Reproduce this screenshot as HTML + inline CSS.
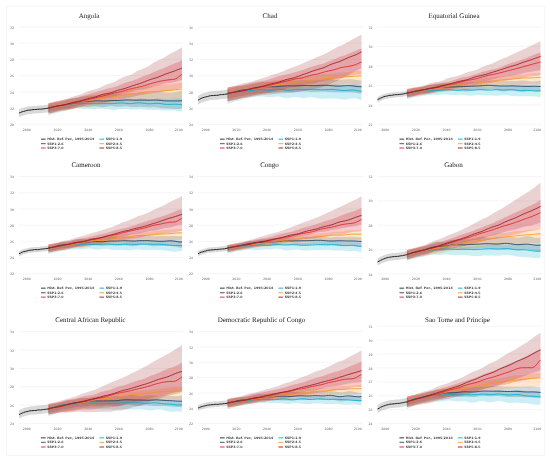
<!DOCTYPE html>
<html><head><meta charset="utf-8"><title>Central Africa temperature projections</title>
<style>
html,body{margin:0;padding:0;background:#fff;}
body{width:550px;height:460px;overflow:hidden;}
svg{display:block;text-rendering:geometricPrecision;filter:blur(0.35px);}
.t{font-family:"Liberation Serif",serif;font-size:7px;fill:#1a1a1a;text-anchor:middle;}
.yl{font-family:"DejaVu Sans","Liberation Sans",sans-serif;font-size:3.2px;fill:#6a6a6a;text-anchor:end;}
.xl{font-family:"DejaVu Sans","Liberation Sans",sans-serif;font-size:3.2px;fill:#6a6a6a;text-anchor:middle;}
.lg{font-family:"DejaVu Sans","Liberation Sans",sans-serif;font-weight:bold;font-size:3.2px;fill:#444;}
.g{stroke:#ececec;stroke-width:0.5;}
</style></head><body>
<svg width="550" height="460" viewBox="0 0 550 460">
<rect x="0" y="0" width="550" height="460" fill="#ffffff"/>
<rect x="6.4" y="6.1" width="538.2" height="449.3" fill="none" stroke="#f1f1f1" stroke-width="0.6"/>

<g>
<text class="t" x="89.0" y="17.9">Angola</text>
<line class="g" x1="18.7" y1="26.90" x2="183.5" y2="26.90"/>
<text class="yl" x="14.0" y="28.50">32</text>
<line class="g" x1="18.7" y1="43.15" x2="183.5" y2="43.15"/>
<text class="yl" x="14.0" y="44.75">30</text>
<line class="g" x1="18.7" y1="59.40" x2="183.5" y2="59.40"/>
<text class="yl" x="14.0" y="61.00">28</text>
<line class="g" x1="18.7" y1="75.65" x2="183.5" y2="75.65"/>
<text class="yl" x="14.0" y="77.25">26</text>
<line class="g" x1="18.7" y1="91.90" x2="183.5" y2="91.90"/>
<text class="yl" x="14.0" y="93.50">24</text>
<line class="g" x1="18.7" y1="108.15" x2="183.5" y2="108.15"/>
<text class="yl" x="14.0" y="109.75">22</text>
<line class="g" x1="18.7" y1="124.40" x2="183.5" y2="124.40"/>
<text class="yl" x="14.0" y="126.00">20</text>
<text class="xl" x="26.8" y="130.60">2000</text>
<text class="xl" x="57.5" y="130.60">2020</text>
<text class="xl" x="88.2" y="130.60">2040</text>
<text class="xl" x="118.8" y="130.60">2060</text>
<text class="xl" x="149.6" y="130.60">2080</text>
<text class="xl" x="178.8" y="130.60">2100</text>
<polygon points="19.0,109.5 20.6,108.8 22.1,108.2 23.7,107.8 25.2,107.4 26.8,106.9 28.3,106.6 29.9,106.5 31.4,106.3 33.0,106.0 34.5,105.9 36.1,105.9 37.6,105.7 39.2,105.6 40.7,105.6 42.3,105.4 43.8,105.2 45.4,105.0 46.9,104.8 48.5,104.5 50.0,104.4 50.0,112.0 48.5,112.1 46.9,112.4 45.4,112.6 43.8,112.8 42.3,113.0 40.7,113.2 39.2,113.2 37.6,113.3 36.1,113.5 34.5,113.5 33.0,113.6 31.4,113.9 29.9,114.1 28.3,114.2 26.8,114.5 25.2,115.0 23.7,115.4 22.1,115.8 20.6,116.4 19.0,117.1" fill="rgb(30,30,30)" fill-opacity="0.17"/>
<polygon points="48.4,108.2 50.0,107.8 51.6,107.3 53.2,106.9 54.7,106.4 56.3,106.0 57.9,105.8 59.4,105.6 61.0,105.5 62.6,105.4 64.2,105.1 65.7,104.6 67.3,104.0 68.9,103.3 70.4,102.6 72.0,102.0 73.6,101.7 75.2,101.5 76.7,101.5 78.3,101.6 79.9,101.8 81.4,101.9 83.0,101.9 84.6,101.9 86.2,101.8 87.7,101.8 89.3,101.7 90.9,101.8 92.4,101.8 94.0,101.9 95.6,102.0 97.2,102.0 98.7,101.9 100.3,101.7 101.9,101.5 103.4,101.2 105.0,100.9 106.6,100.7 108.2,100.5 109.7,100.4 111.3,100.4 112.9,100.3 114.4,100.2 116.0,100.1 117.6,99.9 119.2,99.7 120.7,99.5 122.3,99.5 123.9,99.5 125.4,99.6 127.0,99.7 128.6,99.9 130.2,99.9 131.7,99.9 133.3,99.6 134.9,99.3 136.4,99.0 138.0,98.7 139.6,98.4 141.1,98.4 142.7,98.5 144.3,98.7 145.9,99.0 147.4,99.2 149.0,99.4 150.6,99.4 152.1,99.3 153.7,99.0 155.3,98.8 156.9,98.5 158.4,98.4 160.0,98.4 161.6,98.6 163.1,98.7 164.7,98.9 166.3,99.1 167.9,99.1 169.4,99.0 171.0,98.7 172.6,98.5 174.1,98.3 175.7,98.2 177.3,98.2 178.9,98.3 180.4,98.5 182.0,98.8 182.0,111.8 180.4,111.6 178.9,111.2 177.3,110.9 175.7,110.7 174.1,110.5 172.6,110.4 171.0,110.4 169.4,110.5 167.9,110.6 166.3,110.6 164.7,110.6 163.1,110.5 161.6,110.4 160.0,110.2 158.4,110.1 156.9,110.0 155.3,109.9 153.7,109.9 152.1,110.0 150.6,110.0 149.0,109.9 147.4,109.9 145.9,109.7 144.3,109.6 142.7,109.4 141.1,109.3 139.6,109.3 138.0,109.3 136.4,109.4 134.9,109.5 133.3,109.6 131.7,109.5 130.2,109.5 128.6,109.3 127.0,109.1 125.4,108.9 123.9,108.9 122.3,108.9 120.7,109.0 119.2,109.2 117.6,109.5 116.0,109.8 114.4,109.9 112.9,110.0 111.3,109.8 109.7,109.6 108.2,109.3 106.6,109.0 105.0,108.8 103.4,108.6 101.9,108.5 100.3,108.5 98.7,108.6 97.2,108.8 95.6,108.9 94.0,108.9 92.4,109.0 90.9,109.0 89.3,108.9 87.7,108.8 86.2,108.8 84.6,108.7 83.0,108.6 81.4,108.5 79.9,108.4 78.3,108.3 76.7,108.3 75.2,108.3 73.6,108.4 72.0,108.6 70.4,109.0 68.9,109.5 67.3,110.0 65.7,110.6 64.2,111.1 62.6,111.5 61.0,111.9 59.4,112.3 57.9,112.6 56.3,113.1 54.7,113.6 53.2,114.1 51.6,114.6 50.0,115.1 48.4,115.6" fill="rgb(0,173,207)" fill-opacity="0.20"/>
<polygon points="48.4,104.6 50.0,104.1 51.6,103.6 53.2,103.1 54.7,102.7 56.3,102.5 57.9,102.3 59.4,102.0 61.0,101.7 62.6,101.4 64.2,100.9 65.7,100.3 67.3,99.8 68.9,99.4 70.4,99.0 72.0,98.8 73.6,98.6 75.2,98.4 76.7,98.1 78.3,97.8 79.9,97.4 81.4,97.0 83.0,96.6 84.6,96.3 86.2,96.0 87.7,95.8 89.3,95.6 90.9,95.5 92.4,95.5 94.0,95.5 95.6,95.5 97.2,95.5 98.7,95.6 100.3,95.6 101.9,95.6 103.4,95.4 105.0,95.2 106.6,94.9 108.2,94.6 109.7,94.3 111.3,94.1 112.9,94.0 114.4,93.9 116.0,93.8 117.6,93.8 119.2,93.8 120.7,93.7 122.3,93.6 123.9,93.4 125.4,93.3 127.0,93.3 128.6,93.2 130.2,93.2 131.7,93.2 133.3,93.2 134.9,93.1 136.4,92.9 138.0,92.7 139.6,92.5 141.1,92.4 142.7,92.3 144.3,92.3 145.9,92.4 147.4,92.5 149.0,92.5 150.6,92.6 152.1,92.5 153.7,92.3 155.3,92.2 156.9,92.1 158.4,92.0 160.0,92.0 161.6,92.1 163.1,92.3 164.7,92.5 166.3,92.6 167.9,92.8 169.4,92.8 171.0,92.8 172.6,92.6 174.1,92.4 175.7,92.1 177.3,91.8 178.9,91.5 180.4,91.2 182.0,91.0 182.0,108.4 180.4,108.6 178.9,108.9 177.3,109.0 175.7,109.1 174.1,109.0 172.6,108.8 171.0,108.7 169.4,108.5 167.9,108.4 166.3,108.4 164.7,108.3 163.1,108.3 161.6,108.1 160.0,107.9 158.4,107.6 156.9,107.4 155.3,107.2 153.7,107.1 152.1,107.2 150.6,107.2 149.0,107.3 147.4,107.3 145.9,107.2 144.3,107.0 142.7,106.9 141.1,106.8 139.6,106.8 138.0,106.9 136.4,107.0 134.9,107.0 133.3,107.0 131.7,106.9 130.2,106.7 128.6,106.5 127.0,106.3 125.4,106.2 123.9,106.3 122.3,106.5 120.7,106.7 119.2,106.8 117.6,106.8 116.0,106.7 114.4,106.5 112.9,106.2 111.3,106.1 109.7,106.2 108.2,106.4 106.6,106.7 105.0,107.0 103.4,107.2 101.9,107.2 100.3,107.0 98.7,106.8 97.2,106.5 95.6,106.4 94.0,106.4 92.4,106.5 90.9,106.6 89.3,106.8 87.7,106.9 86.2,106.8 84.6,106.6 83.0,106.4 81.4,106.4 79.9,106.5 78.3,106.8 76.7,107.2 75.2,107.8 73.6,108.3 72.0,108.8 70.4,109.0 68.9,109.2 67.3,109.2 65.7,109.3 64.2,109.4 62.6,109.6 61.0,109.8 59.4,110.1 57.9,110.3 56.3,110.4 54.7,110.6 53.2,110.9 51.6,111.2 50.0,111.6 48.4,111.9" fill="rgb(23,60,102)" fill-opacity="0.20"/>
<polygon points="48.4,103.2 50.0,102.9 51.6,102.6 53.2,102.3 54.7,102.0 56.3,101.6 57.9,101.3 59.4,100.9 61.0,100.6 62.6,100.2 64.2,99.9 65.7,99.6 67.3,99.3 68.9,99.1 70.4,98.8 72.0,98.6 73.6,98.4 75.2,98.2 76.7,97.9 78.3,97.7 79.9,97.4 81.4,97.2 83.0,96.9 84.6,96.7 86.2,96.4 87.7,96.1 89.3,95.8 90.9,95.5 92.4,95.2 94.0,94.8 95.6,94.5 97.2,94.1 98.7,93.7 100.3,93.4 101.9,93.2 103.4,92.9 105.0,92.7 106.6,92.4 108.2,92.2 109.7,91.9 111.3,91.6 112.9,91.3 114.4,91.1 116.0,90.9 117.6,90.8 119.2,90.7 120.7,90.6 122.3,90.4 123.9,90.2 125.4,89.9 127.0,89.6 128.6,89.3 130.2,89.0 131.7,88.8 133.3,88.6 134.9,88.4 136.4,88.2 138.0,87.9 139.6,87.6 141.1,87.3 142.7,86.9 144.3,86.6 145.9,86.3 147.4,86.1 149.0,85.9 150.6,85.8 152.1,85.8 153.7,85.7 155.3,85.5 156.9,85.3 158.4,85.1 160.0,84.8 161.6,84.7 163.1,84.6 164.7,84.5 166.3,84.5 167.9,84.5 169.4,84.4 171.0,84.2 172.6,84.0 174.1,83.7 175.7,83.4 177.3,83.2 178.9,83.0 180.4,83.0 182.0,83.0 182.0,99.1 180.4,99.0 178.9,99.0 177.3,99.0 175.7,99.0 174.1,98.9 172.6,98.9 171.0,98.9 169.4,99.0 167.9,99.1 166.3,99.3 164.7,99.6 163.1,99.8 161.6,100.0 160.0,100.0 158.4,99.9 156.9,99.8 155.3,99.6 153.7,99.5 152.1,99.5 150.6,99.6 149.0,99.9 147.4,100.2 145.9,100.5 144.3,100.8 142.7,101.0 141.1,101.1 139.6,101.1 138.0,101.1 136.4,101.1 134.9,101.2 133.3,101.3 131.7,101.4 130.2,101.5 128.6,101.6 127.0,101.8 125.4,101.9 123.9,102.1 122.3,102.3 120.7,102.6 119.2,102.9 117.6,103.2 116.0,103.5 114.4,103.6 112.9,103.7 111.3,103.7 109.7,103.7 108.2,103.7 106.6,103.8 105.0,104.0 103.4,104.3 101.9,104.7 100.3,105.1 98.7,105.4 97.2,105.7 95.6,105.9 94.0,106.1 92.4,106.2 90.9,106.4 89.3,106.6 87.7,106.8 86.2,107.0 84.6,107.3 83.0,107.4 81.4,107.6 79.9,107.8 78.3,108.0 76.7,108.2 75.2,108.6 73.6,109.0 72.0,109.5 70.4,109.9 68.9,110.3 67.3,110.6 65.7,110.7 64.2,110.8 62.6,110.8 61.0,111.0 59.4,111.2 57.9,111.5 56.3,111.9 54.7,112.3 53.2,112.7 51.6,113.0 50.0,113.3 48.4,113.6" fill="rgb(247,148,32)" fill-opacity="0.22"/>
<polygon points="48.4,103.2 50.0,102.9 51.6,102.7 53.2,102.4 54.7,102.1 56.3,101.8 57.9,101.4 59.4,101.0 61.0,100.7 62.6,100.4 64.2,100.1 65.7,99.8 67.3,99.5 68.9,99.2 70.4,98.8 72.0,98.4 73.6,98.0 75.2,97.6 76.7,97.2 78.3,96.9 79.9,96.5 81.4,96.1 83.0,95.7 84.6,95.3 86.2,94.8 87.7,94.4 89.3,93.9 90.9,93.5 92.4,93.0 94.0,92.6 95.6,92.2 97.2,91.8 98.7,91.3 100.3,90.8 101.9,90.3 103.4,89.8 105.0,89.3 106.6,88.8 108.2,88.4 109.7,88.1 111.3,87.7 112.9,87.4 114.4,87.0 116.0,86.5 117.6,85.9 119.2,85.3 120.7,84.6 122.3,83.9 123.9,83.3 125.4,82.7 127.0,82.2 128.6,81.8 130.2,81.3 131.7,80.9 133.3,80.4 134.9,79.8 136.4,79.2 138.0,78.6 139.6,77.9 141.1,77.2 142.7,76.6 144.3,76.0 145.9,75.4 147.4,74.8 149.0,74.2 150.6,73.5 152.1,72.8 153.7,72.2 155.3,71.5 156.9,70.8 158.4,70.2 160.0,69.6 161.6,69.0 163.1,68.4 164.7,67.7 166.3,67.0 167.9,66.3 169.4,65.6 171.0,64.9 172.6,64.3 174.1,63.6 175.7,63.0 177.3,62.4 178.9,61.7 180.4,61.0 182.0,60.2 182.0,87.9 180.4,88.2 178.9,88.6 177.3,88.9 175.7,89.2 174.1,89.6 172.6,89.9 171.0,90.1 169.4,90.4 167.9,90.7 166.3,90.9 164.7,91.2 163.1,91.4 161.6,91.7 160.0,92.0 158.4,92.2 156.9,92.5 155.3,92.8 153.7,93.0 152.1,93.3 150.6,93.5 149.0,93.7 147.4,94.0 145.9,94.2 144.3,94.4 142.7,94.7 141.1,95.0 139.6,95.3 138.0,95.6 136.4,96.0 134.9,96.3 133.3,96.7 131.7,97.1 130.2,97.4 128.6,97.8 127.0,98.1 125.4,98.4 123.9,98.7 122.3,99.0 120.7,99.3 119.2,99.5 117.6,99.8 116.0,100.1 114.4,100.4 112.9,100.7 111.3,101.0 109.7,101.3 108.2,101.6 106.6,102.0 105.0,102.3 103.4,102.6 101.9,102.9 100.3,103.1 98.7,103.4 97.2,103.6 95.6,103.8 94.0,104.0 92.4,104.3 90.9,104.5 89.3,104.8 87.7,105.1 86.2,105.5 84.6,105.9 83.0,106.3 81.4,106.7 79.9,107.2 78.3,107.6 76.7,108.0 75.2,108.3 73.6,108.7 72.0,109.0 70.4,109.3 68.9,109.6 67.3,109.9 65.7,110.2 64.2,110.4 62.6,110.7 61.0,111.0 59.4,111.3 57.9,111.6 56.3,112.0 54.7,112.3 53.2,112.6 51.6,112.9 50.0,113.3 48.4,113.6" fill="rgb(231,29,37)" fill-opacity="0.24"/>
<polygon points="48.4,103.2 50.0,102.8 51.6,102.4 53.2,102.0 54.7,101.6 56.3,101.3 57.9,100.9 59.4,100.6 61.0,100.2 62.6,99.8 64.2,99.3 65.7,98.9 67.3,98.4 68.9,97.9 70.4,97.4 72.0,96.9 73.6,96.4 75.2,95.9 76.7,95.4 78.3,94.9 79.9,94.4 81.4,93.9 83.0,93.4 84.6,92.8 86.2,92.1 87.7,91.5 89.3,90.9 90.9,90.4 92.4,90.0 94.0,89.6 95.6,89.2 97.2,88.8 98.7,88.2 100.3,87.6 101.9,86.8 103.4,86.0 105.0,85.3 106.6,84.6 108.2,84.1 109.7,83.6 111.3,83.1 112.9,82.6 114.4,82.0 116.0,81.2 117.6,80.3 119.2,79.3 120.7,78.4 122.3,77.6 123.9,77.0 125.4,76.5 127.0,76.1 128.6,75.6 130.2,75.1 131.7,74.4 133.3,73.5 134.9,72.5 136.4,71.6 138.0,70.7 139.6,70.0 141.1,69.4 142.7,68.8 144.3,68.3 145.9,67.6 147.4,66.8 149.0,65.8 150.6,64.7 152.1,63.7 153.7,62.6 155.3,61.7 156.9,60.9 158.4,60.2 160.0,59.6 161.6,58.9 163.1,58.1 164.7,57.2 166.3,56.2 167.9,55.2 169.4,54.2 171.0,53.3 172.6,52.5 174.1,51.7 175.7,50.9 177.3,50.1 178.9,49.2 180.4,48.3 182.0,47.3 182.0,79.9 180.4,80.2 178.9,80.7 177.3,81.2 175.7,81.7 174.1,82.1 172.6,82.4 171.0,82.7 169.4,82.9 167.9,83.1 166.3,83.3 164.7,83.6 163.1,84.0 161.6,84.5 160.0,84.9 158.4,85.3 156.9,85.7 155.3,86.1 153.7,86.6 152.1,87.0 150.6,87.5 149.0,88.0 147.4,88.4 145.9,88.8 144.3,89.1 142.7,89.4 141.1,89.6 139.6,89.8 138.0,90.1 136.4,90.4 134.9,90.9 133.3,91.4 131.7,91.9 130.2,92.4 128.6,92.7 127.0,93.0 125.4,93.2 123.9,93.5 122.3,93.8 120.7,94.2 119.2,94.7 117.6,95.4 116.0,96.0 114.4,96.6 112.9,97.1 111.3,97.5 109.7,97.8 108.2,98.0 106.6,98.1 105.0,98.4 103.4,98.7 101.9,99.1 100.3,99.6 98.7,100.0 97.2,100.5 95.6,100.9 94.0,101.3 92.4,101.6 90.9,102.0 89.3,102.4 87.7,102.9 86.2,103.4 84.6,103.9 83.0,104.4 81.4,104.8 79.9,105.3 78.3,105.7 76.7,106.1 75.2,106.5 73.6,107.0 72.0,107.5 70.4,107.9 68.9,108.3 67.3,108.6 65.7,108.8 64.2,109.0 62.6,109.3 61.0,109.7 59.4,110.2 57.9,110.8 56.3,111.3 54.7,111.9 53.2,112.4 51.6,112.8 50.0,113.2 48.4,113.6" fill="rgb(149,27,30)" fill-opacity="0.20"/>
<polyline points="19.0,113.1 20.6,112.4 22.1,111.8 23.7,111.4 25.2,111.0 26.8,110.5 28.3,110.2 29.9,110.1 31.4,109.9 33.0,109.6 34.5,109.5 36.1,109.5 37.6,109.3 39.2,109.2 40.7,109.2 42.3,109.0 43.8,108.8 45.4,108.6 46.9,108.4 48.5,108.1 50.0,108.0" fill="none" stroke="rgb(35,35,35)" stroke-width="1.00" stroke-linejoin="round"/>
<polyline points="48.4,108.0 50.0,107.7 51.6,107.3 53.2,106.8 54.7,106.4 56.3,106.1 57.9,105.9 59.4,105.7 61.0,105.6 62.6,105.5 64.2,105.3 65.7,105.0 67.3,104.6 68.9,104.3 70.4,103.9 72.0,103.7 73.6,103.5 75.2,103.5 76.7,103.5 78.3,103.6 79.9,103.6 81.4,103.7 83.0,103.7 84.6,103.6 86.2,103.6 87.7,103.6 89.3,103.6 90.9,103.6 92.4,103.6 94.0,103.7 95.6,103.7 97.2,103.7 98.7,103.7 100.3,103.6 101.9,103.6 103.4,103.6 105.0,103.6 106.6,103.6 108.2,103.6 109.7,103.7 111.3,103.6 112.9,103.6 114.4,103.4 116.0,103.3 117.6,103.1 119.2,103.0 120.7,102.9 122.3,103.0 123.9,103.1 125.4,103.3 127.0,103.4 128.6,103.6 130.2,103.6 131.7,103.5 133.3,103.4 134.9,103.1 136.4,102.9 138.0,102.8 139.6,102.8 141.1,102.9 142.7,103.1 144.3,103.3 145.9,103.6 147.4,103.7 149.0,103.8 150.6,103.8 152.1,103.7 153.7,103.5 155.3,103.4 156.9,103.3 158.4,103.4 160.0,103.5 161.6,103.7 163.1,104.0 164.7,104.2 166.3,104.4 167.9,104.4 169.4,104.4 171.0,104.4 172.6,104.3 174.1,104.2 175.7,104.3 177.3,104.3 178.9,104.5 180.4,104.7 182.0,104.8" fill="none" stroke="rgb(0,173,207)" stroke-width="0.85" stroke-linejoin="round"/>
<polyline points="48.4,108.0 50.0,107.6 51.6,107.2 53.2,106.8 54.7,106.5 56.3,106.2 57.9,105.9 59.4,105.6 61.0,105.4 62.6,105.1 64.2,104.9 65.7,104.6 67.3,104.3 68.9,104.0 70.4,103.8 72.0,103.6 73.6,103.3 75.2,103.0 76.7,102.7 78.3,102.3 79.9,102.0 81.4,101.8 83.0,101.6 84.6,101.5 86.2,101.4 87.7,101.4 89.3,101.3 90.9,101.2 92.4,101.1 94.0,101.0 95.6,100.9 97.2,100.9 98.7,100.9 100.3,100.9 101.9,101.0 103.4,101.0 105.0,101.0 106.6,101.0 108.2,100.9 109.7,100.7 111.3,100.6 112.9,100.6 114.4,100.5 116.0,100.5 117.6,100.5 119.2,100.4 120.7,100.3 122.3,100.2 123.9,100.1 125.4,99.9 127.0,99.9 128.6,99.9 130.2,99.9 131.7,100.0 133.3,100.1 134.9,100.2 136.4,100.2 138.0,100.2 139.6,100.1 141.1,100.1 142.7,100.1 144.3,100.1 145.9,100.1 147.4,100.2 149.0,100.2 150.6,100.2 152.1,100.1 153.7,100.1 155.3,100.1 156.9,100.1 158.4,100.2 160.0,100.3 161.6,100.5 163.1,100.7 164.7,100.8 166.3,100.9 167.9,100.9 169.4,100.9 171.0,100.9 172.6,100.9 174.1,100.9 175.7,100.9 177.3,100.9 178.9,100.9 180.4,100.8 182.0,100.7" fill="none" stroke="rgb(23,60,102)" stroke-width="0.85" stroke-linejoin="round"/>
<polyline points="48.4,108.0 50.0,107.7 51.6,107.4 53.2,107.2 54.7,106.9 56.3,106.7 57.9,106.4 59.4,106.0 61.0,105.6 62.6,105.2 64.2,104.8 65.7,104.4 67.3,104.1 68.9,103.9 70.4,103.6 72.0,103.4 73.6,103.1 75.2,102.8 76.7,102.5 78.3,102.2 79.9,101.9 81.4,101.7 83.0,101.4 84.6,101.3 86.2,101.1 87.7,100.9 89.3,100.6 90.9,100.3 92.4,99.9 94.0,99.6 95.6,99.2 97.2,99.0 98.7,98.7 100.3,98.5 101.9,98.4 103.4,98.3 105.0,98.1 106.6,97.9 108.2,97.6 109.7,97.3 111.3,97.0 112.9,96.7 114.4,96.4 116.0,96.2 117.6,96.0 119.2,95.8 120.7,95.6 122.3,95.4 123.9,95.2 125.4,94.9 127.0,94.6 128.6,94.3 130.2,94.0 131.7,93.8 133.3,93.7 134.9,93.6 136.4,93.5 138.0,93.3 139.6,93.1 141.1,92.9 142.7,92.6 144.3,92.4 145.9,92.1 147.4,92.0 149.0,91.8 150.6,91.8 152.1,91.7 153.7,91.7 155.3,91.6 156.9,91.5 158.4,91.3 160.0,91.2 161.6,91.0 163.1,90.8 164.7,90.7 166.3,90.6 167.9,90.5 169.4,90.4 171.0,90.3 172.6,90.1 174.1,89.9 175.7,89.6 177.3,89.4 178.9,89.3 180.4,89.2 182.0,89.2" fill="none" stroke="rgb(247,148,32)" stroke-width="0.85" stroke-linejoin="round"/>
<polyline points="48.4,108.0 50.0,107.7 51.6,107.3 53.2,107.0 54.7,106.7 56.3,106.4 57.9,106.1 59.4,105.8 61.0,105.5 62.6,105.2 64.2,104.8 65.7,104.4 67.3,104.1 68.9,103.7 70.4,103.4 72.0,103.1 73.6,102.7 75.2,102.4 76.7,102.1 78.3,101.8 79.9,101.5 81.4,101.1 83.0,100.7 84.6,100.4 86.2,100.0 87.7,99.6 89.3,99.2 90.9,98.9 92.4,98.5 94.0,98.1 95.6,97.8 97.2,97.4 98.7,97.0 100.3,96.6 101.9,96.2 103.4,95.8 105.0,95.4 106.6,95.0 108.2,94.6 109.7,94.2 111.3,93.8 112.9,93.5 114.4,93.1 116.0,92.8 117.6,92.4 119.2,92.1 120.7,91.6 122.3,91.2 123.9,90.8 125.4,90.3 127.0,89.9 128.6,89.4 130.2,89.0 131.7,88.6 133.3,88.2 134.9,87.9 136.4,87.6 138.0,87.2 139.6,86.9 141.1,86.5 142.7,86.1 144.3,85.6 145.9,85.2 147.4,84.7 149.0,84.2 150.6,83.7 152.1,83.2 153.7,82.8 155.3,82.4 156.9,82.0 158.4,81.6 160.0,81.3 161.6,81.0 163.1,80.7 164.7,80.4 166.3,80.2 167.9,79.9 169.4,79.7 171.0,79.6 172.6,79.5 174.1,79.3 175.7,78.7 177.3,77.9 178.9,76.7 180.4,75.5 182.0,74.3" fill="none" stroke="rgb(231,29,37)" stroke-width="0.85" stroke-linejoin="round"/>
<polyline points="48.4,108.0 50.0,107.7 51.6,107.3 53.2,107.0 54.7,106.7 56.3,106.3 57.9,106.0 59.4,105.7 61.0,105.5 62.6,105.2 64.2,104.9 65.7,104.5 67.3,104.1 68.9,103.6 70.4,103.2 72.0,102.8 73.6,102.4 75.2,102.1 76.7,101.7 78.3,101.4 79.9,101.0 81.4,100.5 83.0,100.1 84.6,99.6 86.2,99.2 87.7,98.8 89.3,98.4 90.9,98.1 92.4,97.7 94.0,97.3 95.6,96.8 97.2,96.3 98.7,95.7 100.3,95.2 101.9,94.7 103.4,94.3 105.0,94.0 106.6,93.7 108.2,93.4 109.7,93.0 111.3,92.6 112.9,92.1 114.4,91.5 116.0,90.9 117.6,90.4 119.2,89.9 120.7,89.5 122.3,89.1 123.9,88.7 125.4,88.3 127.0,87.8 128.6,87.2 130.2,86.7 131.7,86.1 133.3,85.6 134.9,85.1 136.4,84.6 138.0,84.1 139.6,83.7 141.1,83.1 142.7,82.5 144.3,81.9 145.9,81.2 147.4,80.6 149.0,80.0 150.6,79.5 152.1,79.0 153.7,78.5 155.3,78.1 156.9,77.5 158.4,77.0 160.0,76.4 161.6,75.7 163.1,75.1 164.7,74.4 166.3,73.8 167.9,73.3 169.4,72.7 171.0,72.2 172.6,71.7 174.1,71.1 175.7,70.5 177.3,69.9 178.9,69.3 180.4,68.7 182.0,68.1" fill="none" stroke="rgb(149,27,30)" stroke-width="0.85" stroke-linejoin="round"/>
<rect x="41.0" y="138.45" width="4.6" height="1.5" fill="rgb(35,35,35)" fill-opacity="0.3"/>
<line x1="41.0" y1="139.20" x2="45.6" y2="139.20" stroke="rgb(35,35,35)" stroke-width="0.6"/>
<text class="lg" x="47.2" y="140.25" textLength="47.0" lengthAdjust="spacingAndGlyphs">Hist. Ref. Per., 1995-2014</text>
<rect x="41.0" y="142.85" width="4.6" height="1.5" fill="rgb(23,60,102)" fill-opacity="0.3"/>
<line x1="41.0" y1="143.60" x2="45.6" y2="143.60" stroke="rgb(23,60,102)" stroke-width="0.6"/>
<text class="lg" x="47.2" y="144.65" textLength="16.4" lengthAdjust="spacingAndGlyphs">SSP1-2.6</text>
<rect x="41.0" y="147.25" width="4.6" height="1.5" fill="rgb(231,29,37)" fill-opacity="0.3"/>
<line x1="41.0" y1="148.00" x2="45.6" y2="148.00" stroke="rgb(231,29,37)" stroke-width="0.6"/>
<text class="lg" x="47.2" y="149.05" textLength="16.4" lengthAdjust="spacingAndGlyphs">SSP3-7.0</text>
<rect x="99.5" y="138.45" width="4.6" height="1.5" fill="rgb(0,173,207)" fill-opacity="0.3"/>
<line x1="99.5" y1="139.20" x2="104.1" y2="139.20" stroke="rgb(0,173,207)" stroke-width="0.6"/>
<text class="lg" x="105.7" y="140.25" textLength="16.4" lengthAdjust="spacingAndGlyphs">SSP1-1.9</text>
<rect x="99.5" y="142.85" width="4.6" height="1.5" fill="rgb(247,148,32)" fill-opacity="0.3"/>
<line x1="99.5" y1="143.60" x2="104.1" y2="143.60" stroke="rgb(247,148,32)" stroke-width="0.6"/>
<text class="lg" x="105.7" y="144.65" textLength="16.4" lengthAdjust="spacingAndGlyphs">SSP2-4.5</text>
<rect x="99.5" y="147.25" width="4.6" height="1.5" fill="rgb(149,27,30)" fill-opacity="0.3"/>
<line x1="99.5" y1="148.00" x2="104.1" y2="148.00" stroke="rgb(149,27,30)" stroke-width="0.6"/>
<text class="lg" x="105.7" y="149.05" textLength="16.4" lengthAdjust="spacingAndGlyphs">SSP5-8.5</text>
</g>
<g>
<text class="t" x="270.0" y="17.9">Chad</text>
<line class="g" x1="197.7" y1="26.90" x2="363.0" y2="26.90"/>
<text class="yl" x="193.0" y="28.50">36</text>
<line class="g" x1="197.7" y1="43.17" x2="363.0" y2="43.17"/>
<text class="yl" x="193.0" y="44.77">34</text>
<line class="g" x1="197.7" y1="59.43" x2="363.0" y2="59.43"/>
<text class="yl" x="193.0" y="61.03">32</text>
<line class="g" x1="197.7" y1="75.70" x2="363.0" y2="75.70"/>
<text class="yl" x="193.0" y="77.30">30</text>
<line class="g" x1="197.7" y1="91.97" x2="363.0" y2="91.97"/>
<text class="yl" x="193.0" y="93.57">28</text>
<line class="g" x1="197.7" y1="108.23" x2="363.0" y2="108.23"/>
<text class="yl" x="193.0" y="109.83">26</text>
<line class="g" x1="197.7" y1="124.50" x2="363.0" y2="124.50"/>
<text class="yl" x="193.0" y="126.10">24</text>
<text class="xl" x="205.8" y="130.60">2000</text>
<text class="xl" x="236.4" y="130.60">2020</text>
<text class="xl" x="267.1" y="130.60">2040</text>
<text class="xl" x="297.9" y="130.60">2060</text>
<text class="xl" x="328.6" y="130.60">2080</text>
<text class="xl" x="357.8" y="130.60">2100</text>
<polygon points="198.0,95.8 199.6,94.9 201.1,94.0 202.7,93.4 204.2,92.9 205.8,92.5 207.3,92.2 208.9,91.7 210.5,91.3 212.0,91.2 213.6,91.1 215.1,91.0 216.7,91.0 218.2,90.8 219.8,90.4 221.4,90.2 222.9,90.2 224.5,90.0 226.0,89.7 227.6,89.4 229.1,88.9 229.1,97.7 227.6,98.2 226.0,98.5 224.5,98.8 222.9,99.0 221.4,99.0 219.8,99.2 218.2,99.6 216.7,99.8 215.1,99.8 213.6,99.9 212.0,100.0 210.5,100.1 208.9,100.5 207.3,101.0 205.8,101.3 204.2,101.7 202.7,102.2 201.1,102.8 199.6,103.7 198.0,104.6" fill="rgb(30,30,30)" fill-opacity="0.17"/>
<polygon points="227.5,93.8 229.1,93.4 230.7,93.0 232.3,92.6 233.8,92.3 235.4,92.0 237.0,91.6 238.6,91.1 240.2,90.6 241.7,90.2 243.3,89.8 244.9,89.6 246.5,89.6 248.0,89.6 249.6,89.7 251.2,89.6 252.8,89.4 254.3,89.1 255.9,88.7 257.5,88.3 259.1,88.0 260.6,87.8 262.2,87.9 263.8,88.1 265.4,88.4 266.9,88.6 268.5,88.8 270.1,88.8 271.7,88.5 273.2,88.1 274.8,87.6 276.4,87.1 278.0,86.7 279.5,86.6 281.1,86.6 282.7,86.8 284.3,87.1 285.9,87.4 287.4,87.5 289.0,87.5 290.6,87.3 292.2,86.9 293.7,86.6 295.3,86.2 296.9,86.0 298.5,85.9 300.0,85.9 301.6,86.0 303.2,86.1 304.8,86.2 306.3,86.3 307.9,86.2 309.5,86.0 311.1,85.8 312.6,85.6 314.2,85.4 315.8,85.3 317.4,85.3 318.9,85.3 320.5,85.4 322.1,85.4 323.7,85.5 325.3,85.4 326.8,85.3 328.4,85.1 330.0,84.9 331.6,84.6 333.1,84.5 334.7,84.4 336.3,84.5 337.9,84.6 339.4,84.9 341.0,85.1 342.6,85.3 344.2,85.4 345.7,85.4 347.3,85.3 348.9,85.0 350.5,84.7 352.0,84.4 353.6,84.3 355.2,84.3 356.8,84.5 358.3,84.8 359.9,85.1 361.5,85.4 361.5,100.2 359.9,99.7 358.3,99.2 356.8,98.7 355.2,98.3 353.6,98.2 352.0,98.4 350.5,98.7 348.9,99.1 347.3,99.4 345.7,99.6 344.2,99.6 342.6,99.5 341.0,99.2 339.4,99.0 337.9,98.8 336.3,98.6 334.7,98.5 333.1,98.5 331.6,98.5 330.0,98.5 328.4,98.6 326.8,98.6 325.3,98.7 323.7,98.8 322.1,98.8 320.5,98.7 318.9,98.5 317.4,98.2 315.8,97.9 314.2,97.5 312.6,97.3 311.1,97.2 309.5,97.2 307.9,97.4 306.3,97.7 304.8,97.9 303.2,98.0 301.6,97.9 300.0,97.6 298.5,97.4 296.9,97.1 295.3,97.0 293.7,97.1 292.2,97.4 290.6,97.8 289.0,98.1 287.4,98.3 285.9,98.2 284.3,98.0 282.7,97.6 281.1,97.1 279.5,96.7 278.0,96.5 276.4,96.5 274.8,96.7 273.2,96.9 271.7,97.1 270.1,97.2 268.5,97.1 266.9,97.0 265.4,96.7 263.8,96.5 262.2,96.4 260.6,96.4 259.1,96.4 257.5,96.6 255.9,96.8 254.3,96.9 252.8,97.0 251.2,97.2 249.6,97.4 248.0,97.7 246.5,98.2 244.9,98.7 243.3,99.3 241.7,99.8 240.2,100.3 238.6,100.6 237.0,100.9 235.4,101.3 233.8,101.7 232.3,102.2 230.7,102.7 229.1,103.3 227.5,103.9" fill="rgb(0,173,207)" fill-opacity="0.20"/>
<polygon points="227.5,89.3 229.1,88.9 230.7,88.5 232.3,88.1 233.8,87.7 235.4,87.3 237.0,86.9 238.6,86.5 240.2,86.2 241.7,85.9 243.3,85.7 244.9,85.5 246.5,85.3 248.0,85.1 249.6,84.8 251.2,84.5 252.8,84.1 254.3,83.8 255.9,83.4 257.5,83.1 259.1,82.8 260.6,82.5 262.2,82.3 263.8,82.2 265.4,82.1 266.9,82.0 268.5,81.9 270.1,81.9 271.7,81.7 273.2,81.6 274.8,81.4 276.4,81.2 278.0,80.9 279.5,80.8 281.1,80.6 282.7,80.5 284.3,80.5 285.9,80.5 287.4,80.5 289.0,80.6 290.6,80.6 292.2,80.7 293.7,80.6 295.3,80.6 296.9,80.5 298.5,80.3 300.0,80.2 301.6,80.1 303.2,80.0 304.8,80.0 306.3,80.0 307.9,80.1 309.5,80.2 311.1,80.3 312.6,80.3 314.2,80.3 315.8,80.3 317.4,80.2 318.9,80.0 320.5,79.9 322.1,79.7 323.7,79.5 325.3,79.4 326.8,79.3 328.4,79.3 330.0,79.4 331.6,79.5 333.1,79.6 334.7,79.8 336.3,79.9 337.9,79.9 339.4,79.9 341.0,79.8 342.6,79.6 344.2,79.5 345.7,79.3 347.3,79.2 348.9,79.1 350.5,79.2 352.0,79.3 353.6,79.5 355.2,79.7 356.8,80.0 358.3,80.2 359.9,80.4 361.5,80.5 361.5,93.5 359.9,93.4 358.3,93.2 356.8,92.9 355.2,92.7 353.6,92.5 352.0,92.4 350.5,92.3 348.9,92.3 347.3,92.2 345.7,92.2 344.2,92.2 342.6,92.2 341.0,92.2 339.4,92.3 337.9,92.3 336.3,92.3 334.7,92.3 333.1,92.2 331.6,92.1 330.0,92.0 328.4,91.9 326.8,91.7 325.3,91.6 323.7,91.5 322.1,91.5 320.5,91.6 318.9,91.7 317.4,91.8 315.8,91.9 314.2,92.0 312.6,92.0 311.1,91.9 309.5,91.8 307.9,91.6 306.3,91.4 304.8,91.3 303.2,91.3 301.6,91.3 300.0,91.5 298.5,91.7 296.9,92.0 295.3,92.2 293.7,92.3 292.2,92.4 290.6,92.3 289.0,92.2 287.4,92.0 285.9,91.9 284.3,91.8 282.7,91.8 281.1,91.8 279.5,92.0 278.0,92.2 276.4,92.3 274.8,92.5 273.2,92.6 271.7,92.7 270.1,92.7 268.5,92.7 266.9,92.7 265.4,92.8 263.8,92.9 262.2,93.1 260.6,93.2 259.1,93.4 257.5,93.6 255.9,93.8 254.3,94.0 252.8,94.2 251.2,94.3 249.6,94.6 248.0,94.8 246.5,95.0 244.9,95.3 243.3,95.6 241.7,95.9 240.2,96.1 238.6,96.4 237.0,96.7 235.4,97.1 233.8,97.5 232.3,97.8 230.7,98.2 229.1,98.6 227.5,98.9" fill="rgb(23,60,102)" fill-opacity="0.20"/>
<polygon points="227.5,87.5 229.1,87.2 230.7,87.0 232.3,86.7 233.8,86.5 235.4,86.3 237.0,86.1 238.6,85.9 240.2,85.7 241.7,85.4 243.3,85.1 244.9,84.7 246.5,84.4 248.0,84.2 249.6,84.0 251.2,83.7 252.8,83.5 254.3,83.3 255.9,83.0 257.5,82.8 259.1,82.5 260.6,82.3 262.2,82.1 263.8,82.0 265.4,81.8 266.9,81.6 268.5,81.4 270.1,81.2 271.7,80.9 273.2,80.6 274.8,80.3 276.4,80.1 278.0,79.9 279.5,79.7 281.1,79.6 282.7,79.4 284.3,79.2 285.9,79.0 287.4,78.7 289.0,78.4 290.6,78.0 292.2,77.8 293.7,77.6 295.3,77.4 296.9,77.3 298.5,77.2 300.0,77.0 301.6,76.9 303.2,76.7 304.8,76.5 306.3,76.3 307.9,76.1 309.5,75.9 311.1,75.8 312.6,75.6 314.2,75.4 315.8,75.2 317.4,74.9 318.9,74.6 320.5,74.4 322.1,74.1 323.7,74.0 325.3,73.9 326.8,73.8 328.4,73.7 330.0,73.6 331.6,73.5 333.1,73.3 334.7,73.1 336.3,72.9 337.9,72.6 339.4,72.5 341.0,72.4 342.6,72.3 344.2,72.2 345.7,72.2 347.3,72.1 348.9,71.9 350.5,71.7 352.0,71.6 353.6,71.4 355.2,71.2 356.8,71.1 358.3,71.1 359.9,71.0 361.5,70.9 361.5,83.9 359.9,84.1 358.3,84.3 356.8,84.4 355.2,84.5 353.6,84.4 352.0,84.2 350.5,84.1 348.9,83.9 347.3,83.8 345.7,83.9 344.2,84.0 342.6,84.2 341.0,84.5 339.4,84.7 337.9,84.9 336.3,85.0 334.7,85.1 333.1,85.1 331.6,85.1 330.0,85.2 328.4,85.3 326.8,85.5 325.3,85.7 323.7,85.9 322.1,86.1 320.5,86.3 318.9,86.5 317.4,86.6 315.8,86.7 314.2,86.8 312.6,86.8 311.1,86.9 309.5,87.0 307.9,87.1 306.3,87.3 304.8,87.4 303.2,87.6 301.6,87.9 300.0,88.1 298.5,88.4 296.9,88.6 295.3,88.8 293.7,89.0 292.2,89.2 290.6,89.4 289.0,89.6 287.4,89.8 285.9,90.1 284.3,90.4 282.7,90.8 281.1,91.1 279.5,91.4 278.0,91.7 276.4,91.9 274.8,92.1 273.2,92.2 271.7,92.4 270.1,92.6 268.5,92.8 266.9,93.0 265.4,93.3 263.8,93.7 262.2,94.0 260.6,94.3 259.1,94.6 257.5,94.8 255.9,95.1 254.3,95.3 252.8,95.6 251.2,95.9 249.6,96.3 248.0,96.7 246.5,97.1 244.9,97.5 243.3,97.8 241.7,98.2 240.2,98.5 238.6,98.8 237.0,99.2 235.4,99.5 233.8,99.8 232.3,100.2 230.7,100.5 229.1,100.9 227.5,101.2" fill="rgb(247,148,32)" fill-opacity="0.22"/>
<polygon points="227.5,87.5 229.1,87.2 230.7,86.9 232.3,86.6 233.8,86.4 235.4,86.1 237.0,85.8 238.6,85.6 240.2,85.4 241.7,85.2 243.3,84.9 244.9,84.6 246.5,84.2 248.0,83.8 249.6,83.3 251.2,82.9 252.8,82.5 254.3,82.2 255.9,81.9 257.5,81.6 259.1,81.4 260.6,81.2 262.2,81.0 263.8,80.7 265.4,80.4 266.9,80.0 268.5,79.6 270.1,79.1 271.7,78.6 273.2,78.1 274.8,77.6 276.4,77.1 278.0,76.6 279.5,76.1 281.1,75.7 282.7,75.3 284.3,74.9 285.9,74.6 287.4,74.2 289.0,73.8 290.6,73.4 292.2,73.0 293.7,72.6 295.3,72.2 296.9,71.7 298.5,71.3 300.0,70.8 301.6,70.3 303.2,69.7 304.8,69.2 306.3,68.6 307.9,68.0 309.5,67.5 311.1,66.9 312.6,66.4 314.2,66.0 315.8,65.5 317.4,65.1 318.9,64.7 320.5,64.3 322.1,63.9 323.7,63.4 325.3,62.8 326.8,62.2 328.4,61.6 330.0,60.9 331.6,60.2 333.1,59.5 334.7,58.9 336.3,58.3 337.9,57.7 339.4,57.1 341.0,56.6 342.6,56.1 344.2,55.5 345.7,54.9 347.3,54.3 348.9,53.6 350.5,52.9 352.0,52.2 353.6,51.5 355.2,50.9 356.8,50.2 358.3,49.6 359.9,49.1 361.5,48.5 361.5,74.2 359.9,74.4 358.3,74.4 356.8,74.6 355.2,74.7 353.6,75.0 352.0,75.4 350.5,75.8 348.9,76.3 347.3,76.7 345.7,77.0 344.2,77.3 342.6,77.5 341.0,77.8 339.4,78.0 337.9,78.4 336.3,78.7 334.7,79.1 333.1,79.5 331.6,79.8 330.0,80.1 328.4,80.3 326.8,80.5 325.3,80.6 323.7,80.9 322.1,81.2 320.5,81.6 318.9,82.0 317.4,82.5 315.8,82.9 314.2,83.2 312.6,83.5 311.1,83.7 309.5,83.9 307.9,84.1 306.3,84.4 304.8,84.8 303.2,85.2 301.6,85.6 300.0,86.0 298.5,86.3 296.9,86.5 295.3,86.7 293.7,86.9 292.2,87.2 290.6,87.5 289.0,87.8 287.4,88.2 285.9,88.7 284.3,89.1 282.7,89.4 281.1,89.7 279.5,90.0 278.0,90.2 276.4,90.5 274.8,90.8 273.2,91.3 271.7,91.7 270.1,92.2 268.5,92.7 266.9,93.1 265.4,93.4 263.8,93.6 262.2,93.8 260.6,94.0 259.1,94.2 257.5,94.5 255.9,94.8 254.3,95.2 252.8,95.5 251.2,95.9 249.6,96.1 248.0,96.4 246.5,96.7 244.9,97.0 243.3,97.4 241.7,97.8 240.2,98.4 238.6,98.8 237.0,99.3 235.4,99.7 233.8,100.0 232.3,100.3 230.7,100.6 229.1,100.9 227.5,101.2" fill="rgb(231,29,37)" fill-opacity="0.24"/>
<polygon points="227.5,87.5 229.1,87.2 230.7,86.8 232.3,86.5 233.8,86.1 235.4,85.7 237.0,85.2 238.6,84.7 240.2,84.2 241.7,83.8 243.3,83.3 244.9,83.0 246.5,82.7 248.0,82.4 249.6,82.1 251.2,81.7 252.8,81.2 254.3,80.8 255.9,80.3 257.5,79.8 259.1,79.3 260.6,78.8 262.2,78.3 263.8,77.8 265.4,77.3 266.9,76.7 268.5,76.2 270.1,75.6 271.7,75.1 273.2,74.6 274.8,74.1 276.4,73.6 278.0,73.2 279.5,72.6 281.1,72.0 282.7,71.4 284.3,70.7 285.9,70.0 287.4,69.3 289.0,68.7 290.6,68.1 292.2,67.6 293.7,67.1 295.3,66.6 296.9,66.0 298.5,65.3 300.0,64.7 301.6,63.9 303.2,63.2 304.8,62.5 306.3,61.8 307.9,61.1 309.5,60.5 311.1,59.8 312.6,59.2 314.2,58.5 315.8,57.8 317.4,57.1 318.9,56.4 320.5,55.8 322.1,55.1 323.7,54.4 325.3,53.6 326.8,52.9 328.4,52.0 330.0,51.1 331.6,50.2 333.1,49.3 334.7,48.4 336.3,47.6 337.9,46.8 339.4,46.1 341.0,45.4 342.6,44.7 344.2,44.0 345.7,43.2 347.3,42.3 348.9,41.4 350.5,40.5 352.0,39.6 353.6,38.8 355.2,37.9 356.8,37.1 358.3,36.3 359.9,35.5 361.5,34.6 361.5,68.0 359.9,68.9 358.3,69.7 356.8,70.5 355.2,71.3 353.6,72.1 352.0,73.0 350.5,73.8 348.9,74.7 347.3,75.6 345.7,76.5 344.2,77.3 342.6,78.2 341.0,79.0 339.4,79.7 337.9,80.5 336.3,81.2 334.7,81.9 333.1,82.6 331.6,83.3 330.0,84.1 328.4,84.8 326.8,85.6 325.3,86.2 323.7,86.8 322.1,87.3 320.5,87.7 318.9,88.0 317.4,88.3 315.8,88.6 314.2,88.9 312.6,89.2 311.1,89.6 309.5,89.9 307.9,90.3 306.3,90.7 304.8,91.0 303.2,91.3 301.6,91.5 300.0,91.7 298.5,91.8 296.9,92.0 295.3,92.1 293.7,92.3 292.2,92.5 290.6,92.6 289.0,92.8 287.4,92.9 285.9,93.1 284.3,93.2 282.7,93.3 281.1,93.3 279.5,93.4 278.0,93.5 276.4,93.7 274.8,93.9 273.2,94.1 271.7,94.2 270.1,94.4 268.5,94.6 266.9,94.7 265.4,94.8 263.8,95.0 262.2,95.1 260.6,95.3 259.1,95.5 257.5,95.7 255.9,96.0 254.3,96.3 252.8,96.6 251.2,96.9 249.6,97.2 248.0,97.4 246.5,97.7 244.9,97.8 243.3,98.1 241.7,98.3 240.2,98.6 238.6,99.0 237.0,99.4 235.4,99.8 233.8,100.1 232.3,100.4 230.7,100.7 229.1,101.0 227.5,101.2" fill="rgb(149,27,30)" fill-opacity="0.20"/>
<polyline points="198.0,100.2 199.6,99.3 201.1,98.4 202.7,97.8 204.2,97.3 205.8,96.9 207.3,96.6 208.9,96.1 210.5,95.7 212.0,95.6 213.6,95.5 215.1,95.4 216.7,95.4 218.2,95.2 219.8,94.8 221.4,94.6 222.9,94.6 224.5,94.4 226.0,94.1 227.6,93.8 229.1,93.3" fill="none" stroke="rgb(35,35,35)" stroke-width="1.00" stroke-linejoin="round"/>
<polyline points="227.5,93.5 229.1,93.2 230.7,92.8 232.3,92.6 233.8,92.3 235.4,92.1 237.0,91.8 238.6,91.6 240.2,91.3 241.7,91.0 243.3,90.8 244.9,90.6 246.5,90.6 248.0,90.5 249.6,90.5 251.2,90.5 252.8,90.4 254.3,90.2 255.9,90.0 257.5,89.7 259.1,89.6 260.6,89.5 262.2,89.6 263.8,89.8 265.4,90.0 266.9,90.2 268.5,90.3 270.1,90.3 271.7,90.1 273.2,89.9 274.8,89.6 276.4,89.4 278.0,89.2 279.5,89.2 281.1,89.4 282.7,89.6 284.3,89.9 285.9,90.1 287.4,90.2 289.0,90.2 290.6,90.0 292.2,89.9 293.7,89.7 295.3,89.5 296.9,89.4 298.5,89.4 300.0,89.5 301.6,89.6 303.2,89.6 304.8,89.6 306.3,89.6 307.9,89.5 309.5,89.4 311.1,89.4 312.6,89.4 314.2,89.4 315.8,89.5 317.4,89.6 318.9,89.7 320.5,89.8 322.1,89.8 323.7,89.8 325.3,89.7 326.8,89.6 328.4,89.5 330.0,89.4 331.6,89.4 333.1,89.4 334.7,89.5 336.3,89.7 337.9,89.9 339.4,90.1 341.0,90.3 342.6,90.5 344.2,90.5 345.7,90.5 347.3,90.4 348.9,90.2 350.5,90.1 352.0,90.1 353.6,90.1 355.2,90.3 356.8,90.5 358.3,90.8 359.9,91.1 361.5,91.3" fill="none" stroke="rgb(0,173,207)" stroke-width="0.85" stroke-linejoin="round"/>
<polyline points="227.5,93.5 229.1,93.2 230.7,92.8 232.3,92.5 233.8,92.1 235.4,91.6 237.0,91.2 238.6,90.8 240.2,90.4 241.7,90.1 243.3,89.9 244.9,89.7 246.5,89.5 248.0,89.4 249.6,89.2 251.2,89.0 252.8,88.7 254.3,88.4 255.9,88.1 257.5,87.8 259.1,87.5 260.6,87.3 262.2,87.1 263.8,87.0 265.4,86.9 266.9,86.9 268.5,86.8 270.1,86.8 271.7,86.8 273.2,86.8 274.8,86.7 276.4,86.6 278.0,86.5 279.5,86.3 281.1,86.2 282.7,86.1 284.3,86.0 285.9,86.0 287.4,85.9 289.0,85.9 290.6,85.9 292.2,85.9 293.7,85.9 295.3,85.9 296.9,85.8 298.5,85.7 300.0,85.6 301.6,85.6 303.2,85.5 304.8,85.5 306.3,85.5 307.9,85.5 309.5,85.6 311.1,85.6 312.6,85.6 314.2,85.7 315.8,85.6 317.4,85.6 318.9,85.5 320.5,85.4 322.1,85.3 323.7,85.3 325.3,85.3 326.8,85.3 328.4,85.4 330.0,85.5 331.6,85.7 333.1,85.8 334.7,86.0 336.3,86.1 337.9,86.1 339.4,86.1 341.0,86.0 342.6,85.9 344.2,85.7 345.7,85.7 347.3,85.6 348.9,85.6 350.5,85.7 352.0,85.8 353.6,86.0 355.2,86.2 356.8,86.5 358.3,86.6 359.9,86.7 361.5,86.8" fill="none" stroke="rgb(23,60,102)" stroke-width="0.85" stroke-linejoin="round"/>
<polyline points="227.5,93.5 229.1,93.2 230.7,92.9 232.3,92.6 233.8,92.3 235.4,92.0 237.0,91.8 238.6,91.5 240.2,91.3 241.7,91.0 243.3,90.7 244.9,90.4 246.5,90.1 248.0,89.8 249.6,89.5 251.2,89.2 252.8,88.8 254.3,88.5 255.9,88.2 257.5,87.9 259.1,87.7 260.6,87.5 262.2,87.4 263.8,87.2 265.4,87.0 266.9,86.8 268.5,86.5 270.1,86.1 271.7,85.8 273.2,85.4 274.8,85.1 276.4,84.9 278.0,84.7 279.5,84.6 281.1,84.4 282.7,84.2 284.3,84.0 285.9,83.8 287.4,83.5 289.0,83.1 290.6,82.9 292.2,82.6 293.7,82.4 295.3,82.2 296.9,82.1 298.5,81.9 300.0,81.7 301.6,81.5 303.2,81.3 304.8,81.1 306.3,80.8 307.9,80.6 309.5,80.4 311.1,80.2 312.6,80.1 314.2,79.9 315.8,79.7 317.4,79.4 318.9,79.2 320.5,79.0 322.1,78.9 323.7,78.7 325.3,78.7 326.8,78.6 328.4,78.5 330.0,78.4 331.6,78.2 333.1,78.0 334.7,77.7 336.3,77.4 337.9,77.2 339.4,77.0 341.0,76.9 342.6,76.9 344.2,76.9 345.7,76.9 347.3,76.8 348.9,76.7 350.5,76.6 352.0,76.5 353.6,76.3 355.2,76.2 356.8,76.1 358.3,76.1 359.9,76.0 361.5,76.0" fill="none" stroke="rgb(247,148,32)" stroke-width="0.85" stroke-linejoin="round"/>
<polyline points="227.5,93.5 229.1,93.2 230.7,92.9 232.3,92.6 233.8,92.2 235.4,91.9 237.0,91.6 238.6,91.3 240.2,91.0 241.7,90.7 243.3,90.5 244.9,90.2 246.5,89.9 248.0,89.6 249.6,89.3 251.2,89.0 252.8,88.7 254.3,88.3 255.9,88.0 257.5,87.7 259.1,87.3 260.6,87.0 262.2,86.6 263.8,86.3 265.4,86.0 266.9,85.7 268.5,85.4 270.1,85.1 271.7,84.8 273.2,84.4 274.8,83.9 276.4,83.5 278.0,83.1 279.5,82.7 281.1,82.3 282.7,82.0 284.3,81.6 285.9,81.3 287.4,80.9 289.0,80.5 290.6,80.1 292.2,79.7 293.7,79.3 295.3,79.0 296.9,78.7 298.5,78.5 300.0,78.3 301.6,78.0 303.2,77.6 304.8,77.1 306.3,76.6 307.9,76.1 309.5,75.6 311.1,75.2 312.6,74.9 314.2,74.6 315.8,74.3 317.4,74.0 318.9,73.6 320.5,73.2 322.1,72.7 323.7,72.2 325.3,71.7 326.8,71.3 328.4,71.0 330.0,70.7 331.6,70.3 333.1,70.0 334.7,69.5 336.3,69.1 337.9,68.6 339.4,68.1 341.0,67.6 342.6,67.3 344.2,67.0 345.7,66.8 347.3,66.6 348.9,66.3 350.5,66.0 352.0,65.7 353.6,65.3 355.2,64.7 356.8,64.1 358.3,63.4 359.9,62.7 361.5,62.0" fill="none" stroke="rgb(231,29,37)" stroke-width="0.85" stroke-linejoin="round"/>
<polyline points="227.5,93.5 229.1,93.2 230.7,92.9 232.3,92.6 233.8,92.4 235.4,92.1 237.0,91.8 238.6,91.5 240.2,91.3 241.7,91.1 243.3,90.8 244.9,90.5 246.5,90.1 248.0,89.6 249.6,89.1 251.2,88.6 252.8,88.1 254.3,87.8 255.9,87.5 257.5,87.3 259.1,87.0 260.6,86.8 262.2,86.4 263.8,86.0 265.4,85.5 266.9,85.0 268.5,84.5 270.1,84.1 271.7,83.7 273.2,83.4 274.8,83.1 276.4,82.8 278.0,82.3 279.5,81.9 281.1,81.3 282.7,80.8 284.3,80.2 285.9,79.7 287.4,79.3 289.0,78.9 290.6,78.6 292.2,78.2 293.7,77.8 295.3,77.4 296.9,76.8 298.5,76.3 300.0,75.7 301.6,75.1 303.2,74.5 304.8,74.0 306.3,73.4 307.9,72.9 309.5,72.3 311.1,71.7 312.6,71.1 314.2,70.6 315.8,70.1 317.4,69.6 318.9,69.2 320.5,68.7 322.1,68.2 323.7,67.7 325.3,67.0 326.8,66.3 328.4,65.6 330.0,64.8 331.6,64.2 333.1,63.6 334.7,63.1 336.3,62.6 337.9,62.1 339.4,61.6 341.0,60.9 342.6,60.2 344.2,59.5 345.7,58.8 347.3,58.1 348.9,57.4 350.5,56.8 352.0,56.2 353.6,55.6 355.2,55.0 356.8,54.3 358.3,53.5 359.9,52.7 361.5,51.8" fill="none" stroke="rgb(149,27,30)" stroke-width="0.85" stroke-linejoin="round"/>
<rect x="220.0" y="138.45" width="4.6" height="1.5" fill="rgb(35,35,35)" fill-opacity="0.3"/>
<line x1="220.0" y1="139.20" x2="224.6" y2="139.20" stroke="rgb(35,35,35)" stroke-width="0.6"/>
<text class="lg" x="226.2" y="140.25" textLength="47.0" lengthAdjust="spacingAndGlyphs">Hist. Ref. Per., 1995-2014</text>
<rect x="220.0" y="142.85" width="4.6" height="1.5" fill="rgb(23,60,102)" fill-opacity="0.3"/>
<line x1="220.0" y1="143.60" x2="224.6" y2="143.60" stroke="rgb(23,60,102)" stroke-width="0.6"/>
<text class="lg" x="226.2" y="144.65" textLength="16.4" lengthAdjust="spacingAndGlyphs">SSP1-2.6</text>
<rect x="220.0" y="147.25" width="4.6" height="1.5" fill="rgb(231,29,37)" fill-opacity="0.3"/>
<line x1="220.0" y1="148.00" x2="224.6" y2="148.00" stroke="rgb(231,29,37)" stroke-width="0.6"/>
<text class="lg" x="226.2" y="149.05" textLength="16.4" lengthAdjust="spacingAndGlyphs">SSP3-7.0</text>
<rect x="278.5" y="138.45" width="4.6" height="1.5" fill="rgb(0,173,207)" fill-opacity="0.3"/>
<line x1="278.5" y1="139.20" x2="283.1" y2="139.20" stroke="rgb(0,173,207)" stroke-width="0.6"/>
<text class="lg" x="284.7" y="140.25" textLength="16.4" lengthAdjust="spacingAndGlyphs">SSP1-1.9</text>
<rect x="278.5" y="142.85" width="4.6" height="1.5" fill="rgb(247,148,32)" fill-opacity="0.3"/>
<line x1="278.5" y1="143.60" x2="283.1" y2="143.60" stroke="rgb(247,148,32)" stroke-width="0.6"/>
<text class="lg" x="284.7" y="144.65" textLength="16.4" lengthAdjust="spacingAndGlyphs">SSP2-4.5</text>
<rect x="278.5" y="147.25" width="4.6" height="1.5" fill="rgb(149,27,30)" fill-opacity="0.3"/>
<line x1="278.5" y1="148.00" x2="283.1" y2="148.00" stroke="rgb(149,27,30)" stroke-width="0.6"/>
<text class="lg" x="284.7" y="149.05" textLength="16.4" lengthAdjust="spacingAndGlyphs">SSP5-8.5</text>
</g>
<g>
<text class="t" x="454.0" y="17.9">Equatorial Guinea</text>
<line class="g" x1="377.2" y1="26.90" x2="542.0" y2="26.90"/>
<text class="yl" x="372.5" y="28.50">32</text>
<line class="g" x1="377.2" y1="46.40" x2="542.0" y2="46.40"/>
<text class="yl" x="372.5" y="48.00">30</text>
<line class="g" x1="377.2" y1="65.90" x2="542.0" y2="65.90"/>
<text class="yl" x="372.5" y="67.50">28</text>
<line class="g" x1="377.2" y1="85.40" x2="542.0" y2="85.40"/>
<text class="yl" x="372.5" y="87.00">26</text>
<line class="g" x1="377.2" y1="104.90" x2="542.0" y2="104.90"/>
<text class="yl" x="372.5" y="106.50">24</text>
<line class="g" x1="377.2" y1="124.40" x2="542.0" y2="124.40"/>
<text class="yl" x="372.5" y="126.00">22</text>
<text class="xl" x="385.2" y="130.60">2000</text>
<text class="xl" x="415.9" y="130.60">2020</text>
<text class="xl" x="446.6" y="130.60">2040</text>
<text class="xl" x="477.4" y="130.60">2060</text>
<text class="xl" x="508.1" y="130.60">2080</text>
<text class="xl" x="537.2" y="130.60">2100</text>
<polygon points="377.5,97.0 379.1,96.3 380.6,95.6 382.2,94.8 383.7,94.2 385.3,93.7 386.8,93.5 388.4,93.0 389.9,92.8 391.5,92.7 393.0,92.4 394.6,92.2 396.1,92.0 397.7,92.1 399.2,91.9 400.8,91.7 402.3,91.5 403.9,91.2 405.4,90.9 407.0,90.5 408.5,90.4 408.5,95.6 407.0,95.7 405.4,96.1 403.9,96.4 402.3,96.7 400.8,96.9 399.2,97.1 397.7,97.3 396.1,97.2 394.6,97.4 393.0,97.6 391.5,97.9 389.9,98.0 388.4,98.2 386.8,98.7 385.3,98.9 383.7,99.4 382.2,100.0 380.6,100.8 379.1,101.5 377.5,102.2" fill="rgb(30,30,30)" fill-opacity="0.17"/>
<polygon points="406.9,93.2 408.5,92.9 410.1,92.6 411.7,92.3 413.2,92.0 414.8,91.7 416.4,91.5 417.9,91.2 419.5,91.0 421.1,90.7 422.7,90.4 424.2,90.1 425.8,89.9 427.4,89.7 428.9,89.5 430.5,89.4 432.1,89.2 433.7,89.1 435.2,89.0 436.8,88.9 438.4,88.8 439.9,88.7 441.5,88.6 443.1,88.4 444.7,88.2 446.2,88.1 447.8,88.0 449.4,88.1 450.9,88.2 452.5,88.4 454.1,88.6 455.7,88.7 457.2,88.7 458.8,88.5 460.4,88.3 461.9,88.0 463.5,87.8 465.1,87.7 466.7,87.7 468.2,87.8 469.8,87.8 471.4,87.8 472.9,87.6 474.5,87.4 476.1,87.0 477.7,86.7 479.2,86.4 480.8,86.3 482.4,86.4 483.9,86.6 485.5,86.8 487.1,87.0 488.7,87.0 490.2,86.9 491.8,86.7 493.4,86.5 494.9,86.3 496.5,86.2 498.1,86.3 499.6,86.4 501.2,86.5 502.8,86.6 504.4,86.5 505.9,86.3 507.5,86.0 509.1,85.7 510.6,85.5 512.2,85.5 513.8,85.6 515.4,85.9 516.9,86.1 518.5,86.3 520.1,86.3 521.6,86.2 523.2,86.0 524.8,85.8 526.4,85.7 527.9,85.7 529.5,85.8 531.1,86.0 532.6,86.2 534.2,86.4 535.8,86.4 537.4,86.3 538.9,86.1 540.5,85.8 540.5,97.1 538.9,96.9 537.4,96.7 535.8,96.5 534.2,96.4 532.6,96.3 531.1,96.3 529.5,96.3 527.9,96.3 526.4,96.3 524.8,96.2 523.2,96.2 521.6,96.2 520.1,96.2 518.5,96.2 516.9,96.2 515.4,96.2 513.8,96.1 512.2,96.0 510.6,95.8 509.1,95.5 507.5,95.3 505.9,95.2 504.4,95.2 502.8,95.3 501.2,95.4 499.6,95.5 498.1,95.7 496.5,95.7 494.9,95.7 493.4,95.6 491.8,95.6 490.2,95.5 488.7,95.4 487.1,95.4 485.5,95.3 483.9,95.3 482.4,95.2 480.8,95.2 479.2,95.2 477.7,95.2 476.1,95.3 474.5,95.4 472.9,95.6 471.4,95.7 469.8,95.7 468.2,95.6 466.7,95.4 465.1,95.2 463.5,94.9 461.9,94.8 460.4,94.7 458.8,94.7 457.2,94.8 455.7,94.9 454.1,95.0 452.5,95.0 450.9,94.9 449.4,94.8 447.8,94.6 446.2,94.4 444.7,94.3 443.1,94.4 441.5,94.5 439.9,94.7 438.4,94.9 436.8,95.0 435.2,95.0 433.7,95.0 432.1,95.0 430.5,94.9 428.9,95.0 427.4,95.1 425.8,95.4 424.2,95.7 422.7,96.0 421.1,96.3 419.5,96.6 417.9,96.7 416.4,97.0 414.8,97.2 413.2,97.6 411.7,98.0 410.1,98.4 408.5,98.8 406.9,99.2" fill="rgb(0,173,207)" fill-opacity="0.20"/>
<polygon points="406.9,90.2 408.5,89.8 410.1,89.4 411.7,88.9 413.2,88.5 414.8,88.2 416.4,88.0 417.9,87.8 419.5,87.6 421.1,87.3 422.7,87.0 424.2,86.6 425.8,86.1 427.4,85.7 428.9,85.3 430.5,85.0 432.1,84.7 433.7,84.5 435.2,84.3 436.8,84.1 438.4,83.9 439.9,83.7 441.5,83.6 443.1,83.4 444.7,83.4 446.2,83.4 447.8,83.4 449.4,83.5 450.9,83.5 452.5,83.4 454.1,83.3 455.7,83.1 457.2,82.8 458.8,82.6 460.4,82.3 461.9,82.2 463.5,82.1 465.1,82.0 466.7,82.1 468.2,82.1 469.8,82.1 471.4,82.1 472.9,82.1 474.5,82.1 476.1,82.0 477.7,81.8 479.2,81.7 480.8,81.5 482.4,81.2 483.9,81.0 485.5,80.8 487.1,80.6 488.7,80.5 490.2,80.5 491.8,80.6 493.4,80.7 494.9,80.9 496.5,81.0 498.1,81.2 499.6,81.2 501.2,81.3 502.8,81.2 504.4,81.1 505.9,81.1 507.5,81.1 509.1,81.1 510.6,81.1 512.2,81.1 513.8,81.1 515.4,81.1 516.9,80.9 518.5,80.8 520.1,80.6 521.6,80.5 523.2,80.5 524.8,80.6 526.4,80.8 527.9,81.0 529.5,81.3 531.1,81.5 532.6,81.6 534.2,81.5 535.8,81.3 537.4,81.0 538.9,80.7 540.5,80.5 540.5,91.9 538.9,91.7 537.4,91.6 535.8,91.4 534.2,91.2 532.6,91.1 531.1,91.1 529.5,91.1 527.9,91.3 526.4,91.5 524.8,91.7 523.2,91.9 521.6,91.9 520.1,91.8 518.5,91.6 516.9,91.3 515.4,91.0 513.8,90.8 512.2,90.6 510.6,90.7 509.1,90.8 507.5,91.1 505.9,91.3 504.4,91.5 502.8,91.5 501.2,91.3 499.6,91.0 498.1,90.5 496.5,90.1 494.9,89.7 493.4,89.4 491.8,89.3 490.2,89.5 488.7,89.7 487.1,90.0 485.5,90.3 483.9,90.5 482.4,90.6 480.8,90.5 479.2,90.3 477.7,90.2 476.1,90.1 474.5,90.1 472.9,90.3 471.4,90.6 469.8,90.9 468.2,91.2 466.7,91.4 465.1,91.4 463.5,91.3 461.9,91.1 460.4,90.9 458.8,90.7 457.2,90.5 455.7,90.5 454.1,90.6 452.5,90.8 450.9,91.0 449.4,91.1 447.8,91.1 446.2,91.0 444.7,90.9 443.1,90.8 441.5,90.7 439.9,90.7 438.4,90.9 436.8,91.2 435.2,91.6 433.7,92.0 432.1,92.4 430.5,92.7 428.9,92.9 427.4,93.0 425.8,93.1 424.2,93.2 422.7,93.3 421.1,93.6 419.5,93.9 417.9,94.2 416.4,94.6 414.8,94.9 413.2,95.1 411.7,95.4 410.1,95.6 408.5,95.9 406.9,96.2" fill="rgb(23,60,102)" fill-opacity="0.20"/>
<polygon points="406.9,89.0 408.5,88.7 410.1,88.4 411.7,88.2 413.2,87.9 414.8,87.7 416.4,87.5 417.9,87.3 419.5,87.1 421.1,86.9 422.7,86.6 424.2,86.3 425.8,86.0 427.4,85.7 428.9,85.6 430.5,85.4 432.1,85.3 433.7,85.1 435.2,84.9 436.8,84.6 438.4,84.4 439.9,84.1 441.5,83.8 443.1,83.5 444.7,83.3 446.2,83.2 447.8,83.1 449.4,83.1 450.9,82.9 452.5,82.8 454.1,82.5 455.7,82.1 457.2,81.7 458.8,81.3 460.4,81.0 461.9,80.7 463.5,80.5 465.1,80.4 466.7,80.3 468.2,80.3 469.8,80.2 471.4,80.1 472.9,79.9 474.5,79.6 476.1,79.2 477.7,78.8 479.2,78.5 480.8,78.2 482.4,78.0 483.9,77.9 485.5,77.8 487.1,77.7 488.7,77.7 490.2,77.5 491.8,77.4 493.4,77.2 494.9,77.0 496.5,76.7 498.1,76.6 499.6,76.4 501.2,76.3 502.8,76.2 504.4,76.1 505.9,76.0 507.5,75.8 509.1,75.6 510.6,75.3 512.2,75.1 513.8,74.9 515.4,74.8 516.9,74.7 518.5,74.6 520.1,74.6 521.6,74.6 523.2,74.5 524.8,74.4 526.4,74.1 527.9,73.9 529.5,73.6 531.1,73.3 532.6,73.1 534.2,72.9 535.8,72.9 537.4,72.9 538.9,72.9 540.5,73.0 540.5,84.3 538.9,84.1 537.4,84.0 535.8,83.8 534.2,83.8 532.6,83.8 531.1,83.9 529.5,84.1 527.9,84.2 526.4,84.4 524.8,84.5 523.2,84.6 521.6,84.6 520.1,84.7 518.5,84.7 516.9,84.8 515.4,84.8 513.8,84.9 512.2,84.9 510.6,84.8 509.1,84.8 507.5,84.8 505.9,84.8 504.4,85.0 502.8,85.2 501.2,85.4 499.6,85.6 498.1,85.8 496.5,86.0 494.9,86.1 493.4,86.1 491.8,86.2 490.2,86.3 488.7,86.5 487.1,86.8 485.5,87.0 483.9,87.2 482.4,87.3 480.8,87.3 479.2,87.3 477.7,87.3 476.1,87.4 474.5,87.5 472.9,87.8 471.4,88.2 469.8,88.5 468.2,88.8 466.7,89.0 465.1,89.1 463.5,89.1 461.9,89.0 460.4,89.1 458.8,89.2 457.2,89.4 455.7,89.7 454.1,90.1 452.5,90.5 450.9,90.9 449.4,91.1 447.8,91.4 446.2,91.5 444.7,91.7 443.1,91.9 441.5,92.1 439.9,92.3 438.4,92.4 436.8,92.6 435.2,92.8 433.7,92.9 432.1,93.1 430.5,93.3 428.9,93.6 427.4,93.9 425.8,94.3 424.2,94.6 422.7,95.0 421.1,95.2 419.5,95.4 417.9,95.7 416.4,95.9 414.8,96.2 413.2,96.5 411.7,96.8 410.1,97.1 408.5,97.3 406.9,97.6" fill="rgb(247,148,32)" fill-opacity="0.22"/>
<polygon points="406.9,89.0 408.5,88.7 410.1,88.5 411.7,88.2 413.2,88.0 414.8,87.8 416.4,87.6 417.9,87.4 419.5,87.1 421.1,86.9 422.7,86.5 424.2,86.1 425.8,85.7 427.4,85.3 428.9,84.9 430.5,84.5 432.1,84.2 433.7,83.9 435.2,83.6 436.8,83.4 438.4,83.1 439.9,82.9 441.5,82.7 443.1,82.5 444.7,82.2 446.2,82.0 447.8,81.7 449.4,81.4 450.9,80.9 452.5,80.5 454.1,79.9 455.7,79.4 457.2,78.9 458.8,78.4 460.4,78.0 461.9,77.6 463.5,77.3 465.1,77.0 466.7,76.7 468.2,76.4 469.8,76.0 471.4,75.5 472.9,75.0 474.5,74.5 476.1,74.0 477.7,73.5 479.2,73.0 480.8,72.5 482.4,72.0 483.9,71.6 485.5,71.1 487.1,70.7 488.7,70.3 490.2,69.9 491.8,69.6 493.4,69.3 494.9,68.9 496.5,68.6 498.1,68.1 499.6,67.6 501.2,67.0 502.8,66.3 504.4,65.6 505.9,64.9 507.5,64.3 509.1,63.7 510.6,63.1 512.2,62.6 513.8,62.2 515.4,61.7 516.9,61.2 518.5,60.7 520.1,60.2 521.6,59.6 523.2,59.1 524.8,58.5 526.4,57.9 527.9,57.2 529.5,56.6 531.1,56.0 532.6,55.3 534.2,54.7 535.8,54.1 537.4,53.5 538.9,52.9 540.5,52.4 540.5,75.1 538.9,75.4 537.4,75.7 535.8,75.9 534.2,76.1 532.6,76.2 531.1,76.3 529.5,76.5 527.9,76.6 526.4,76.9 524.8,77.2 523.2,77.5 521.6,77.9 520.1,78.2 518.5,78.5 516.9,78.7 515.4,78.9 513.8,79.1 512.2,79.4 510.6,79.7 509.1,80.1 507.5,80.4 505.9,80.7 504.4,81.0 502.8,81.2 501.2,81.3 499.6,81.5 498.1,81.6 496.5,81.7 494.9,82.0 493.4,82.3 491.8,82.6 490.2,82.9 488.7,83.1 487.1,83.4 485.5,83.6 483.9,83.8 482.4,84.1 480.8,84.4 479.2,84.7 477.7,85.1 476.1,85.6 474.5,85.9 472.9,86.3 471.4,86.5 469.8,86.7 468.2,86.9 466.7,87.0 465.1,87.2 463.5,87.5 461.9,87.7 460.4,88.0 458.8,88.3 457.2,88.5 455.7,88.7 454.1,88.8 452.5,89.0 450.9,89.3 449.4,89.6 447.8,89.9 446.2,90.3 444.7,90.8 443.1,91.2 441.5,91.5 439.9,91.8 438.4,92.1 436.8,92.3 435.2,92.6 433.7,92.9 432.1,93.2 430.5,93.5 428.9,93.8 427.4,94.1 425.8,94.3 424.2,94.4 422.7,94.6 421.1,94.8 419.5,95.0 417.9,95.3 416.4,95.7 414.8,96.0 413.2,96.4 411.7,96.7 410.1,97.0 408.5,97.3 406.9,97.6" fill="rgb(231,29,37)" fill-opacity="0.24"/>
<polygon points="406.9,89.0 408.5,88.7 410.1,88.4 411.7,88.0 413.2,87.6 414.8,87.2 416.4,86.9 417.9,86.7 419.5,86.5 421.1,86.3 422.7,86.1 424.2,85.7 425.8,85.1 427.4,84.5 428.9,83.8 430.5,83.2 432.1,82.7 433.7,82.4 435.2,82.1 436.8,81.9 438.4,81.7 439.9,81.3 441.5,80.9 443.1,80.3 444.7,79.6 446.2,78.9 447.8,78.3 449.4,77.8 450.9,77.4 452.5,77.1 454.1,76.8 455.7,76.5 457.2,76.1 458.8,75.6 460.4,75.0 461.9,74.4 463.5,73.7 465.1,73.0 466.7,72.5 468.2,72.0 469.8,71.6 471.4,71.3 472.9,70.9 474.5,70.4 476.1,69.9 477.7,69.2 479.2,68.5 480.8,67.8 482.4,67.1 483.9,66.4 485.5,65.8 487.1,65.3 488.7,64.8 490.2,64.3 491.8,63.7 493.4,63.0 494.9,62.3 496.5,61.5 498.1,60.7 499.6,60.0 501.2,59.3 502.8,58.6 504.4,58.0 505.9,57.4 507.5,56.8 509.1,56.1 510.6,55.3 512.2,54.5 513.8,53.7 515.4,53.0 516.9,52.2 518.5,51.6 520.1,50.9 521.6,50.3 523.2,49.6 524.8,48.9 526.4,48.1 527.9,47.3 529.5,46.5 531.1,45.7 532.6,44.9 534.2,44.2 535.8,43.5 537.4,42.8 538.9,42.1 540.5,41.3 540.5,70.1 538.9,70.4 537.4,70.7 535.8,70.9 534.2,71.2 532.6,71.4 531.1,71.7 529.5,71.9 527.9,72.2 526.4,72.5 524.8,72.8 523.2,73.2 521.6,73.5 520.1,73.9 518.5,74.3 516.9,74.7 515.4,75.0 513.8,75.3 512.2,75.6 510.6,75.9 509.1,76.1 507.5,76.3 505.9,76.5 504.4,76.7 502.8,77.0 501.2,77.3 499.6,77.6 498.1,77.9 496.5,78.3 494.9,78.7 493.4,79.1 491.8,79.5 490.2,79.9 488.7,80.3 487.1,80.6 485.5,80.9 483.9,81.2 482.4,81.5 480.8,81.8 479.2,82.0 477.7,82.3 476.1,82.6 474.5,82.8 472.9,83.1 471.4,83.4 469.8,83.7 468.2,84.1 466.7,84.4 465.1,84.8 463.5,85.2 461.9,85.6 460.4,86.0 458.8,86.4 457.2,86.7 455.7,87.1 454.1,87.5 452.5,87.8 450.9,88.1 449.4,88.3 447.8,88.6 446.2,88.8 444.7,89.1 443.1,89.4 441.5,89.7 439.9,90.0 438.4,90.4 436.8,90.9 435.2,91.3 433.7,91.7 432.1,92.1 430.5,92.5 428.9,92.9 427.4,93.2 425.8,93.5 424.2,93.8 422.7,94.0 421.1,94.3 419.5,94.6 417.9,95.0 416.4,95.3 414.8,95.7 413.2,96.1 411.7,96.5 410.1,96.9 408.5,97.3 406.9,97.6" fill="rgb(149,27,30)" fill-opacity="0.20"/>
<polyline points="377.5,99.6 379.1,98.9 380.6,98.2 382.2,97.4 383.7,96.8 385.3,96.3 386.8,96.1 388.4,95.6 389.9,95.4 391.5,95.3 393.0,95.0 394.6,94.8 396.1,94.6 397.7,94.7 399.2,94.5 400.8,94.3 402.3,94.1 403.9,93.8 405.4,93.5 407.0,93.1 408.5,93.0" fill="none" stroke="rgb(35,35,35)" stroke-width="1.00" stroke-linejoin="round"/>
<polyline points="406.9,93.0 408.5,92.7 410.1,92.5 411.7,92.2 413.2,92.0 414.8,91.8 416.4,91.6 417.9,91.4 419.5,91.2 421.1,91.0 422.7,90.8 424.2,90.7 425.8,90.6 427.4,90.6 428.9,90.6 430.5,90.5 432.1,90.5 433.7,90.4 435.2,90.4 436.8,90.4 438.4,90.3 439.9,90.3 441.5,90.2 443.1,90.0 444.7,89.9 446.2,89.7 447.8,89.7 449.4,89.7 450.9,89.8 452.5,89.9 454.1,90.1 455.7,90.3 457.2,90.4 458.8,90.3 460.4,90.2 461.9,90.0 463.5,89.9 465.1,89.8 466.7,89.9 468.2,90.0 469.8,90.1 471.4,90.2 472.9,90.2 474.5,90.1 476.1,89.9 477.7,89.7 479.2,89.5 480.8,89.4 482.4,89.5 483.9,89.7 485.5,89.9 487.1,90.1 488.7,90.1 490.2,90.1 491.8,90.0 493.4,89.9 494.9,89.7 496.5,89.7 498.1,89.7 499.6,89.8 501.2,89.9 502.8,90.0 504.4,90.0 505.9,89.9 507.5,89.8 509.1,89.7 510.6,89.6 512.2,89.7 513.8,89.8 515.4,90.1 516.9,90.3 518.5,90.4 520.1,90.5 521.6,90.5 523.2,90.4 524.8,90.3 526.4,90.3 527.9,90.4 529.5,90.5 531.1,90.6 532.6,90.8 534.2,90.9 535.8,90.9 537.4,90.9 538.9,90.8 540.5,90.7" fill="none" stroke="rgb(0,173,207)" stroke-width="0.85" stroke-linejoin="round"/>
<polyline points="406.9,93.0 408.5,92.7 410.1,92.4 411.7,92.0 413.2,91.6 414.8,91.3 416.4,90.9 417.9,90.6 419.5,90.3 421.1,90.0 422.7,89.8 424.2,89.6 425.8,89.4 427.4,89.2 428.9,88.9 430.5,88.7 432.1,88.4 433.7,88.2 435.2,87.9 436.8,87.7 438.4,87.5 439.9,87.3 441.5,87.2 443.1,87.1 444.7,87.1 446.2,87.1 447.8,87.0 449.4,87.0 450.9,87.0 452.5,87.0 454.1,86.9 455.7,86.9 457.2,86.8 458.8,86.7 460.4,86.6 461.9,86.6 463.5,86.5 465.1,86.4 466.7,86.4 468.2,86.4 469.8,86.3 471.4,86.3 472.9,86.2 474.5,86.2 476.1,86.1 477.7,86.0 479.2,85.9 480.8,85.7 482.4,85.6 483.9,85.5 485.5,85.4 487.1,85.4 488.7,85.4 490.2,85.4 491.8,85.5 493.4,85.6 494.9,85.7 496.5,85.8 498.1,85.9 499.6,86.0 501.2,86.0 502.8,86.0 504.4,86.0 505.9,86.0 507.5,86.0 509.1,85.9 510.6,85.9 512.2,85.9 513.8,86.0 515.4,86.0 516.9,86.1 518.5,86.1 520.1,86.2 521.6,86.3 523.2,86.3 524.8,86.4 526.4,86.4 527.9,86.4 529.5,86.4 531.1,86.3 532.6,86.3 534.2,86.3 535.8,86.3 537.4,86.4 538.9,86.4 540.5,86.5" fill="none" stroke="rgb(23,60,102)" stroke-width="0.85" stroke-linejoin="round"/>
<polyline points="406.9,93.0 408.5,92.7 410.1,92.4 411.7,92.2 413.2,91.9 414.8,91.7 416.4,91.4 417.9,91.2 419.5,90.9 421.1,90.7 422.7,90.5 424.2,90.3 425.8,90.1 427.4,89.9 428.9,89.7 430.5,89.5 432.1,89.3 433.7,89.1 435.2,88.8 436.8,88.5 438.4,88.2 439.9,87.8 441.5,87.5 443.1,87.2 444.7,86.9 446.2,86.6 447.8,86.4 449.4,86.1 450.9,85.9 452.5,85.7 454.1,85.5 455.7,85.3 457.2,85.1 458.8,84.8 460.4,84.6 461.9,84.4 463.5,84.2 465.1,84.1 466.7,83.9 468.2,83.8 469.8,83.7 471.4,83.6 472.9,83.4 474.5,83.2 476.1,83.0 477.7,82.8 479.2,82.6 480.8,82.4 482.4,82.1 483.9,81.9 485.5,81.8 487.1,81.6 488.7,81.5 490.2,81.3 491.8,81.1 493.4,81.0 494.9,80.8 496.5,80.6 498.1,80.4 499.6,80.1 501.2,79.9 502.8,79.8 504.4,79.6 505.9,79.5 507.5,79.4 509.1,79.3 510.6,79.2 512.2,79.1 513.8,78.9 515.4,78.8 516.9,78.6 518.5,78.4 520.1,78.3 521.6,78.1 523.2,78.0 524.8,78.0 526.4,77.9 527.9,77.9 529.5,77.9 531.1,77.8 532.6,77.8 534.2,77.7 535.8,77.6 537.4,77.5 538.9,77.4 540.5,77.4" fill="none" stroke="rgb(247,148,32)" stroke-width="0.85" stroke-linejoin="round"/>
<polyline points="406.9,93.0 408.5,92.7 410.1,92.4 411.7,92.1 413.2,91.8 414.8,91.5 416.4,91.2 417.9,90.9 419.5,90.6 421.1,90.3 422.7,89.9 424.2,89.6 425.8,89.4 427.4,89.1 428.9,88.8 430.5,88.6 432.1,88.3 433.7,88.0 435.2,87.7 436.8,87.4 438.4,87.0 439.9,86.6 441.5,86.2 443.1,85.8 444.7,85.5 446.2,85.2 447.8,84.9 449.4,84.6 450.9,84.3 452.5,84.0 454.1,83.7 455.7,83.3 457.2,82.9 458.8,82.5 460.4,82.0 461.9,81.6 463.5,81.2 465.1,80.8 466.7,80.5 468.2,80.2 469.8,80.0 471.4,79.7 472.9,79.4 474.5,79.1 476.1,78.7 477.7,78.3 479.2,77.8 480.8,77.4 482.4,76.9 483.9,76.5 485.5,76.0 487.1,75.7 488.7,75.3 490.2,75.0 491.8,74.7 493.4,74.4 494.9,74.0 496.5,73.7 498.1,73.3 499.6,72.9 501.2,72.5 502.8,72.1 504.4,71.7 505.9,71.3 507.5,70.9 509.1,70.5 510.6,70.1 512.2,69.7 513.8,69.3 515.4,68.9 516.9,68.4 518.5,68.0 520.1,67.6 521.6,67.2 523.2,66.7 524.8,66.3 526.4,65.9 527.9,65.5 529.5,65.0 531.1,64.6 532.6,64.1 534.2,63.7 535.8,63.3 537.4,62.9 538.9,62.5 540.5,62.1" fill="none" stroke="rgb(231,29,37)" stroke-width="0.85" stroke-linejoin="round"/>
<polyline points="406.9,93.0 408.5,92.7 410.1,92.4 411.7,92.1 413.2,91.8 414.8,91.5 416.4,91.3 417.9,91.0 419.5,90.7 421.1,90.3 422.7,89.9 424.2,89.6 425.8,89.2 427.4,88.8 428.9,88.5 430.5,88.2 432.1,87.9 433.7,87.6 435.2,87.3 436.8,86.9 438.4,86.5 439.9,86.1 441.5,85.7 443.1,85.3 444.7,85.0 446.2,84.7 447.8,84.3 449.4,84.0 450.9,83.6 452.5,83.2 454.1,82.7 455.7,82.3 457.2,81.8 458.8,81.5 460.4,81.1 461.9,80.8 463.5,80.5 465.1,80.2 466.7,79.8 468.2,79.4 469.8,78.8 471.4,78.3 472.9,77.7 474.5,77.1 476.1,76.7 477.7,76.3 479.2,75.9 480.8,75.6 482.4,75.2 483.9,74.9 485.5,74.5 487.1,74.0 488.7,73.5 490.2,73.0 491.8,72.5 493.4,72.0 494.9,71.5 496.5,71.1 498.1,70.6 499.6,70.1 501.2,69.6 502.8,69.1 504.4,68.6 505.9,68.0 507.5,67.5 509.1,67.0 510.6,66.6 512.2,66.1 513.8,65.7 515.4,65.2 516.9,64.6 518.5,64.1 520.1,63.5 521.6,62.9 523.2,62.3 524.8,61.8 526.4,61.3 527.9,60.8 529.5,60.3 531.1,59.8 532.6,59.3 534.2,58.7 535.8,58.1 537.4,57.6 538.9,57.0 540.5,56.4" fill="none" stroke="rgb(149,27,30)" stroke-width="0.85" stroke-linejoin="round"/>
<rect x="399.5" y="138.45" width="4.6" height="1.5" fill="rgb(35,35,35)" fill-opacity="0.3"/>
<line x1="399.5" y1="139.20" x2="404.1" y2="139.20" stroke="rgb(35,35,35)" stroke-width="0.6"/>
<text class="lg" x="405.7" y="140.25" textLength="47.0" lengthAdjust="spacingAndGlyphs">Hist. Ref. Per., 1995-2014</text>
<rect x="399.5" y="142.85" width="4.6" height="1.5" fill="rgb(23,60,102)" fill-opacity="0.3"/>
<line x1="399.5" y1="143.60" x2="404.1" y2="143.60" stroke="rgb(23,60,102)" stroke-width="0.6"/>
<text class="lg" x="405.7" y="144.65" textLength="16.4" lengthAdjust="spacingAndGlyphs">SSP1-2.6</text>
<rect x="399.5" y="147.25" width="4.6" height="1.5" fill="rgb(231,29,37)" fill-opacity="0.3"/>
<line x1="399.5" y1="148.00" x2="404.1" y2="148.00" stroke="rgb(231,29,37)" stroke-width="0.6"/>
<text class="lg" x="405.7" y="149.05" textLength="16.4" lengthAdjust="spacingAndGlyphs">SSP3-7.0</text>
<rect x="458.0" y="138.45" width="4.6" height="1.5" fill="rgb(0,173,207)" fill-opacity="0.3"/>
<line x1="458.0" y1="139.20" x2="462.6" y2="139.20" stroke="rgb(0,173,207)" stroke-width="0.6"/>
<text class="lg" x="464.2" y="140.25" textLength="16.4" lengthAdjust="spacingAndGlyphs">SSP1-1.9</text>
<rect x="458.0" y="142.85" width="4.6" height="1.5" fill="rgb(247,148,32)" fill-opacity="0.3"/>
<line x1="458.0" y1="143.60" x2="462.6" y2="143.60" stroke="rgb(247,148,32)" stroke-width="0.6"/>
<text class="lg" x="464.2" y="144.65" textLength="16.4" lengthAdjust="spacingAndGlyphs">SSP2-4.5</text>
<rect x="458.0" y="147.25" width="4.6" height="1.5" fill="rgb(149,27,30)" fill-opacity="0.3"/>
<line x1="458.0" y1="148.00" x2="462.6" y2="148.00" stroke="rgb(149,27,30)" stroke-width="0.6"/>
<text class="lg" x="464.2" y="149.05" textLength="16.4" lengthAdjust="spacingAndGlyphs">SSP5-8.5</text>
</g>
<g>
<text class="t" x="86.0" y="166.9">Cameroon</text>
<line class="g" x1="18.7" y1="176.60" x2="183.5" y2="176.60"/>
<text class="yl" x="14.0" y="178.20">34</text>
<line class="g" x1="18.7" y1="192.80" x2="183.5" y2="192.80"/>
<text class="yl" x="14.0" y="194.40">32</text>
<line class="g" x1="18.7" y1="209.00" x2="183.5" y2="209.00"/>
<text class="yl" x="14.0" y="210.60">30</text>
<line class="g" x1="18.7" y1="225.20" x2="183.5" y2="225.20"/>
<text class="yl" x="14.0" y="226.80">28</text>
<line class="g" x1="18.7" y1="241.40" x2="183.5" y2="241.40"/>
<text class="yl" x="14.0" y="243.00">26</text>
<line class="g" x1="18.7" y1="257.60" x2="183.5" y2="257.60"/>
<text class="yl" x="14.0" y="259.20">24</text>
<line class="g" x1="18.7" y1="273.80" x2="183.5" y2="273.80"/>
<text class="yl" x="14.0" y="275.40">22</text>
<text class="xl" x="26.8" y="279.80">2000</text>
<text class="xl" x="57.5" y="279.80">2020</text>
<text class="xl" x="88.2" y="279.80">2040</text>
<text class="xl" x="118.8" y="279.80">2060</text>
<text class="xl" x="149.6" y="279.80">2080</text>
<text class="xl" x="178.8" y="279.80">2100</text>
<polygon points="19.0,251.1 20.6,250.5 22.1,249.6 23.7,249.0 25.2,248.8 26.8,248.4 28.3,247.9 29.9,247.6 31.4,247.5 33.0,247.3 34.5,247.0 36.1,247.0 37.6,247.1 39.2,246.9 40.7,246.6 42.3,246.4 43.8,246.3 45.4,246.1 46.9,245.9 48.5,245.7 50.0,245.3 50.0,250.5 48.5,250.9 46.9,251.1 45.4,251.3 43.8,251.5 42.3,251.6 40.7,251.8 39.2,252.1 37.6,252.3 36.1,252.2 34.5,252.2 33.0,252.5 31.4,252.7 29.9,252.8 28.3,253.1 26.8,253.6 25.2,254.0 23.7,254.2 22.1,254.8 20.6,255.7 19.0,256.3" fill="rgb(30,30,30)" fill-opacity="0.17"/>
<polygon points="48.4,248.2 50.0,247.8 51.6,247.4 53.2,247.0 54.7,246.7 56.3,246.4 57.9,246.2 59.4,246.0 61.0,245.7 62.6,245.4 64.2,245.1 65.7,244.7 67.3,244.5 68.9,244.3 70.4,244.3 72.0,244.2 73.6,244.2 75.2,244.1 76.7,243.9 78.3,243.6 79.9,243.3 81.4,243.1 83.0,243.0 84.6,243.0 86.2,243.2 87.7,243.3 89.3,243.3 90.9,243.3 92.4,243.1 94.0,242.8 95.6,242.5 97.2,242.2 98.7,242.1 100.3,242.0 101.9,242.0 103.4,242.1 105.0,242.2 106.6,242.2 108.2,242.1 109.7,242.1 111.3,242.0 112.9,242.0 114.4,242.1 116.0,242.2 117.6,242.3 119.2,242.4 120.7,242.4 122.3,242.3 123.9,242.0 125.4,241.8 127.0,241.5 128.6,241.3 130.2,241.1 131.7,241.1 133.3,241.0 134.9,241.0 136.4,240.9 138.0,240.8 139.6,240.7 141.1,240.6 142.7,240.5 144.3,240.6 145.9,240.7 147.4,240.9 149.0,241.0 150.6,241.0 152.1,241.0 153.7,240.8 155.3,240.7 156.9,240.5 158.4,240.5 160.0,240.5 161.6,240.6 163.1,240.7 164.7,240.8 166.3,240.8 167.9,240.7 169.4,240.6 171.0,240.5 172.6,240.4 174.1,240.5 175.7,240.7 177.3,240.9 178.9,241.2 180.4,241.4 182.0,241.5 182.0,251.1 180.4,251.2 178.9,251.3 177.3,251.5 175.7,251.7 174.1,251.7 172.6,251.7 171.0,251.5 169.4,251.2 167.9,250.9 166.3,250.7 164.7,250.5 163.1,250.3 161.6,250.3 160.0,250.2 158.4,250.2 156.9,250.1 155.3,250.0 153.7,249.9 152.1,249.8 150.6,249.9 149.0,249.9 147.4,250.0 145.9,250.0 144.3,250.0 142.7,249.9 141.1,249.8 139.6,249.6 138.0,249.5 136.4,249.5 134.9,249.6 133.3,249.8 131.7,250.0 130.2,250.2 128.6,250.3 127.0,250.3 125.4,250.2 123.9,250.0 122.3,249.9 120.7,249.9 119.2,249.9 117.6,250.0 116.0,250.1 114.4,250.1 112.9,249.9 111.3,249.7 109.7,249.3 108.2,249.0 106.6,248.9 105.0,248.8 103.4,249.0 101.9,249.2 100.3,249.5 98.7,249.7 97.2,249.8 95.6,249.7 94.0,249.4 92.4,249.1 90.9,248.8 89.3,248.6 87.7,248.6 86.2,248.7 84.6,248.9 83.0,249.1 81.4,249.2 79.9,249.3 78.3,249.3 76.7,249.3 75.2,249.3 73.6,249.4 72.0,249.5 70.4,249.7 68.9,249.9 67.3,250.1 65.7,250.3 64.2,250.4 62.6,250.6 61.0,250.9 59.4,251.2 57.9,251.5 56.3,251.9 54.7,252.4 53.2,252.8 51.6,253.2 50.0,253.5 48.4,253.9" fill="rgb(0,173,207)" fill-opacity="0.20"/>
<polygon points="48.4,245.5 50.0,245.2 51.6,244.9 53.2,244.5 54.7,244.1 56.3,243.5 57.9,242.9 59.4,242.4 61.0,242.0 62.6,241.8 64.2,241.7 65.7,241.8 67.3,241.7 68.9,241.5 70.4,241.2 72.0,240.7 73.6,240.1 75.2,239.6 76.7,239.3 78.3,239.1 79.9,239.0 81.4,239.1 83.0,239.2 84.6,239.2 86.2,239.1 87.7,238.9 89.3,238.6 90.9,238.3 92.4,238.0 94.0,237.9 95.6,237.8 97.2,237.8 98.7,237.9 100.3,238.0 101.9,238.0 103.4,237.8 105.0,237.6 106.6,237.3 108.2,237.0 109.7,236.8 111.3,236.6 112.9,236.6 114.4,236.6 116.0,236.7 117.6,236.7 119.2,236.7 120.7,236.7 122.3,236.6 123.9,236.5 125.4,236.5 127.0,236.5 128.6,236.6 130.2,236.7 131.7,236.8 133.3,236.8 134.9,236.6 136.4,236.4 138.0,236.1 139.6,235.8 141.1,235.5 142.7,235.4 144.3,235.3 145.9,235.5 147.4,235.7 149.0,235.9 150.6,236.1 152.1,236.2 153.7,236.2 155.3,236.2 156.9,236.1 158.4,236.0 160.0,235.9 161.6,235.8 163.1,235.8 164.7,235.9 166.3,235.9 167.9,236.0 169.4,236.0 171.0,236.0 172.6,236.1 174.1,236.1 175.7,236.1 177.3,236.1 178.9,236.2 180.4,236.1 182.0,236.0 182.0,247.9 180.4,247.8 178.9,247.5 177.3,247.2 175.7,246.8 174.1,246.5 172.6,246.2 171.0,246.1 169.4,246.0 167.9,246.0 166.3,246.0 164.7,246.0 163.1,246.0 161.6,246.0 160.0,246.0 158.4,246.1 156.9,246.1 155.3,246.2 153.7,246.2 152.1,246.1 150.6,245.9 149.0,245.6 147.4,245.3 145.9,245.0 144.3,244.8 142.7,244.8 141.1,244.9 139.6,245.2 138.0,245.5 136.4,245.9 134.9,246.1 133.3,246.2 131.7,246.2 130.2,246.0 128.6,245.7 127.0,245.5 125.4,245.3 123.9,245.3 122.3,245.3 120.7,245.4 119.2,245.4 117.6,245.5 116.0,245.4 114.4,245.3 112.9,245.2 111.3,245.2 109.7,245.3 108.2,245.4 106.6,245.6 105.0,245.8 103.4,245.9 101.9,245.9 100.3,245.8 98.7,245.6 97.2,245.3 95.6,245.1 94.0,245.0 92.4,245.1 90.9,245.2 89.3,245.5 87.7,245.8 86.2,246.1 84.6,246.3 83.0,246.4 81.4,246.4 79.9,246.5 78.3,246.6 76.7,246.8 75.2,247.0 73.6,247.4 72.0,247.7 70.4,247.9 68.9,248.1 67.3,248.1 65.7,248.1 64.2,248.1 62.6,248.2 61.0,248.5 59.4,248.9 57.9,249.3 56.3,249.7 54.7,250.1 53.2,250.4 51.6,250.6 50.0,250.8 48.4,251.1" fill="rgb(23,60,102)" fill-opacity="0.20"/>
<polygon points="48.4,244.4 50.0,244.2 51.6,243.9 53.2,243.7 54.7,243.5 56.3,243.3 57.9,243.0 59.4,242.8 61.0,242.6 62.6,242.3 64.2,242.0 65.7,241.8 67.3,241.6 68.9,241.4 70.4,241.3 72.0,241.2 73.6,241.0 75.2,240.7 76.7,240.4 78.3,240.1 79.9,239.7 81.4,239.4 83.0,239.1 84.6,238.9 86.2,238.8 87.7,238.8 89.3,238.7 90.9,238.6 92.4,238.4 94.0,238.2 95.6,237.9 97.2,237.6 98.7,237.3 100.3,237.0 101.9,236.8 103.4,236.6 105.0,236.4 106.6,236.3 108.2,236.1 109.7,235.9 111.3,235.7 112.9,235.5 114.4,235.3 116.0,235.2 117.6,235.0 119.2,234.8 120.7,234.7 122.3,234.5 123.9,234.3 125.4,234.1 127.0,233.8 128.6,233.7 130.2,233.5 131.7,233.4 133.3,233.2 134.9,233.1 136.4,232.9 138.0,232.7 139.6,232.4 141.1,232.2 142.7,231.9 144.3,231.6 145.9,231.5 147.4,231.4 149.0,231.4 150.6,231.4 152.1,231.4 153.7,231.4 155.3,231.3 156.9,231.1 158.4,230.9 160.0,230.6 161.6,230.3 163.1,230.1 164.7,229.9 166.3,229.8 167.9,229.7 169.4,229.6 171.0,229.6 172.6,229.5 174.1,229.3 175.7,229.2 177.3,229.0 178.9,229.0 180.4,228.9 182.0,228.9 182.0,239.5 180.4,239.5 178.9,239.7 177.3,239.8 175.7,240.0 174.1,240.2 172.6,240.4 171.0,240.5 169.4,240.6 167.9,240.6 166.3,240.6 164.7,240.6 163.1,240.5 161.6,240.5 160.0,240.5 158.4,240.6 156.9,240.6 155.3,240.7 153.7,240.8 152.1,240.9 150.6,241.0 149.0,241.1 147.4,241.1 145.9,241.2 144.3,241.2 142.7,241.3 141.1,241.4 139.6,241.5 138.0,241.6 136.4,241.8 134.9,242.0 133.3,242.2 131.7,242.3 130.2,242.4 128.6,242.5 127.0,242.6 125.4,242.6 123.9,242.6 122.3,242.6 120.7,242.7 119.2,242.8 117.6,242.9 116.0,243.1 114.4,243.4 112.9,243.6 111.3,243.9 109.7,244.2 108.2,244.4 106.6,244.6 105.0,244.8 103.4,244.9 101.9,245.0 100.3,245.1 98.7,245.3 97.2,245.4 95.6,245.6 94.0,245.9 92.4,246.1 90.9,246.4 89.3,246.7 87.7,247.0 86.2,247.2 84.6,247.4 83.0,247.6 81.4,247.7 79.9,247.7 78.3,247.8 76.7,247.9 75.2,248.0 73.6,248.2 72.0,248.4 70.4,248.7 68.9,249.0 67.3,249.3 65.7,249.6 64.2,249.9 62.6,250.1 61.0,250.4 59.4,250.6 57.9,250.8 56.3,251.1 54.7,251.3 53.2,251.6 51.6,251.9 50.0,252.1 48.4,252.4" fill="rgb(247,148,32)" fill-opacity="0.22"/>
<polygon points="48.4,244.4 50.0,244.2 51.6,243.9 53.2,243.7 54.7,243.5 56.3,243.2 57.9,243.0 59.4,242.7 61.0,242.5 62.6,242.3 64.2,242.1 65.7,241.8 67.3,241.5 68.9,241.1 70.4,240.7 72.0,240.3 73.6,239.9 75.2,239.5 76.7,239.2 78.3,238.9 79.9,238.6 81.4,238.4 83.0,238.1 84.6,237.9 86.2,237.7 87.7,237.4 89.3,237.1 90.9,236.8 92.4,236.3 94.0,235.9 95.6,235.5 97.2,235.1 98.7,234.7 100.3,234.3 101.9,234.0 103.4,233.7 105.0,233.3 106.6,232.9 108.2,232.5 109.7,232.1 111.3,231.6 112.9,231.1 114.4,230.6 116.0,230.1 117.6,229.7 119.2,229.3 120.7,228.9 122.3,228.5 123.9,228.2 125.4,227.9 127.0,227.5 128.6,227.1 130.2,226.7 131.7,226.2 133.3,225.7 134.9,225.2 136.4,224.7 138.0,224.1 139.6,223.6 141.1,223.1 142.7,222.6 144.3,222.1 145.9,221.6 147.4,221.1 149.0,220.5 150.6,220.0 152.1,219.4 153.7,218.9 155.3,218.4 156.9,217.9 158.4,217.5 160.0,217.0 161.6,216.6 163.1,216.1 164.7,215.6 166.3,215.1 167.9,214.5 169.4,213.8 171.0,213.1 172.6,212.4 174.1,211.7 175.7,211.1 177.3,210.5 178.9,209.9 180.4,209.4 182.0,209.0 182.0,230.8 180.4,231.0 178.9,231.3 177.3,231.7 175.7,232.0 174.1,232.4 172.6,232.6 171.0,232.8 169.4,233.0 167.9,233.1 166.3,233.2 164.7,233.4 163.1,233.7 161.6,234.0 160.0,234.3 158.4,234.6 156.9,234.9 155.3,235.1 153.7,235.2 152.1,235.2 150.6,235.3 149.0,235.5 147.4,235.8 145.9,236.1 144.3,236.5 142.7,236.9 141.1,237.3 139.6,237.6 138.0,237.8 136.4,238.0 134.9,238.2 133.3,238.4 131.7,238.6 130.2,238.9 128.6,239.2 127.0,239.5 125.4,239.7 123.9,240.0 122.3,240.1 120.7,240.3 119.2,240.4 117.6,240.5 116.0,240.8 114.4,241.0 112.9,241.3 111.3,241.6 109.7,241.9 108.2,242.2 106.6,242.5 105.0,242.8 103.4,243.1 101.9,243.4 100.3,243.8 98.7,244.1 97.2,244.4 95.6,244.7 94.0,244.9 92.4,245.0 90.9,245.2 89.3,245.4 87.7,245.6 86.2,245.8 84.6,246.1 83.0,246.4 81.4,246.7 79.9,246.9 78.3,247.1 76.7,247.3 75.2,247.5 73.6,247.7 72.0,248.0 70.4,248.4 68.9,248.9 67.3,249.3 65.7,249.7 64.2,250.0 62.6,250.2 61.0,250.4 59.4,250.6 57.9,250.8 56.3,251.0 54.7,251.3 53.2,251.6 51.6,251.9 50.0,252.1 48.4,252.4" fill="rgb(231,29,37)" fill-opacity="0.24"/>
<polygon points="48.4,244.4 50.0,244.1 51.6,243.8 53.2,243.5 54.7,243.1 56.3,242.8 57.9,242.4 59.4,241.9 61.0,241.5 62.6,241.2 64.2,240.8 65.7,240.6 67.3,240.3 68.9,240.0 70.4,239.6 72.0,239.1 73.6,238.6 75.2,238.1 76.7,237.6 78.3,237.1 79.9,236.7 81.4,236.2 83.0,235.8 84.6,235.4 86.2,234.9 87.7,234.5 89.3,234.0 90.9,233.5 92.4,233.1 94.0,232.6 95.6,232.2 97.2,231.7 98.7,231.3 100.3,230.8 101.9,230.3 103.4,229.7 105.0,229.2 106.6,228.8 108.2,228.3 109.7,227.8 111.3,227.3 112.9,226.7 114.4,226.1 116.0,225.4 117.6,224.7 119.2,224.0 120.7,223.3 122.3,222.6 123.9,222.1 125.4,221.5 127.0,221.0 128.6,220.4 130.2,219.8 131.7,219.1 133.3,218.4 134.9,217.6 136.4,216.9 138.0,216.2 139.6,215.7 141.1,215.2 142.7,214.7 144.3,214.2 145.9,213.6 147.4,213.0 149.0,212.2 150.6,211.4 152.1,210.6 153.7,209.8 155.3,209.1 156.9,208.4 158.4,207.7 160.0,207.1 161.6,206.4 163.1,205.7 164.7,204.8 166.3,204.0 167.9,203.1 169.4,202.2 171.0,201.4 172.6,200.6 174.1,199.9 175.7,199.1 177.3,198.4 178.9,197.7 180.4,196.9 182.0,196.1 182.0,224.7 180.4,224.8 178.9,225.0 177.3,225.4 175.7,225.8 174.1,226.3 172.6,226.8 171.0,227.2 169.4,227.5 167.9,227.7 166.3,227.9 164.7,228.1 163.1,228.4 161.6,228.9 160.0,229.3 158.4,229.8 156.9,230.2 155.3,230.5 153.7,230.7 152.1,230.9 150.6,231.0 149.0,231.1 147.4,231.4 145.9,231.7 144.3,232.1 142.7,232.6 141.1,232.9 139.6,233.2 138.0,233.4 136.4,233.5 134.9,233.7 133.3,233.9 131.7,234.3 130.2,234.7 128.6,235.2 127.0,235.7 125.4,236.2 123.9,236.5 122.3,236.7 120.7,236.9 119.2,237.1 117.6,237.4 116.0,237.8 114.4,238.2 112.9,238.7 111.3,239.2 109.7,239.5 108.2,239.8 106.6,239.9 105.0,240.1 103.4,240.2 101.9,240.5 100.3,240.9 98.7,241.4 97.2,241.9 95.6,242.3 94.0,242.7 92.4,242.9 90.9,243.1 89.3,243.2 87.7,243.5 86.2,243.8 84.6,244.2 83.0,244.7 81.4,245.2 79.9,245.7 78.3,246.0 76.7,246.2 75.2,246.4 73.6,246.6 72.0,246.9 70.4,247.2 68.9,247.7 67.3,248.2 65.7,248.8 64.2,249.2 62.6,249.5 61.0,249.7 59.4,249.9 57.9,250.2 56.3,250.6 54.7,251.0 53.2,251.4 51.6,251.7 50.0,252.1 48.4,252.4" fill="rgb(149,27,30)" fill-opacity="0.20"/>
<polyline points="19.0,253.7 20.6,253.1 22.1,252.2 23.7,251.6 25.2,251.4 26.8,251.0 28.3,250.5 29.9,250.2 31.4,250.1 33.0,249.9 34.5,249.6 36.1,249.6 37.6,249.7 39.2,249.5 40.7,249.2 42.3,249.0 43.8,248.9 45.4,248.7 46.9,248.5 48.5,248.3 50.0,247.9" fill="none" stroke="rgb(35,35,35)" stroke-width="1.00" stroke-linejoin="round"/>
<polyline points="48.4,248.0 50.0,247.7 51.6,247.4 53.2,247.1 54.7,246.8 56.3,246.6 57.9,246.4 59.4,246.2 61.0,246.0 62.6,245.9 64.2,245.7 65.7,245.5 67.3,245.3 68.9,245.2 70.4,245.1 72.0,245.1 73.6,245.0 75.2,245.0 76.7,244.9 78.3,244.8 79.9,244.6 81.4,244.5 83.0,244.4 84.6,244.3 86.2,244.2 87.7,244.2 89.3,244.3 90.9,244.3 92.4,244.4 94.0,244.5 95.6,244.5 97.2,244.4 98.7,244.4 100.3,244.3 101.9,244.2 103.4,244.1 105.0,244.1 106.6,244.1 108.2,244.2 109.7,244.3 111.3,244.4 112.9,244.6 114.4,244.6 116.0,244.7 117.6,244.6 119.2,244.6 120.7,244.5 122.3,244.4 123.9,244.3 125.4,244.2 127.0,244.2 128.6,244.2 130.2,244.3 131.7,244.3 133.3,244.3 134.9,244.3 136.4,244.3 138.0,244.2 139.6,244.1 141.1,244.1 142.7,244.1 144.3,244.1 145.9,244.1 147.4,244.1 149.0,244.2 150.6,244.2 152.1,244.3 153.7,244.3 155.3,244.3 156.9,244.3 158.4,244.3 160.0,244.3 161.6,244.4 163.1,244.5 164.7,244.6 166.3,244.8 167.9,245.0 169.4,245.2 171.0,245.3 172.6,245.4 174.1,245.5 175.7,245.5 177.3,245.5 178.9,245.5 180.4,245.5 182.0,245.6" fill="none" stroke="rgb(0,173,207)" stroke-width="0.85" stroke-linejoin="round"/>
<polyline points="48.4,248.0 50.0,247.7 51.6,247.4 53.2,247.1 54.7,246.6 56.3,246.2 57.9,245.8 59.4,245.4 61.0,245.1 62.6,245.0 64.2,245.0 65.7,244.9 67.3,244.8 68.9,244.5 70.4,244.2 72.0,243.8 73.6,243.4 75.2,243.1 76.7,242.8 78.3,242.7 79.9,242.6 81.4,242.6 83.0,242.6 84.6,242.5 86.2,242.4 87.7,242.2 89.3,241.9 90.9,241.8 92.4,241.6 94.0,241.6 95.6,241.6 97.2,241.6 98.7,241.7 100.3,241.7 101.9,241.7 103.4,241.6 105.0,241.4 106.6,241.3 108.2,241.2 109.7,241.1 111.3,241.1 112.9,241.1 114.4,241.1 116.0,241.1 117.6,241.0 119.2,241.0 120.7,240.9 122.3,240.8 123.9,240.7 125.4,240.7 127.0,240.8 128.6,240.8 130.2,240.9 131.7,241.0 133.3,241.0 134.9,241.0 136.4,240.9 138.0,240.8 139.6,240.7 141.1,240.6 142.7,240.6 144.3,240.6 145.9,240.6 147.4,240.6 149.0,240.7 150.6,240.8 152.1,240.9 153.7,241.0 155.3,241.1 156.9,241.2 158.4,241.3 160.0,241.4 161.6,241.4 163.1,241.3 164.7,241.2 166.3,241.1 167.9,240.9 169.4,240.8 171.0,240.8 172.6,241.0 174.1,241.2 175.7,241.4 177.3,241.7 178.9,241.9 180.4,242.0 182.0,242.0" fill="none" stroke="rgb(23,60,102)" stroke-width="0.85" stroke-linejoin="round"/>
<polyline points="48.4,248.0 50.0,247.7 51.6,247.5 53.2,247.2 54.7,247.0 56.3,246.8 57.9,246.5 59.4,246.3 61.0,246.1 62.6,245.9 64.2,245.7 65.7,245.5 67.3,245.3 68.9,245.1 70.4,244.8 72.0,244.5 73.6,244.3 75.2,244.0 76.7,243.7 78.3,243.4 79.9,243.1 81.4,242.9 83.0,242.6 84.6,242.4 86.2,242.1 87.7,241.9 89.3,241.6 90.9,241.3 92.4,241.1 94.0,240.9 95.6,240.7 97.2,240.5 98.7,240.4 100.3,240.3 101.9,240.2 103.4,240.1 105.0,240.0 106.6,239.9 108.2,239.7 109.7,239.4 111.3,239.1 112.9,238.9 114.4,238.6 116.0,238.4 117.6,238.2 119.2,238.0 120.7,237.9 122.3,237.8 123.9,237.7 125.4,237.5 127.0,237.3 128.6,237.1 130.2,236.8 131.7,236.5 133.3,236.2 134.9,235.9 136.4,235.7 138.0,235.6 139.6,235.5 141.1,235.4 142.7,235.4 144.3,235.4 145.9,235.4 147.4,235.3 149.0,235.2 150.6,235.1 152.1,234.9 153.7,234.7 155.3,234.5 156.9,234.3 158.4,234.2 160.0,234.1 161.6,234.0 163.1,234.0 164.7,233.9 166.3,233.9 167.9,233.8 169.4,233.7 171.0,233.5 172.6,233.4 174.1,233.2 175.7,233.1 177.3,232.9 178.9,232.9 180.4,232.8 182.0,232.8" fill="none" stroke="rgb(247,148,32)" stroke-width="0.85" stroke-linejoin="round"/>
<polyline points="48.4,248.0 50.0,247.7 51.6,247.4 53.2,247.2 54.7,246.9 56.3,246.6 57.9,246.3 59.4,246.0 61.0,245.7 62.6,245.4 64.2,245.1 65.7,244.8 67.3,244.5 68.9,244.2 70.4,243.9 72.0,243.5 73.6,243.2 75.2,242.9 76.7,242.6 78.3,242.4 79.9,242.2 81.4,242.0 83.0,241.7 84.6,241.4 86.2,241.0 87.7,240.5 89.3,240.0 90.9,239.6 92.4,239.2 94.0,238.9 95.6,238.7 97.2,238.4 98.7,238.2 100.3,238.0 101.9,237.6 103.4,237.2 105.0,236.8 106.6,236.4 108.2,236.0 109.7,235.7 111.3,235.4 112.9,235.1 114.4,234.9 116.0,234.6 117.6,234.2 119.2,233.8 120.7,233.4 122.3,233.0 123.9,232.5 125.4,232.1 127.0,231.8 128.6,231.4 130.2,231.0 131.7,230.7 133.3,230.3 134.9,230.0 136.4,229.6 138.0,229.3 139.6,229.0 141.1,228.7 142.7,228.4 144.3,228.0 145.9,227.6 147.4,227.1 149.0,226.6 150.6,226.1 152.1,225.7 153.7,225.3 155.3,225.0 156.9,224.7 158.4,224.4 160.0,224.2 161.6,223.8 163.1,223.5 164.7,223.1 166.3,222.8 167.9,222.5 169.4,222.2 171.0,222.2 172.6,222.2 174.1,222.0 175.7,221.7 177.3,221.0 178.9,220.1 180.4,219.1 182.0,218.1" fill="none" stroke="rgb(231,29,37)" stroke-width="0.85" stroke-linejoin="round"/>
<polyline points="48.4,248.0 50.0,247.7 51.6,247.5 53.2,247.2 54.7,247.0 56.3,246.7 57.9,246.3 59.4,246.0 61.0,245.7 62.6,245.4 64.2,245.1 65.7,244.8 67.3,244.5 68.9,244.2 70.4,243.8 72.0,243.4 73.6,243.1 75.2,242.7 76.7,242.4 78.3,242.1 79.9,241.9 81.4,241.6 83.0,241.4 84.6,241.1 86.2,240.7 87.7,240.4 89.3,240.0 90.9,239.7 92.4,239.4 94.0,239.1 95.6,238.9 97.2,238.6 98.7,238.2 100.3,237.8 101.9,237.4 103.4,237.0 105.0,236.5 106.6,236.1 108.2,235.7 109.7,235.3 111.3,234.9 112.9,234.5 114.4,234.1 116.0,233.6 117.6,233.1 119.2,232.6 120.7,232.1 122.3,231.7 123.9,231.3 125.4,231.0 127.0,230.6 128.6,230.3 130.2,229.9 131.7,229.5 133.3,229.0 134.9,228.6 136.4,228.2 138.0,227.9 139.6,227.5 141.1,227.2 142.7,226.8 144.3,226.4 145.9,226.0 147.4,225.4 149.0,224.9 150.6,224.4 152.1,223.9 153.7,223.4 155.3,223.0 156.9,222.5 158.4,222.0 160.0,221.5 161.6,220.9 163.1,220.3 164.7,219.7 166.3,219.2 167.9,218.7 169.4,218.2 171.0,217.8 172.6,217.4 174.1,216.9 175.7,216.4 177.3,215.9 178.9,215.4 180.4,214.8 182.0,214.3" fill="none" stroke="rgb(149,27,30)" stroke-width="0.85" stroke-linejoin="round"/>
<rect x="41.0" y="287.45" width="4.6" height="1.5" fill="rgb(35,35,35)" fill-opacity="0.3"/>
<line x1="41.0" y1="288.20" x2="45.6" y2="288.20" stroke="rgb(35,35,35)" stroke-width="0.6"/>
<text class="lg" x="47.2" y="289.25" textLength="47.0" lengthAdjust="spacingAndGlyphs">Hist. Ref. Per., 1995-2014</text>
<rect x="41.0" y="291.95" width="4.6" height="1.5" fill="rgb(23,60,102)" fill-opacity="0.3"/>
<line x1="41.0" y1="292.70" x2="45.6" y2="292.70" stroke="rgb(23,60,102)" stroke-width="0.6"/>
<text class="lg" x="47.2" y="293.75" textLength="16.4" lengthAdjust="spacingAndGlyphs">SSP1-2.6</text>
<rect x="41.0" y="296.45" width="4.6" height="1.5" fill="rgb(231,29,37)" fill-opacity="0.3"/>
<line x1="41.0" y1="297.20" x2="45.6" y2="297.20" stroke="rgb(231,29,37)" stroke-width="0.6"/>
<text class="lg" x="47.2" y="298.25" textLength="16.4" lengthAdjust="spacingAndGlyphs">SSP3-7.0</text>
<rect x="99.5" y="287.45" width="4.6" height="1.5" fill="rgb(0,173,207)" fill-opacity="0.3"/>
<line x1="99.5" y1="288.20" x2="104.1" y2="288.20" stroke="rgb(0,173,207)" stroke-width="0.6"/>
<text class="lg" x="105.7" y="289.25" textLength="16.4" lengthAdjust="spacingAndGlyphs">SSP1-1.9</text>
<rect x="99.5" y="291.95" width="4.6" height="1.5" fill="rgb(247,148,32)" fill-opacity="0.3"/>
<line x1="99.5" y1="292.70" x2="104.1" y2="292.70" stroke="rgb(247,148,32)" stroke-width="0.6"/>
<text class="lg" x="105.7" y="293.75" textLength="16.4" lengthAdjust="spacingAndGlyphs">SSP2-4.5</text>
<rect x="99.5" y="296.45" width="4.6" height="1.5" fill="rgb(149,27,30)" fill-opacity="0.3"/>
<line x1="99.5" y1="297.20" x2="104.1" y2="297.20" stroke="rgb(149,27,30)" stroke-width="0.6"/>
<text class="lg" x="105.7" y="298.25" textLength="16.4" lengthAdjust="spacingAndGlyphs">SSP5-8.5</text>
</g>
<g>
<text class="t" x="269.5" y="166.9">Congo</text>
<line class="g" x1="197.7" y1="176.60" x2="363.0" y2="176.60"/>
<text class="yl" x="193.0" y="178.20">34</text>
<line class="g" x1="197.7" y1="192.80" x2="363.0" y2="192.80"/>
<text class="yl" x="193.0" y="194.40">32</text>
<line class="g" x1="197.7" y1="209.00" x2="363.0" y2="209.00"/>
<text class="yl" x="193.0" y="210.60">30</text>
<line class="g" x1="197.7" y1="225.20" x2="363.0" y2="225.20"/>
<text class="yl" x="193.0" y="226.80">28</text>
<line class="g" x1="197.7" y1="241.40" x2="363.0" y2="241.40"/>
<text class="yl" x="193.0" y="243.00">26</text>
<line class="g" x1="197.7" y1="257.60" x2="363.0" y2="257.60"/>
<text class="yl" x="193.0" y="259.20">24</text>
<line class="g" x1="197.7" y1="273.80" x2="363.0" y2="273.80"/>
<text class="yl" x="193.0" y="275.40">22</text>
<text class="xl" x="205.8" y="279.80">2000</text>
<text class="xl" x="236.4" y="279.80">2020</text>
<text class="xl" x="267.1" y="279.80">2040</text>
<text class="xl" x="297.9" y="279.80">2060</text>
<text class="xl" x="328.6" y="279.80">2080</text>
<text class="xl" x="357.8" y="279.80">2100</text>
<polygon points="198.0,251.1 199.6,250.3 201.1,249.6 202.7,249.3 204.2,248.7 205.8,248.4 207.3,247.8 208.9,247.6 210.5,247.5 212.0,247.2 213.6,247.2 215.1,246.9 216.7,247.0 218.2,246.8 219.8,246.6 221.4,246.5 222.9,246.3 224.5,246.2 226.0,245.8 227.6,245.6 229.1,245.4 229.1,250.6 227.6,250.8 226.0,251.0 224.5,251.4 222.9,251.5 221.4,251.7 219.8,251.8 218.2,252.0 216.7,252.2 215.1,252.1 213.6,252.4 212.0,252.4 210.5,252.7 208.9,252.8 207.3,253.0 205.8,253.6 204.2,253.9 202.7,254.5 201.1,254.8 199.6,255.5 198.0,256.3" fill="rgb(30,30,30)" fill-opacity="0.17"/>
<polygon points="227.5,248.2 229.1,247.8 230.7,247.5 232.3,247.2 233.8,247.0 235.4,246.7 237.0,246.4 238.6,246.2 240.2,245.9 241.7,245.7 243.3,245.5 244.9,245.4 246.5,245.3 248.0,245.2 249.6,245.1 251.2,245.0 252.8,244.8 254.3,244.6 255.9,244.3 257.5,244.0 259.1,243.8 260.6,243.6 262.2,243.4 263.8,243.4 265.4,243.4 266.9,243.5 268.5,243.6 270.1,243.6 271.7,243.6 273.2,243.5 274.8,243.4 276.4,243.3 278.0,243.2 279.5,243.2 281.1,243.2 282.7,243.3 284.3,243.4 285.9,243.5 287.4,243.5 289.0,243.5 290.6,243.4 292.2,243.2 293.7,243.0 295.3,242.8 296.9,242.7 298.5,242.7 300.0,242.7 301.6,242.8 303.2,242.9 304.8,243.0 306.3,243.0 307.9,242.9 309.5,242.8 311.1,242.6 312.6,242.3 314.2,242.2 315.8,242.0 317.4,241.9 318.9,241.8 320.5,241.8 322.1,241.8 323.7,241.7 325.3,241.6 326.8,241.5 328.4,241.3 330.0,241.2 331.6,241.1 333.1,241.0 334.7,241.0 336.3,241.1 337.9,241.3 339.4,241.5 341.0,241.7 342.6,241.9 344.2,242.1 345.7,242.2 347.3,242.2 348.9,242.2 350.5,242.2 352.0,242.2 353.6,242.2 355.2,242.2 356.8,242.3 358.3,242.4 359.9,242.5 361.5,242.5 361.5,252.1 359.9,251.8 358.3,251.6 356.8,251.3 355.2,251.1 353.6,251.0 352.0,251.0 350.5,250.9 348.9,250.9 347.3,250.8 345.7,250.7 344.2,250.7 342.6,250.6 341.0,250.6 339.4,250.6 337.9,250.6 336.3,250.6 334.7,250.5 333.1,250.4 331.6,250.2 330.0,250.0 328.4,249.9 326.8,249.8 325.3,249.9 323.7,250.0 322.1,250.1 320.5,250.2 318.9,250.2 317.4,250.2 315.8,250.2 314.2,250.1 312.6,250.1 311.1,250.2 309.5,250.3 307.9,250.4 306.3,250.5 304.8,250.5 303.2,250.4 301.6,250.2 300.0,249.9 298.5,249.6 296.9,249.5 295.3,249.5 293.7,249.7 292.2,249.9 290.6,250.3 289.0,250.5 287.4,250.6 285.9,250.5 284.3,250.2 282.7,249.8 281.1,249.3 279.5,249.0 278.0,248.8 276.4,248.7 274.8,248.8 273.2,249.0 271.7,249.2 270.1,249.4 268.5,249.5 266.9,249.5 265.4,249.5 263.8,249.6 262.2,249.6 260.6,249.7 259.1,249.8 257.5,249.9 255.9,250.0 254.3,249.9 252.8,249.8 251.2,249.7 249.6,249.6 248.0,249.6 246.5,249.6 244.9,249.8 243.3,250.2 241.7,250.6 240.2,250.9 238.6,251.3 237.0,251.6 235.4,251.8 233.8,252.1 232.3,252.4 230.7,252.7 229.1,253.0 227.5,253.4" fill="rgb(0,173,207)" fill-opacity="0.20"/>
<polygon points="227.5,245.9 229.1,245.5 230.7,245.1 232.3,244.7 233.8,244.4 235.4,244.2 237.0,243.9 238.6,243.6 240.2,243.3 241.7,242.9 243.3,242.4 244.9,241.9 246.5,241.5 248.0,241.3 249.6,241.1 251.2,241.0 252.8,240.9 254.3,240.7 255.9,240.4 257.5,240.1 259.1,239.7 260.6,239.5 262.2,239.3 263.8,239.2 265.4,239.2 266.9,239.1 268.5,239.0 270.1,238.8 271.7,238.6 273.2,238.4 274.8,238.2 276.4,238.0 278.0,237.9 279.5,237.9 281.1,237.9 282.7,237.9 284.3,237.9 285.9,237.8 287.4,237.8 289.0,237.8 290.6,237.9 292.2,238.0 293.7,238.1 295.3,238.2 296.9,238.2 298.5,238.1 300.0,237.9 301.6,237.6 303.2,237.3 304.8,237.0 306.3,236.9 307.9,236.8 309.5,236.8 311.1,236.7 312.6,236.6 314.2,236.4 315.8,236.2 317.4,236.1 318.9,236.0 320.5,236.0 322.1,236.2 323.7,236.5 325.3,236.9 326.8,237.2 328.4,237.3 330.0,237.4 331.6,237.3 333.1,237.1 334.7,236.9 336.3,236.8 337.9,236.8 339.4,236.9 341.0,237.0 342.6,237.1 344.2,237.1 345.7,237.0 347.3,236.9 348.9,236.7 350.5,236.7 352.0,236.7 353.6,236.8 355.2,237.0 356.8,237.1 358.3,237.3 359.9,237.3 361.5,237.2 361.5,246.8 359.9,246.9 358.3,246.8 356.8,246.7 355.2,246.5 353.6,246.2 352.0,246.0 350.5,245.8 348.9,245.7 347.3,245.8 345.7,245.9 344.2,246.1 342.6,246.2 341.0,246.2 339.4,246.1 337.9,245.9 336.3,245.7 334.7,245.4 333.1,245.2 331.6,245.1 330.0,245.1 328.4,245.2 326.8,245.3 325.3,245.3 323.7,245.3 322.1,245.2 320.5,245.1 318.9,244.8 317.4,244.6 315.8,244.5 314.2,244.4 312.6,244.5 311.1,244.7 309.5,244.9 307.9,245.2 306.3,245.3 304.8,245.4 303.2,245.4 301.6,245.3 300.0,245.2 298.5,245.1 296.9,245.0 295.3,245.0 293.7,244.9 292.2,244.9 290.6,244.9 289.0,244.8 287.4,244.8 285.9,244.7 284.3,244.6 282.7,244.7 281.1,244.8 279.5,244.9 278.0,245.1 276.4,245.3 274.8,245.5 273.2,245.6 271.7,245.6 270.1,245.6 268.5,245.5 266.9,245.5 265.4,245.5 263.8,245.6 262.2,245.8 260.6,246.1 259.1,246.3 257.5,246.5 255.9,246.6 254.3,246.6 252.8,246.6 251.2,246.5 249.6,246.6 248.0,246.8 246.5,247.1 244.9,247.5 243.3,248.0 241.7,248.5 240.2,248.8 238.6,249.1 237.0,249.2 235.4,249.3 233.8,249.5 232.3,249.8 230.7,250.1 229.1,250.4 227.5,250.8" fill="rgb(23,60,102)" fill-opacity="0.20"/>
<polygon points="227.5,245.0 229.1,244.8 230.7,244.6 232.3,244.3 233.8,244.1 235.4,243.8 237.0,243.5 238.6,243.3 240.2,243.0 241.7,242.8 243.3,242.5 244.9,242.3 246.5,242.2 248.0,242.0 249.6,241.8 251.2,241.5 252.8,241.3 254.3,241.1 255.9,240.9 257.5,240.7 259.1,240.6 260.6,240.4 262.2,240.3 263.8,240.1 265.4,239.9 266.9,239.7 268.5,239.5 270.1,239.3 271.7,239.1 273.2,238.9 274.8,238.7 276.4,238.5 278.0,238.3 279.5,238.1 281.1,237.8 282.7,237.6 284.3,237.3 285.9,237.1 287.4,236.9 289.0,236.7 290.6,236.6 292.2,236.4 293.7,236.1 295.3,235.9 296.9,235.6 298.5,235.4 300.0,235.2 301.6,235.0 303.2,234.9 304.8,234.7 306.3,234.6 307.9,234.5 309.5,234.3 311.1,234.1 312.6,233.9 314.2,233.7 315.8,233.6 317.4,233.4 318.9,233.3 320.5,233.3 322.1,233.2 323.7,233.1 325.3,233.0 326.8,232.8 328.4,232.6 330.0,232.4 331.6,232.2 333.1,232.1 334.7,231.9 336.3,231.8 337.9,231.8 339.4,231.7 341.0,231.5 342.6,231.4 344.2,231.1 345.7,230.9 347.3,230.7 348.9,230.5 350.5,230.4 352.0,230.3 353.6,230.3 355.2,230.2 356.8,230.1 358.3,230.0 359.9,229.9 361.5,229.8 361.5,239.6 359.9,239.7 358.3,239.8 356.8,240.0 355.2,240.1 353.6,240.2 352.0,240.3 350.5,240.3 348.9,240.4 347.3,240.4 345.7,240.4 344.2,240.4 342.6,240.5 341.0,240.5 339.4,240.5 337.9,240.5 336.3,240.5 334.7,240.6 333.1,240.7 331.6,240.8 330.0,240.8 328.4,240.9 326.8,241.0 325.3,241.0 323.7,241.1 322.1,241.2 320.5,241.3 318.9,241.5 317.4,241.7 315.8,241.9 314.2,242.1 312.6,242.2 311.1,242.2 309.5,242.3 307.9,242.3 306.3,242.3 304.8,242.4 303.2,242.6 301.6,242.8 300.0,243.1 298.5,243.3 296.9,243.5 295.3,243.6 293.7,243.6 292.2,243.5 290.6,243.5 289.0,243.6 287.4,243.7 285.9,244.0 284.3,244.3 282.7,244.6 281.1,245.0 279.5,245.2 278.0,245.4 276.4,245.5 274.8,245.6 273.2,245.7 271.7,245.8 270.1,246.0 268.5,246.3 266.9,246.5 265.4,246.8 263.8,246.9 262.2,247.1 260.6,247.2 259.1,247.2 257.5,247.3 255.9,247.4 254.3,247.7 252.8,248.0 251.2,248.3 249.6,248.7 248.0,249.0 246.5,249.4 244.9,249.6 243.3,249.8 241.7,250.0 240.2,250.2 238.6,250.3 237.0,250.5 235.4,250.8 233.8,251.0 232.3,251.2 230.7,251.5 229.1,251.7 227.5,252.0" fill="rgb(247,148,32)" fill-opacity="0.22"/>
<polygon points="227.5,245.0 229.1,244.8 230.7,244.5 232.3,244.3 233.8,244.0 235.4,243.8 237.0,243.5 238.6,243.2 240.2,243.0 241.7,242.7 243.3,242.4 244.9,242.1 246.5,241.8 248.0,241.5 249.6,241.1 251.2,240.7 252.8,240.3 254.3,240.0 255.9,239.6 257.5,239.3 259.1,239.0 260.6,238.7 262.2,238.4 263.8,238.2 265.4,238.0 266.9,237.7 268.5,237.4 270.1,237.1 271.7,236.7 273.2,236.2 274.8,235.7 276.4,235.3 278.0,234.8 279.5,234.3 281.1,233.9 282.7,233.5 284.3,233.2 285.9,232.9 287.4,232.6 289.0,232.3 290.6,231.9 292.2,231.5 293.7,231.0 295.3,230.5 296.9,229.9 298.5,229.4 300.0,228.8 301.6,228.3 303.2,227.8 304.8,227.3 306.3,226.9 307.9,226.6 309.5,226.2 311.1,225.8 312.6,225.4 314.2,225.0 315.8,224.4 317.4,223.9 318.9,223.3 320.5,222.7 322.1,222.2 323.7,221.6 325.3,221.1 326.8,220.7 328.4,220.2 330.0,219.8 331.6,219.3 333.1,218.8 334.7,218.3 336.3,217.7 337.9,217.0 339.4,216.3 341.0,215.6 342.6,215.0 344.2,214.3 345.7,213.7 347.3,213.2 348.9,212.7 350.5,212.2 352.0,211.7 353.6,211.2 355.2,210.7 356.8,210.1 358.3,209.4 359.9,208.7 361.5,208.0 361.5,231.1 359.9,231.3 358.3,231.5 356.8,231.6 355.2,231.7 353.6,231.8 352.0,232.0 350.5,232.3 348.9,232.7 347.3,233.1 345.7,233.5 344.2,233.9 342.6,234.2 341.0,234.4 339.4,234.5 337.9,234.5 336.3,234.6 334.7,234.6 333.1,234.8 331.6,235.0 330.0,235.2 328.4,235.5 326.8,235.9 325.3,236.2 323.7,236.5 322.1,236.8 320.5,237.1 318.9,237.4 317.4,237.7 315.8,238.0 314.2,238.3 312.6,238.5 311.1,238.6 309.5,238.8 307.9,238.8 306.3,238.9 304.8,239.0 303.2,239.1 301.6,239.4 300.0,239.8 298.5,240.2 296.9,240.7 295.3,241.1 293.7,241.5 292.2,241.8 290.6,242.0 289.0,242.1 287.4,242.1 285.9,242.2 284.3,242.4 282.7,242.6 281.1,242.9 279.5,243.3 278.0,243.6 276.4,243.9 274.8,244.2 273.2,244.4 271.7,244.6 270.1,244.8 268.5,245.0 266.9,245.3 265.4,245.6 263.8,245.9 262.2,246.2 260.6,246.5 259.1,246.8 257.5,247.1 255.9,247.3 254.3,247.5 252.8,247.7 251.2,248.0 249.6,248.3 248.0,248.6 246.5,248.8 244.9,249.1 243.3,249.3 241.7,249.5 240.2,249.7 238.6,249.9 237.0,250.2 235.4,250.5 233.8,250.9 232.3,251.2 230.7,251.5 229.1,251.8 227.5,252.0" fill="rgb(231,29,37)" fill-opacity="0.24"/>
<polygon points="227.5,245.0 229.1,244.7 230.7,244.3 232.3,244.0 233.8,243.7 235.4,243.3 237.0,243.0 238.6,242.6 240.2,242.3 241.7,241.9 243.3,241.6 244.9,241.2 246.5,240.8 248.0,240.4 249.6,240.0 251.2,239.6 252.8,239.2 254.3,238.7 255.9,238.2 257.5,237.8 259.1,237.3 260.6,236.8 262.2,236.4 263.8,235.9 265.4,235.4 266.9,235.0 268.5,234.6 270.1,234.1 271.7,233.7 273.2,233.3 274.8,232.8 276.4,232.4 278.0,231.9 279.5,231.4 281.1,230.9 282.7,230.4 284.3,229.8 285.9,229.3 287.4,228.7 289.0,228.1 290.6,227.5 292.2,226.8 293.7,226.2 295.3,225.6 296.9,225.0 298.5,224.4 300.0,223.8 301.6,223.2 303.2,222.6 304.8,222.0 306.3,221.5 307.9,220.9 309.5,220.4 311.1,219.8 312.6,219.2 314.2,218.6 315.8,218.0 317.4,217.3 318.9,216.7 320.5,216.0 322.1,215.2 323.7,214.5 325.3,213.8 326.8,213.1 328.4,212.3 330.0,211.6 331.6,210.9 333.1,210.2 334.7,209.5 336.3,208.7 337.9,208.0 339.4,207.3 341.0,206.6 342.6,205.8 344.2,205.1 345.7,204.3 347.3,203.5 348.9,202.8 350.5,202.0 352.0,201.2 353.6,200.5 355.2,199.7 356.8,198.9 358.3,198.1 359.9,197.3 361.5,196.5 361.5,224.4 359.9,224.8 358.3,225.3 356.8,225.7 355.2,226.0 353.6,226.3 352.0,226.5 350.5,226.7 348.9,226.9 347.3,227.2 345.7,227.5 344.2,227.8 342.6,228.1 341.0,228.4 339.4,228.7 337.9,228.9 336.3,229.2 334.7,229.4 333.1,229.8 331.6,230.1 330.0,230.5 328.4,231.0 326.8,231.3 325.3,231.6 323.7,231.8 322.1,231.9 320.5,232.0 318.9,232.2 317.4,232.4 315.8,232.8 314.2,233.2 312.6,233.8 311.1,234.3 309.5,234.7 307.9,235.0 306.3,235.3 304.8,235.5 303.2,235.8 301.6,236.1 300.0,236.5 298.5,236.9 296.9,237.3 295.3,237.7 293.7,238.0 292.2,238.2 290.6,238.4 289.0,238.6 287.4,238.8 285.9,239.2 284.3,239.7 282.7,240.2 281.1,240.7 279.5,241.1 278.0,241.5 276.4,241.6 274.8,241.7 273.2,241.8 271.7,242.0 270.1,242.2 268.5,242.6 266.9,243.0 265.4,243.5 263.8,244.0 262.2,244.4 260.6,244.7 259.1,244.9 257.5,245.2 255.9,245.5 254.3,245.9 252.8,246.4 251.2,246.9 249.6,247.4 248.0,247.8 246.5,248.0 244.9,248.2 243.3,248.4 241.7,248.6 240.2,248.9 238.6,249.4 237.0,249.8 235.4,250.3 233.8,250.7 232.3,251.1 230.7,251.4 229.1,251.7 227.5,252.0" fill="rgb(149,27,30)" fill-opacity="0.20"/>
<polyline points="198.0,253.7 199.6,252.9 201.1,252.2 202.7,251.9 204.2,251.3 205.8,251.0 207.3,250.4 208.9,250.2 210.5,250.1 212.0,249.8 213.6,249.8 215.1,249.5 216.7,249.6 218.2,249.4 219.8,249.2 221.4,249.1 222.9,248.9 224.5,248.8 226.0,248.4 227.6,248.2 229.1,248.0" fill="none" stroke="rgb(35,35,35)" stroke-width="1.00" stroke-linejoin="round"/>
<polyline points="227.5,248.0 229.1,247.8 230.7,247.5 232.3,247.3 233.8,247.1 235.4,246.9 237.0,246.6 238.6,246.4 240.2,246.1 241.7,245.9 243.3,245.8 244.9,245.8 246.5,245.9 248.0,245.9 249.6,245.9 251.2,245.9 252.8,245.7 254.3,245.4 255.9,245.2 257.5,245.0 259.1,244.9 260.6,244.9 262.2,245.0 263.8,245.2 265.4,245.3 266.9,245.4 268.5,245.4 270.1,245.3 271.7,245.1 273.2,244.8 274.8,244.7 276.4,244.6 278.0,244.6 279.5,244.7 281.1,244.8 282.7,244.9 284.3,245.0 285.9,245.0 287.4,244.9 289.0,244.9 290.6,244.8 292.2,244.7 293.7,244.7 295.3,244.8 296.9,244.9 298.5,245.0 300.0,245.2 301.6,245.3 303.2,245.3 304.8,245.3 306.3,245.2 307.9,245.2 309.5,245.1 311.1,245.0 312.6,244.9 314.2,244.8 315.8,244.8 317.4,244.7 318.9,244.7 320.5,244.7 322.1,244.7 323.7,244.7 325.3,244.8 326.8,244.8 328.4,244.8 330.0,244.7 331.6,244.7 333.1,244.7 334.7,244.7 336.3,244.7 337.9,244.9 339.4,245.1 341.0,245.3 342.6,245.5 344.2,245.6 345.7,245.6 347.3,245.6 348.9,245.5 350.5,245.4 352.0,245.3 353.6,245.4 355.2,245.6 356.8,245.8 358.3,246.1 359.9,246.3 361.5,246.5" fill="none" stroke="rgb(0,173,207)" stroke-width="0.85" stroke-linejoin="round"/>
<polyline points="227.5,248.0 229.1,247.7 230.7,247.3 232.3,247.0 233.8,246.6 235.4,246.4 237.0,246.1 238.6,245.8 240.2,245.5 241.7,245.2 243.3,244.8 244.9,244.5 246.5,244.1 248.0,243.8 249.6,243.5 251.2,243.3 252.8,243.1 254.3,242.9 255.9,242.8 257.5,242.6 259.1,242.5 260.6,242.4 262.2,242.3 263.8,242.2 265.4,242.1 266.9,242.1 268.5,242.0 270.1,242.0 271.7,242.0 273.2,242.0 274.8,241.9 276.4,241.7 278.0,241.5 279.5,241.3 281.1,241.1 282.7,240.9 284.3,240.8 285.9,240.8 287.4,240.8 289.0,240.8 290.6,240.9 292.2,240.9 293.7,240.9 295.3,240.9 296.9,240.9 298.5,240.8 300.0,240.8 301.6,240.7 303.2,240.7 304.8,240.7 306.3,240.7 307.9,240.7 309.5,240.6 311.1,240.6 312.6,240.5 314.2,240.4 315.8,240.3 317.4,240.3 318.9,240.3 320.5,240.3 322.1,240.4 323.7,240.6 325.3,240.7 326.8,240.8 328.4,240.9 330.0,241.0 331.6,241.0 333.1,240.9 334.7,240.9 336.3,240.8 337.9,240.8 339.4,240.8 341.0,240.8 342.6,240.8 344.2,240.9 345.7,240.9 347.3,241.0 348.9,241.0 350.5,241.0 352.0,241.0 353.6,241.0 355.2,241.1 356.8,241.2 358.3,241.3 359.9,241.4 361.5,241.5" fill="none" stroke="rgb(23,60,102)" stroke-width="0.85" stroke-linejoin="round"/>
<polyline points="227.5,248.0 229.1,247.8 230.7,247.6 232.3,247.3 233.8,247.1 235.4,246.8 237.0,246.4 238.6,246.2 240.2,245.9 241.7,245.7 243.3,245.6 244.9,245.4 246.5,245.2 248.0,245.0 249.6,244.8 251.2,244.5 252.8,244.3 254.3,244.2 255.9,244.0 257.5,243.9 259.1,243.7 260.6,243.5 262.2,243.3 263.8,243.0 265.4,242.6 266.9,242.3 268.5,242.0 270.1,241.8 271.7,241.7 273.2,241.5 274.8,241.4 276.4,241.3 278.0,241.1 279.5,240.9 281.1,240.6 282.7,240.4 284.3,240.2 285.9,240.1 287.4,240.0 289.0,239.9 290.6,239.8 292.2,239.7 293.7,239.5 295.3,239.2 296.9,238.9 298.5,238.6 300.0,238.2 301.6,238.0 303.2,237.8 304.8,237.7 306.3,237.7 307.9,237.7 309.5,237.7 311.1,237.6 312.6,237.5 314.2,237.3 315.8,237.1 317.4,236.9 318.9,236.7 320.5,236.6 322.1,236.4 323.7,236.3 325.3,236.1 326.8,235.9 328.4,235.7 330.0,235.5 331.6,235.4 333.1,235.2 334.7,235.2 336.3,235.2 337.9,235.2 339.4,235.2 341.0,235.2 342.6,235.1 344.2,235.0 345.7,234.8 347.3,234.5 348.9,234.3 350.5,234.2 352.0,234.1 353.6,234.1 355.2,234.1 356.8,234.2 358.3,234.2 359.9,234.2 361.5,234.1" fill="none" stroke="rgb(247,148,32)" stroke-width="0.85" stroke-linejoin="round"/>
<polyline points="227.5,248.0 229.1,247.8 230.7,247.5 232.3,247.2 233.8,246.9 235.4,246.6 237.0,246.3 238.6,246.0 240.2,245.7 241.7,245.5 243.3,245.2 244.9,245.0 246.5,244.8 248.0,244.5 249.6,244.2 251.2,243.9 252.8,243.6 254.3,243.2 255.9,242.8 257.5,242.5 259.1,242.2 260.6,241.9 262.2,241.7 263.8,241.5 265.4,241.3 266.9,241.1 268.5,240.8 270.1,240.5 271.7,240.2 273.2,239.8 274.8,239.4 276.4,238.9 278.0,238.5 279.5,238.2 281.1,237.8 282.7,237.5 284.3,237.3 285.9,237.1 287.4,236.8 289.0,236.6 290.6,236.3 292.2,235.9 293.7,235.5 295.3,235.1 296.9,234.7 298.5,234.3 300.0,233.9 301.6,233.6 303.2,233.3 304.8,233.1 306.3,232.8 307.9,232.6 309.5,232.3 311.1,232.0 312.6,231.6 314.2,231.2 315.8,230.7 317.4,230.2 318.9,229.8 320.5,229.3 322.1,228.9 323.7,228.6 325.3,228.3 326.8,228.0 328.4,227.7 330.0,227.4 331.6,227.1 333.1,226.8 334.7,226.4 336.3,226.0 337.9,225.6 339.4,225.2 341.0,224.8 342.6,224.5 344.2,224.2 345.7,224.0 347.3,223.8 348.9,223.6 350.5,223.5 352.0,223.3 353.6,223.0 355.2,222.5 356.8,221.9 358.3,221.1 359.9,220.2 361.5,219.5" fill="none" stroke="rgb(231,29,37)" stroke-width="0.85" stroke-linejoin="round"/>
<polyline points="227.5,248.0 229.1,247.7 230.7,247.5 232.3,247.2 233.8,247.0 235.4,246.6 237.0,246.3 238.6,246.0 240.2,245.7 241.7,245.4 243.3,245.2 244.9,245.0 246.5,244.8 248.0,244.6 249.6,244.3 251.2,243.9 252.8,243.5 254.3,243.1 255.9,242.7 257.5,242.4 259.1,242.1 260.6,241.9 262.2,241.6 263.8,241.4 265.4,241.1 266.9,240.7 268.5,240.3 270.1,239.9 271.7,239.5 273.2,239.2 274.8,238.9 276.4,238.6 278.0,238.3 279.5,238.0 281.1,237.7 282.7,237.3 284.3,236.8 285.9,236.4 287.4,235.9 289.0,235.5 290.6,235.1 292.2,234.9 293.7,234.6 295.3,234.3 296.9,234.1 298.5,233.7 300.0,233.3 301.6,232.8 303.2,232.2 304.8,231.7 306.3,231.2 307.9,230.8 309.5,230.5 311.1,230.2 312.6,229.8 314.2,229.5 315.8,229.1 317.4,228.7 318.9,228.2 320.5,227.7 322.1,227.2 323.7,226.8 325.3,226.4 326.8,226.0 328.4,225.6 330.0,225.2 331.6,224.8 333.1,224.3 334.7,223.7 336.3,223.1 337.9,222.6 339.4,222.1 341.0,221.7 342.6,221.3 344.2,221.0 345.7,220.7 347.3,220.3 348.9,219.8 350.5,219.3 352.0,218.7 353.6,218.1 355.2,217.5 356.8,216.9 358.3,216.4 359.9,215.9 361.5,215.5" fill="none" stroke="rgb(149,27,30)" stroke-width="0.85" stroke-linejoin="round"/>
<rect x="220.0" y="287.45" width="4.6" height="1.5" fill="rgb(35,35,35)" fill-opacity="0.3"/>
<line x1="220.0" y1="288.20" x2="224.6" y2="288.20" stroke="rgb(35,35,35)" stroke-width="0.6"/>
<text class="lg" x="226.2" y="289.25" textLength="47.0" lengthAdjust="spacingAndGlyphs">Hist. Ref. Per., 1995-2014</text>
<rect x="220.0" y="291.95" width="4.6" height="1.5" fill="rgb(23,60,102)" fill-opacity="0.3"/>
<line x1="220.0" y1="292.70" x2="224.6" y2="292.70" stroke="rgb(23,60,102)" stroke-width="0.6"/>
<text class="lg" x="226.2" y="293.75" textLength="16.4" lengthAdjust="spacingAndGlyphs">SSP1-2.6</text>
<rect x="220.0" y="296.45" width="4.6" height="1.5" fill="rgb(231,29,37)" fill-opacity="0.3"/>
<line x1="220.0" y1="297.20" x2="224.6" y2="297.20" stroke="rgb(231,29,37)" stroke-width="0.6"/>
<text class="lg" x="226.2" y="298.25" textLength="16.4" lengthAdjust="spacingAndGlyphs">SSP3-7.0</text>
<rect x="278.5" y="287.45" width="4.6" height="1.5" fill="rgb(0,173,207)" fill-opacity="0.3"/>
<line x1="278.5" y1="288.20" x2="283.1" y2="288.20" stroke="rgb(0,173,207)" stroke-width="0.6"/>
<text class="lg" x="284.7" y="289.25" textLength="16.4" lengthAdjust="spacingAndGlyphs">SSP1-1.9</text>
<rect x="278.5" y="291.95" width="4.6" height="1.5" fill="rgb(247,148,32)" fill-opacity="0.3"/>
<line x1="278.5" y1="292.70" x2="283.1" y2="292.70" stroke="rgb(247,148,32)" stroke-width="0.6"/>
<text class="lg" x="284.7" y="293.75" textLength="16.4" lengthAdjust="spacingAndGlyphs">SSP2-4.5</text>
<rect x="278.5" y="296.45" width="4.6" height="1.5" fill="rgb(149,27,30)" fill-opacity="0.3"/>
<line x1="278.5" y1="297.20" x2="283.1" y2="297.20" stroke="rgb(149,27,30)" stroke-width="0.6"/>
<text class="lg" x="284.7" y="298.25" textLength="16.4" lengthAdjust="spacingAndGlyphs">SSP5-8.5</text>
</g>
<g>
<text class="t" x="453.5" y="166.9">Gabon</text>
<line class="g" x1="377.2" y1="176.50" x2="542.0" y2="176.50"/>
<text class="yl" x="372.5" y="178.10">32</text>
<line class="g" x1="377.2" y1="200.85" x2="542.0" y2="200.85"/>
<text class="yl" x="372.5" y="202.45">30</text>
<line class="g" x1="377.2" y1="225.20" x2="542.0" y2="225.20"/>
<text class="yl" x="372.5" y="226.80">28</text>
<line class="g" x1="377.2" y1="249.55" x2="542.0" y2="249.55"/>
<text class="yl" x="372.5" y="251.15">26</text>
<line class="g" x1="377.2" y1="273.90" x2="542.0" y2="273.90"/>
<text class="yl" x="372.5" y="275.50">24</text>
<text class="xl" x="385.2" y="279.80">2000</text>
<text class="xl" x="415.9" y="279.80">2020</text>
<text class="xl" x="446.6" y="279.80">2040</text>
<text class="xl" x="477.4" y="279.80">2060</text>
<text class="xl" x="508.1" y="279.80">2080</text>
<text class="xl" x="537.2" y="279.80">2100</text>
<polygon points="377.5,258.4 379.1,257.6 380.6,256.7 382.2,255.9 383.7,255.3 385.3,254.7 386.8,254.2 388.4,253.8 389.9,253.6 391.5,253.3 393.0,253.1 394.6,253.0 396.1,252.8 397.7,252.8 399.2,252.5 400.8,252.2 402.3,252.1 403.9,251.7 405.4,251.4 407.0,251.0 408.5,250.8 408.5,258.0 407.0,258.2 405.4,258.6 403.9,258.9 402.3,259.3 400.8,259.4 399.2,259.7 397.7,260.0 396.1,260.0 394.6,260.2 393.0,260.3 391.5,260.5 389.9,260.8 388.4,261.0 386.8,261.4 385.3,261.9 383.7,262.5 382.2,263.1 380.6,263.9 379.1,264.8 377.5,265.6" fill="rgb(30,30,30)" fill-opacity="0.17"/>
<polygon points="406.9,254.6 408.5,254.1 410.1,253.5 411.7,252.9 413.2,252.3 414.8,251.8 416.4,251.5 417.9,251.3 419.5,251.2 421.1,251.2 422.7,251.1 424.2,250.8 425.8,250.3 427.4,249.8 428.9,249.2 430.5,248.7 432.1,248.2 433.7,247.9 435.2,247.7 436.8,247.6 438.4,247.6 439.9,247.6 441.5,247.6 443.1,247.7 444.7,247.7 446.2,247.6 447.8,247.6 449.4,247.5 450.9,247.4 452.5,247.3 454.1,247.1 455.7,246.9 457.2,246.8 458.8,246.7 460.4,246.6 461.9,246.6 463.5,246.6 465.1,246.6 466.7,246.6 468.2,246.6 469.8,246.6 471.4,246.5 472.9,246.4 474.5,246.3 476.1,246.2 477.7,246.1 479.2,246.0 480.8,245.9 482.4,245.8 483.9,245.7 485.5,245.5 487.1,245.3 488.7,245.1 490.2,244.9 491.8,244.7 493.4,244.5 494.9,244.4 496.5,244.4 498.1,244.5 499.6,244.5 501.2,244.6 502.8,244.6 504.4,244.7 505.9,244.7 507.5,244.7 509.1,244.6 510.6,244.6 512.2,244.5 513.8,244.4 515.4,244.3 516.9,244.2 518.5,244.1 520.1,244.1 521.6,244.1 523.2,244.3 524.8,244.5 526.4,244.8 527.9,245.1 529.5,245.3 531.1,245.5 532.6,245.6 534.2,245.5 535.8,245.3 537.4,245.1 538.9,244.8 540.5,244.6 540.5,257.9 538.9,258.0 537.4,258.1 535.8,258.1 534.2,258.1 532.6,258.0 531.1,257.8 529.5,257.6 527.9,257.4 526.4,257.2 524.8,257.0 523.2,257.0 521.6,256.9 520.1,256.8 518.5,256.7 516.9,256.5 515.4,256.3 513.8,255.9 512.2,255.6 510.6,255.3 509.1,255.1 507.5,255.0 505.9,255.0 504.4,255.1 502.8,255.3 501.2,255.5 499.6,255.6 498.1,255.7 496.5,255.7 494.9,255.7 493.4,255.6 491.8,255.5 490.2,255.4 488.7,255.4 487.1,255.4 485.5,255.5 483.9,255.6 482.4,255.7 480.8,255.9 479.2,256.0 477.7,256.1 476.1,256.1 474.5,256.1 472.9,256.0 471.4,255.8 469.8,255.6 468.2,255.4 466.7,255.2 465.1,255.1 463.5,255.0 461.9,254.9 460.4,254.9 458.8,255.0 457.2,255.0 455.7,255.1 454.1,255.0 452.5,255.0 450.9,254.9 449.4,254.7 447.8,254.6 446.2,254.6 444.7,254.6 443.1,254.6 441.5,254.7 439.9,254.7 438.4,254.8 436.8,254.8 435.2,254.8 433.7,254.8 432.1,254.9 430.5,255.1 428.9,255.4 427.4,255.7 425.8,256.1 424.2,256.6 422.7,256.9 421.1,257.2 419.5,257.5 417.9,257.7 416.4,258.0 414.8,258.4 413.2,258.8 411.7,259.4 410.1,260.0 408.5,260.6 406.9,261.1" fill="rgb(0,173,207)" fill-opacity="0.20"/>
<polygon points="406.9,251.3 408.5,250.7 410.1,250.1 411.7,249.7 413.2,249.2 414.8,248.7 416.4,248.3 417.9,247.8 419.5,247.3 421.1,247.0 422.7,246.6 424.2,246.3 425.8,245.8 427.4,245.3 428.9,244.6 430.5,243.8 432.1,243.0 433.7,242.3 435.2,241.9 436.8,241.7 438.4,241.7 439.9,241.9 441.5,242.0 443.1,241.9 444.7,241.7 446.2,241.3 447.8,240.8 449.4,240.3 450.9,239.9 452.5,239.7 454.1,239.6 455.7,239.7 457.2,239.9 458.8,239.9 460.4,239.9 461.9,239.8 463.5,239.7 465.1,239.5 466.7,239.4 468.2,239.3 469.8,239.3 471.4,239.2 472.9,239.1 474.5,238.8 476.1,238.4 477.7,237.9 479.2,237.5 480.8,237.2 482.4,237.1 483.9,237.1 485.5,237.3 487.1,237.5 488.7,237.7 490.2,237.8 491.8,237.8 493.4,237.8 494.9,237.7 496.5,237.6 498.1,237.5 499.6,237.3 501.2,237.2 502.8,237.1 504.4,236.9 505.9,236.7 507.5,236.6 509.1,236.5 510.6,236.6 512.2,236.8 513.8,237.1 515.4,237.4 516.9,237.6 518.5,237.6 520.1,237.4 521.6,237.1 523.2,236.6 524.8,236.3 526.4,236.1 527.9,236.0 529.5,236.3 531.1,236.6 532.6,237.0 534.2,237.4 535.8,237.7 537.4,237.7 538.9,237.7 540.5,237.5 540.5,251.7 538.9,251.9 537.4,251.8 535.8,251.6 534.2,251.1 532.6,250.6 531.1,250.1 529.5,249.8 527.9,249.5 526.4,249.5 524.8,249.6 523.2,249.8 521.6,249.9 520.1,250.0 518.5,250.0 516.9,249.9 515.4,249.7 513.8,249.6 512.2,249.4 510.6,249.3 509.1,249.3 507.5,249.3 505.9,249.4 504.4,249.4 502.8,249.4 501.2,249.4 499.6,249.3 498.1,249.3 496.5,249.2 494.9,249.1 493.4,249.0 491.8,248.9 490.2,248.8 488.7,248.7 487.1,248.6 485.5,248.5 483.9,248.5 482.4,248.5 480.8,248.6 479.2,248.8 477.7,249.0 476.1,249.2 474.5,249.3 472.9,249.4 471.4,249.5 469.8,249.5 468.2,249.5 466.7,249.5 465.1,249.5 463.5,249.5 461.9,249.5 460.4,249.4 458.8,249.3 457.2,249.3 455.7,249.2 454.1,249.2 452.5,249.3 450.9,249.5 449.4,249.7 447.8,250.0 446.2,250.3 444.7,250.5 443.1,250.7 441.5,250.8 439.9,250.8 438.4,250.8 436.8,250.8 435.2,250.9 433.7,251.2 432.1,251.5 430.5,251.9 428.9,252.3 427.4,252.7 425.8,253.1 424.2,253.4 422.7,253.7 421.1,254.0 419.5,254.4 417.9,254.8 416.4,255.3 414.8,255.7 413.2,256.2 411.7,256.7 410.1,257.1 408.5,257.5 406.9,257.9" fill="rgb(23,60,102)" fill-opacity="0.20"/>
<polygon points="406.9,250.0 408.5,249.7 410.1,249.3 411.7,248.9 413.2,248.6 414.8,248.4 416.4,248.2 417.9,248.0 419.5,247.8 421.1,247.5 422.7,247.2 424.2,246.7 425.8,246.3 427.4,245.9 428.9,245.6 430.5,245.3 432.1,245.0 433.7,244.8 435.2,244.5 436.8,244.2 438.4,243.9 439.9,243.6 441.5,243.2 443.1,242.9 444.7,242.6 446.2,242.3 447.8,241.9 449.4,241.6 450.9,241.2 452.5,240.9 454.1,240.6 455.7,240.4 457.2,240.2 458.8,240.0 460.4,239.8 461.9,239.6 463.5,239.4 465.1,239.2 466.7,238.9 468.2,238.6 469.8,238.4 471.4,238.1 472.9,237.8 474.5,237.5 476.1,237.2 477.7,236.9 479.2,236.6 480.8,236.4 482.4,236.2 483.9,236.0 485.5,235.8 487.1,235.6 488.7,235.3 490.2,235.0 491.8,234.6 493.4,234.2 494.9,233.8 496.5,233.5 498.1,233.3 499.6,233.1 501.2,233.1 502.8,233.0 504.4,232.9 505.9,232.8 507.5,232.6 509.1,232.3 510.6,232.0 512.2,231.7 513.8,231.5 515.4,231.3 516.9,231.2 518.5,231.1 520.1,231.0 521.6,230.9 523.2,230.7 524.8,230.4 526.4,230.2 527.9,230.0 529.5,229.9 531.1,229.8 532.6,229.7 534.2,229.7 535.8,229.5 537.4,229.3 538.9,229.0 540.5,228.7 540.5,243.0 538.9,243.0 537.4,243.0 535.8,243.0 534.2,243.0 532.6,242.9 531.1,242.9 529.5,242.9 527.9,242.9 526.4,243.0 524.8,243.1 523.2,243.3 521.6,243.5 520.1,243.7 518.5,243.8 516.9,244.0 515.4,244.0 513.8,244.0 512.2,244.0 510.6,244.0 509.1,244.0 507.5,244.0 505.9,244.1 504.4,244.3 502.8,244.5 501.2,244.8 499.6,245.1 498.1,245.3 496.5,245.5 494.9,245.7 493.4,245.8 491.8,245.9 490.2,246.0 488.7,246.1 487.1,246.2 485.5,246.4 483.9,246.6 482.4,246.8 480.8,247.0 479.2,247.1 477.7,247.3 476.1,247.4 474.5,247.6 472.9,247.7 471.4,247.9 469.8,248.1 468.2,248.3 466.7,248.6 465.1,248.8 463.5,249.1 461.9,249.3 460.4,249.5 458.8,249.6 457.2,249.7 455.7,249.9 454.1,250.0 452.5,250.3 450.9,250.6 449.4,250.9 447.8,251.4 446.2,251.8 444.7,252.3 443.1,252.7 441.5,253.1 439.9,253.4 438.4,253.6 436.8,253.8 435.2,254.0 433.7,254.1 432.1,254.3 430.5,254.6 428.9,254.9 427.4,255.2 425.8,255.5 424.2,255.9 422.7,256.2 421.1,256.4 419.5,256.7 417.9,257.0 416.4,257.3 414.8,257.6 413.2,258.0 411.7,258.3 410.1,258.7 408.5,259.0 406.9,259.4" fill="rgb(247,148,32)" fill-opacity="0.22"/>
<polygon points="406.9,250.0 408.5,249.7 410.1,249.3 411.7,249.0 413.2,248.6 414.8,248.3 416.4,247.9 417.9,247.5 419.5,247.2 421.1,246.8 422.7,246.5 424.2,246.1 425.8,245.7 427.4,245.3 428.9,244.8 430.5,244.3 432.1,243.9 433.7,243.4 435.2,243.0 436.8,242.5 438.4,242.1 439.9,241.7 441.5,241.4 443.1,241.0 444.7,240.6 446.2,240.1 447.8,239.7 449.4,239.1 450.9,238.6 452.5,238.0 454.1,237.4 455.7,236.7 457.2,236.1 458.8,235.5 460.4,235.0 461.9,234.4 463.5,233.9 465.1,233.5 466.7,233.0 468.2,232.5 469.8,232.0 471.4,231.4 472.9,230.9 474.5,230.3 476.1,229.6 477.7,229.0 479.2,228.4 480.8,227.8 482.4,227.2 483.9,226.6 485.5,226.0 487.1,225.4 488.7,224.9 490.2,224.3 491.8,223.6 493.4,223.0 494.9,222.3 496.5,221.5 498.1,220.7 499.6,219.9 501.2,219.2 502.8,218.4 504.4,217.6 505.9,216.9 507.5,216.2 509.1,215.5 510.6,214.8 512.2,214.1 513.8,213.3 515.4,212.6 516.9,211.9 518.5,211.1 520.1,210.4 521.6,209.7 523.2,208.9 524.8,208.2 526.4,207.5 527.9,206.8 529.5,206.1 531.1,205.4 532.6,204.6 534.2,203.8 535.8,202.9 537.4,202.0 538.9,201.0 540.5,200.1 540.5,228.9 538.9,229.3 537.4,229.7 535.8,230.1 534.2,230.4 532.6,230.6 531.1,230.8 529.5,231.1 527.9,231.3 526.4,231.7 524.8,232.1 523.2,232.5 521.6,233.0 520.1,233.5 518.5,233.9 516.9,234.2 515.4,234.6 513.8,234.8 512.2,235.1 510.6,235.3 509.1,235.6 507.5,235.9 505.9,236.2 504.4,236.6 502.8,237.0 501.2,237.4 499.6,237.8 498.1,238.1 496.5,238.5 494.9,238.7 493.4,239.0 491.8,239.3 490.2,239.5 488.7,239.8 487.1,240.1 485.5,240.5 483.9,240.9 482.4,241.4 480.8,241.8 479.2,242.3 477.7,242.7 476.1,243.0 474.5,243.4 472.9,243.7 471.4,244.0 469.8,244.3 468.2,244.6 466.7,245.0 465.1,245.4 463.5,245.9 461.9,246.3 460.4,246.7 458.8,247.1 457.2,247.5 455.7,247.8 454.1,248.0 452.5,248.3 450.9,248.6 449.4,249.0 447.8,249.3 446.2,249.7 444.7,250.1 443.1,250.5 441.5,250.9 439.9,251.3 438.4,251.6 436.8,251.9 435.2,252.3 433.7,252.7 432.1,253.1 430.5,253.5 428.9,254.0 427.4,254.4 425.8,254.8 424.2,255.2 422.7,255.5 421.1,255.9 419.5,256.2 417.9,256.6 416.4,257.0 414.8,257.5 413.2,257.9 411.7,258.3 410.1,258.7 408.5,259.0 406.9,259.4" fill="rgb(231,29,37)" fill-opacity="0.24"/>
<polygon points="406.9,250.0 408.5,249.6 410.1,249.1 411.7,248.6 413.2,248.2 414.8,247.7 416.4,247.2 417.9,246.8 419.5,246.3 421.1,245.9 422.7,245.5 424.2,245.0 425.8,244.4 427.4,243.8 428.9,243.1 430.5,242.3 432.1,241.7 433.7,241.0 435.2,240.5 436.8,240.0 438.4,239.5 439.9,239.0 441.5,238.4 443.1,237.7 444.7,237.0 446.2,236.3 447.8,235.6 449.4,234.9 450.9,234.3 452.5,233.7 454.1,233.1 455.7,232.5 457.2,231.9 458.8,231.2 460.4,230.4 461.9,229.7 463.5,228.9 465.1,228.1 466.7,227.4 468.2,226.7 469.8,225.9 471.4,225.1 472.9,224.3 474.5,223.4 476.1,222.5 477.7,221.7 479.2,220.8 480.8,220.1 482.4,219.3 483.9,218.6 485.5,217.9 487.1,217.1 488.7,216.2 490.2,215.2 491.8,214.3 493.4,213.2 494.9,212.3 496.5,211.4 498.1,210.5 499.6,209.7 501.2,208.9 502.8,208.0 504.4,207.1 505.9,206.1 507.5,205.1 509.1,204.0 510.6,203.0 512.2,202.0 513.8,201.0 515.4,200.0 516.9,199.1 518.5,198.1 520.1,197.1 521.6,196.1 523.2,195.0 524.8,194.0 526.4,192.9 527.9,191.9 529.5,190.9 531.1,189.9 532.6,188.8 534.2,187.7 535.8,186.5 537.4,185.2 538.9,184.0 540.5,182.7 540.5,222.9 538.9,223.3 537.4,223.7 535.8,224.2 534.2,224.6 532.6,225.1 531.1,225.5 529.5,225.8 527.9,226.0 526.4,226.3 524.8,226.6 523.2,227.0 521.6,227.4 520.1,227.9 518.5,228.4 516.9,228.9 515.4,229.4 513.8,229.8 512.2,230.1 510.6,230.4 509.1,230.7 507.5,231.0 505.9,231.4 504.4,231.9 502.8,232.4 501.2,233.0 499.6,233.6 498.1,234.1 496.5,234.5 494.9,234.9 493.4,235.2 491.8,235.4 490.2,235.7 488.7,236.1 487.1,236.6 485.5,237.1 483.9,237.7 482.4,238.3 480.8,238.8 479.2,239.3 477.7,239.6 476.1,239.8 474.5,240.1 472.9,240.3 471.4,240.6 469.8,241.1 468.2,241.6 466.7,242.2 465.1,242.8 463.5,243.3 461.9,243.8 460.4,244.1 458.8,244.4 457.2,244.7 455.7,244.9 454.1,245.3 452.5,245.7 450.9,246.2 449.4,246.8 447.8,247.4 446.2,248.0 444.7,248.6 443.1,249.0 441.5,249.4 439.9,249.7 438.4,250.0 436.8,250.4 435.2,250.8 433.7,251.3 432.1,251.9 430.5,252.5 428.9,253.1 427.4,253.7 425.8,254.2 424.2,254.7 422.7,255.0 421.1,255.3 419.5,255.7 417.9,256.1 416.4,256.6 414.8,257.0 413.2,257.5 411.7,258.0 410.1,258.5 408.5,259.0 406.9,259.4" fill="rgb(149,27,30)" fill-opacity="0.20"/>
<polyline points="377.5,262.0 379.1,261.2 380.6,260.3 382.2,259.5 383.7,258.9 385.3,258.3 386.8,257.8 388.4,257.4 389.9,257.2 391.5,256.9 393.0,256.7 394.6,256.6 396.1,256.4 397.7,256.4 399.2,256.1 400.8,255.8 402.3,255.7 403.9,255.3 405.4,255.0 407.0,254.6 408.5,254.4" fill="none" stroke="rgb(35,35,35)" stroke-width="1.00" stroke-linejoin="round"/>
<polyline points="406.9,254.4 408.5,254.0 410.1,253.6 411.7,253.1 413.2,252.7 414.8,252.3 416.4,252.0 417.9,251.8 419.5,251.6 421.1,251.4 422.7,251.2 424.2,250.9 425.8,250.6 427.4,250.3 428.9,250.0 430.5,249.8 432.1,249.7 433.7,249.7 435.2,249.7 436.8,249.6 438.4,249.6 439.9,249.4 441.5,249.3 443.1,249.1 444.7,249.0 446.2,249.0 447.8,249.0 449.4,249.1 450.9,249.2 452.5,249.3 454.1,249.4 455.7,249.5 457.2,249.5 458.8,249.5 460.4,249.4 461.9,249.3 463.5,249.3 465.1,249.3 466.7,249.3 468.2,249.4 469.8,249.4 471.4,249.5 472.9,249.6 474.5,249.6 476.1,249.5 477.7,249.5 479.2,249.4 480.8,249.3 482.4,249.1 483.9,249.0 485.5,248.9 487.1,248.8 488.7,248.7 490.2,248.8 491.8,248.8 493.4,248.9 494.9,249.0 496.5,249.0 498.1,249.1 499.6,249.0 501.2,248.9 502.8,248.8 504.4,248.7 505.9,248.6 507.5,248.6 509.1,248.8 510.6,249.0 512.2,249.2 513.8,249.5 515.4,249.7 516.9,249.8 518.5,249.9 520.1,249.8 521.6,249.8 523.2,249.8 524.8,249.8 526.4,249.9 527.9,250.1 529.5,250.3 531.1,250.6 532.6,250.8 534.2,251.0 535.8,251.1 537.4,251.1 538.9,251.0 540.5,251.0" fill="none" stroke="rgb(0,173,207)" stroke-width="0.85" stroke-linejoin="round"/>
<polyline points="406.9,254.4 408.5,253.9 410.1,253.4 411.7,252.9 413.2,252.5 414.8,252.0 416.4,251.6 417.9,251.2 419.5,250.9 421.1,250.5 422.7,250.2 424.2,249.8 425.8,249.3 427.4,248.8 428.9,248.3 430.5,247.8 432.1,247.4 433.7,247.1 435.2,246.8 436.8,246.6 438.4,246.5 439.9,246.4 441.5,246.3 443.1,246.2 444.7,246.1 446.2,245.9 447.8,245.7 449.4,245.4 450.9,245.2 452.5,245.0 454.1,244.9 455.7,244.8 457.2,244.8 458.8,244.8 460.4,244.8 461.9,244.8 463.5,244.8 465.1,244.8 466.7,244.7 468.2,244.6 469.8,244.5 471.4,244.4 472.9,244.4 474.5,244.3 476.1,244.2 477.7,244.2 479.2,244.1 480.8,244.0 482.4,243.9 483.9,243.8 485.5,243.7 487.1,243.7 488.7,243.7 490.2,243.8 491.8,243.8 493.4,243.9 494.9,244.0 496.5,244.0 498.1,244.0 499.6,243.8 501.2,243.7 502.8,243.5 504.4,243.4 505.9,243.3 507.5,243.4 509.1,243.6 510.6,243.8 512.2,244.1 513.8,244.3 515.4,244.5 516.9,244.6 518.5,244.6 520.1,244.5 521.6,244.4 523.2,244.3 524.8,244.2 526.4,244.2 527.9,244.2 529.5,244.4 531.1,244.6 532.6,244.8 534.2,245.0 535.8,245.2 537.4,245.2 538.9,245.2 540.5,245.1" fill="none" stroke="rgb(23,60,102)" stroke-width="0.85" stroke-linejoin="round"/>
<polyline points="406.9,254.4 408.5,254.1 410.1,253.7 411.7,253.3 413.2,253.0 414.8,252.6 416.4,252.2 417.9,251.9 419.5,251.6 421.1,251.4 422.7,251.1 424.2,250.8 425.8,250.4 427.4,250.0 428.9,249.6 430.5,249.3 432.1,249.0 433.7,248.8 435.2,248.6 436.8,248.3 438.4,248.0 439.9,247.7 441.5,247.3 443.1,246.9 444.7,246.5 446.2,246.2 447.8,245.9 449.4,245.7 450.9,245.5 452.5,245.3 454.1,245.0 455.7,244.7 457.2,244.3 458.8,243.8 460.4,243.5 461.9,243.1 463.5,242.9 465.1,242.8 466.7,242.7 468.2,242.5 469.8,242.3 471.4,242.1 472.9,241.7 474.5,241.4 476.1,241.0 477.7,240.7 479.2,240.5 480.8,240.3 482.4,240.1 483.9,240.0 485.5,239.8 487.1,239.6 488.7,239.3 490.2,239.0 491.8,238.7 493.4,238.4 494.9,238.1 496.5,237.9 498.1,237.8 499.6,237.6 501.2,237.4 502.8,237.2 504.4,237.0 505.9,236.8 507.5,236.6 509.1,236.4 510.6,236.3 512.2,236.1 513.8,236.0 515.4,235.9 516.9,235.7 518.5,235.6 520.1,235.4 521.6,235.2 523.2,235.0 524.8,234.9 526.4,234.8 527.9,234.7 529.5,234.7 531.1,234.6 532.6,234.5 534.2,234.3 535.8,234.2 537.4,234.0 538.9,233.9 540.5,233.8" fill="none" stroke="rgb(247,148,32)" stroke-width="0.85" stroke-linejoin="round"/>
<polyline points="406.9,254.4 408.5,254.0 410.1,253.6 411.7,253.2 413.2,252.7 414.8,252.3 416.4,251.9 417.9,251.5 419.5,251.1 421.1,250.7 422.7,250.4 424.2,250.0 425.8,249.7 427.4,249.3 428.9,248.9 430.5,248.5 432.1,248.1 433.7,247.7 435.2,247.3 436.8,246.9 438.4,246.5 439.9,246.1 441.5,245.6 443.1,245.2 444.7,244.7 446.2,244.2 447.8,243.7 449.4,243.2 450.9,242.6 452.5,242.1 454.1,241.6 455.7,241.1 457.2,240.6 458.8,240.1 460.4,239.7 461.9,239.3 463.5,238.9 465.1,238.5 466.7,238.0 468.2,237.6 469.8,237.1 471.4,236.6 472.9,236.0 474.5,235.5 476.1,235.0 477.7,234.4 479.2,233.9 480.8,233.4 482.4,232.9 483.9,232.5 485.5,232.0 487.1,231.6 488.7,231.1 490.2,230.6 491.8,230.1 493.4,229.6 494.9,229.0 496.5,228.5 498.1,227.9 499.6,227.4 501.2,226.8 502.8,226.3 504.4,225.8 505.9,225.4 507.5,224.9 509.1,224.4 510.6,224.0 512.2,223.5 513.8,223.0 515.4,222.4 516.9,221.9 518.5,221.3 520.1,220.8 521.6,220.2 523.2,219.6 524.8,219.0 526.4,218.5 527.9,217.9 529.5,217.3 531.1,216.8 532.6,216.2 534.2,215.5 535.8,214.9 537.4,214.1 538.9,213.4 540.5,212.7" fill="none" stroke="rgb(231,29,37)" stroke-width="0.85" stroke-linejoin="round"/>
<polyline points="406.9,254.4 408.5,254.0 410.1,253.6 411.7,253.1 413.2,252.7 414.8,252.3 416.4,252.0 417.9,251.6 419.5,251.3 421.1,250.9 422.7,250.5 424.2,250.0 425.8,249.5 427.4,249.1 428.9,248.6 430.5,248.2 432.1,247.8 433.7,247.3 435.2,246.9 436.8,246.4 438.4,245.9 439.9,245.4 441.5,244.9 443.1,244.3 444.7,243.9 446.2,243.4 447.8,242.9 449.4,242.4 450.9,241.9 452.5,241.4 454.1,240.9 455.7,240.4 457.2,239.9 458.8,239.4 460.4,239.0 461.9,238.5 463.5,238.0 465.1,237.5 466.7,236.9 468.2,236.3 469.8,235.6 471.4,235.0 472.9,234.4 474.5,233.8 476.1,233.3 477.7,232.8 479.2,232.3 480.8,231.8 482.4,231.2 483.9,230.5 485.5,229.8 487.1,229.1 488.7,228.5 490.2,227.9 491.8,227.3 493.4,226.8 494.9,226.3 496.5,225.8 498.1,225.3 499.6,224.6 501.2,223.9 502.8,223.1 504.4,222.4 505.9,221.6 507.5,221.0 509.1,220.3 510.6,219.7 512.2,219.1 513.8,218.5 515.4,217.9 516.9,217.2 518.5,216.4 520.1,215.7 521.6,214.9 523.2,214.2 524.8,213.5 526.4,212.8 527.9,212.2 529.5,211.6 531.1,210.9 532.6,210.2 534.2,209.5 535.8,208.8 537.4,208.0 538.9,207.2 540.5,206.4" fill="none" stroke="rgb(149,27,30)" stroke-width="0.85" stroke-linejoin="round"/>
<rect x="399.5" y="287.45" width="4.6" height="1.5" fill="rgb(35,35,35)" fill-opacity="0.3"/>
<line x1="399.5" y1="288.20" x2="404.1" y2="288.20" stroke="rgb(35,35,35)" stroke-width="0.6"/>
<text class="lg" x="405.7" y="289.25" textLength="47.0" lengthAdjust="spacingAndGlyphs">Hist. Ref. Per., 1995-2014</text>
<rect x="399.5" y="291.95" width="4.6" height="1.5" fill="rgb(23,60,102)" fill-opacity="0.3"/>
<line x1="399.5" y1="292.70" x2="404.1" y2="292.70" stroke="rgb(23,60,102)" stroke-width="0.6"/>
<text class="lg" x="405.7" y="293.75" textLength="16.4" lengthAdjust="spacingAndGlyphs">SSP1-2.6</text>
<rect x="399.5" y="296.45" width="4.6" height="1.5" fill="rgb(231,29,37)" fill-opacity="0.3"/>
<line x1="399.5" y1="297.20" x2="404.1" y2="297.20" stroke="rgb(231,29,37)" stroke-width="0.6"/>
<text class="lg" x="405.7" y="298.25" textLength="16.4" lengthAdjust="spacingAndGlyphs">SSP3-7.0</text>
<rect x="458.0" y="287.45" width="4.6" height="1.5" fill="rgb(0,173,207)" fill-opacity="0.3"/>
<line x1="458.0" y1="288.20" x2="462.6" y2="288.20" stroke="rgb(0,173,207)" stroke-width="0.6"/>
<text class="lg" x="464.2" y="289.25" textLength="16.4" lengthAdjust="spacingAndGlyphs">SSP1-1.9</text>
<rect x="458.0" y="291.95" width="4.6" height="1.5" fill="rgb(247,148,32)" fill-opacity="0.3"/>
<line x1="458.0" y1="292.70" x2="462.6" y2="292.70" stroke="rgb(247,148,32)" stroke-width="0.6"/>
<text class="lg" x="464.2" y="293.75" textLength="16.4" lengthAdjust="spacingAndGlyphs">SSP2-4.5</text>
<rect x="458.0" y="296.45" width="4.6" height="1.5" fill="rgb(149,27,30)" fill-opacity="0.3"/>
<line x1="458.0" y1="297.20" x2="462.6" y2="297.20" stroke="rgb(149,27,30)" stroke-width="0.6"/>
<text class="lg" x="464.2" y="298.25" textLength="16.4" lengthAdjust="spacingAndGlyphs">SSP5-8.5</text>
</g>
<g>
<text class="t" x="90.5" y="322.0">Central African Republic</text>
<line class="g" x1="18.7" y1="331.60" x2="183.5" y2="331.60"/>
<text class="yl" x="14.0" y="333.20">34</text>
<line class="g" x1="18.7" y1="350.00" x2="183.5" y2="350.00"/>
<text class="yl" x="14.0" y="351.60">32</text>
<line class="g" x1="18.7" y1="368.40" x2="183.5" y2="368.40"/>
<text class="yl" x="14.0" y="370.00">30</text>
<line class="g" x1="18.7" y1="386.80" x2="183.5" y2="386.80"/>
<text class="yl" x="14.0" y="388.40">28</text>
<line class="g" x1="18.7" y1="405.20" x2="183.5" y2="405.20"/>
<text class="yl" x="14.0" y="406.80">26</text>
<line class="g" x1="18.7" y1="423.60" x2="183.5" y2="423.60"/>
<text class="yl" x="14.0" y="425.20">24</text>
<text class="xl" x="26.8" y="429.60">2000</text>
<text class="xl" x="57.5" y="429.60">2020</text>
<text class="xl" x="88.2" y="429.60">2040</text>
<text class="xl" x="118.8" y="429.60">2060</text>
<text class="xl" x="149.6" y="429.60">2080</text>
<text class="xl" x="178.8" y="429.60">2100</text>
<polygon points="19.0,410.2 20.6,409.4 22.1,408.7 23.7,408.1 25.2,407.5 26.8,407.2 28.3,406.9 29.9,406.4 31.4,406.3 33.0,406.2 34.5,406.1 36.1,406.0 37.6,405.6 39.2,405.5 40.7,405.6 42.3,405.3 43.8,405.1 45.4,404.9 46.9,404.7 48.5,404.6 50.0,404.2 50.0,412.6 48.5,413.0 46.9,413.1 45.4,413.3 43.8,413.5 42.3,413.7 40.7,414.0 39.2,413.9 37.6,414.0 36.1,414.4 34.5,414.5 33.0,414.6 31.4,414.7 29.9,414.8 28.3,415.3 26.8,415.6 25.2,415.9 23.7,416.5 22.1,417.1 20.6,417.8 19.0,418.6" fill="rgb(30,30,30)" fill-opacity="0.17"/>
<polygon points="48.4,408.8 50.0,408.3 51.6,407.8 53.2,407.3 54.7,406.8 56.3,406.4 57.9,405.9 59.4,405.4 61.0,405.0 62.6,404.5 64.2,404.2 65.7,404.1 67.3,404.0 68.9,404.0 70.4,404.0 72.0,403.8 73.6,403.6 75.2,403.2 76.7,402.8 78.3,402.5 79.9,402.3 81.4,402.2 83.0,402.2 84.6,402.2 86.2,402.3 87.7,402.2 89.3,402.1 90.9,401.9 92.4,401.6 94.0,401.4 95.6,401.3 97.2,401.3 98.7,401.4 100.3,401.6 101.9,401.8 103.4,401.9 105.0,402.0 106.6,401.9 108.2,401.8 109.7,401.6 111.3,401.5 112.9,401.3 114.4,401.2 116.0,401.2 117.6,401.1 119.2,401.0 120.7,400.8 122.3,400.6 123.9,400.3 125.4,400.1 127.0,399.9 128.6,399.7 130.2,399.7 131.7,399.8 133.3,400.0 134.9,400.2 136.4,400.4 138.0,400.5 139.6,400.7 141.1,400.7 142.7,400.8 144.3,400.7 145.9,400.6 147.4,400.5 149.0,400.3 150.6,400.1 152.1,399.9 153.7,399.7 155.3,399.5 156.9,399.4 158.4,399.3 160.0,399.3 161.6,399.4 163.1,399.5 164.7,399.8 166.3,400.1 167.9,400.4 169.4,400.8 171.0,401.0 172.6,401.2 174.1,401.3 175.7,401.3 177.3,401.3 178.9,401.2 180.4,401.2 182.0,401.2 182.0,411.7 180.4,411.5 178.9,411.5 177.3,411.5 175.7,411.6 174.1,411.7 172.6,411.8 171.0,411.7 169.4,411.6 167.9,411.3 166.3,410.9 164.7,410.4 163.1,410.0 161.6,409.6 160.0,409.4 158.4,409.4 156.9,409.4 155.3,409.7 153.7,409.9 152.1,410.2 150.6,410.4 149.0,410.4 147.4,410.3 145.9,410.1 144.3,409.8 142.7,409.5 141.1,409.3 139.6,409.2 138.0,409.2 136.4,409.3 134.9,409.4 133.3,409.5 131.7,409.5 130.2,409.4 128.6,409.3 127.0,409.2 125.4,409.1 123.9,409.1 122.3,409.2 120.7,409.4 119.2,409.5 117.6,409.6 116.0,409.6 114.4,409.5 112.9,409.4 111.3,409.3 109.7,409.2 108.2,409.2 106.6,409.3 105.0,409.3 103.4,409.4 101.9,409.3 100.3,409.2 98.7,409.0 97.2,408.8 95.6,408.7 94.0,408.5 92.4,408.5 90.9,408.4 89.3,408.5 87.7,408.5 86.2,408.4 84.6,408.3 83.0,408.3 81.4,408.2 79.9,408.3 78.3,408.5 76.7,408.8 75.2,409.2 73.6,409.6 72.0,410.0 70.4,410.3 68.9,410.5 67.3,410.6 65.7,410.7 64.2,410.9 62.6,411.2 61.0,411.6 59.4,412.2 57.9,412.8 56.3,413.4 54.7,414.0 53.2,414.6 51.6,415.2 50.0,415.8 48.4,416.4" fill="rgb(0,173,207)" fill-opacity="0.20"/>
<polygon points="48.4,405.4 50.0,405.0 51.6,404.6 53.2,404.3 54.7,404.0 56.3,403.7 57.9,403.3 59.4,402.8 61.0,402.2 62.6,401.6 64.2,401.1 65.7,400.6 67.3,400.4 68.9,400.3 70.4,400.2 72.0,400.0 73.6,399.7 75.2,399.4 76.7,398.9 78.3,398.5 79.9,398.1 81.4,397.8 83.0,397.7 84.6,397.8 86.2,397.9 87.7,398.0 89.3,398.0 90.9,397.8 92.4,397.5 94.0,397.2 95.6,396.9 97.2,396.7 98.7,396.6 100.3,396.7 101.9,396.9 103.4,397.2 105.0,397.4 106.6,397.4 108.2,397.3 109.7,397.0 111.3,396.7 112.9,396.3 114.4,396.0 116.0,395.9 117.6,395.9 119.2,396.0 120.7,396.1 122.3,396.1 123.9,396.0 125.4,395.8 127.0,395.5 128.6,395.2 130.2,395.0 131.7,394.9 133.3,395.0 134.9,395.3 136.4,395.6 138.0,395.9 139.6,396.1 141.1,396.2 142.7,396.1 144.3,395.8 145.9,395.6 147.4,395.3 149.0,395.2 150.6,395.2 152.1,395.4 153.7,395.6 155.3,395.8 156.9,395.9 158.4,395.8 160.0,395.7 161.6,395.5 163.1,395.3 164.7,395.2 166.3,395.2 167.9,395.4 169.4,395.6 171.0,396.0 172.6,396.2 174.1,396.3 175.7,396.3 177.3,396.2 178.9,395.9 180.4,395.7 182.0,395.6 182.0,407.2 180.4,407.1 178.9,407.1 177.3,407.1 175.7,407.0 174.1,406.9 172.6,406.8 171.0,406.6 169.4,406.4 167.9,406.2 166.3,406.0 164.7,405.9 163.1,405.9 161.6,405.9 160.0,405.9 158.4,406.0 156.9,406.0 155.3,405.9 153.7,405.9 152.1,405.7 150.6,405.6 149.0,405.4 147.4,405.3 145.9,405.3 144.3,405.4 142.7,405.5 141.1,405.7 139.6,405.9 138.0,406.0 136.4,405.9 134.9,405.7 133.3,405.4 131.7,405.1 130.2,404.8 128.6,404.6 127.0,404.6 125.4,404.7 123.9,405.0 122.3,405.4 120.7,405.8 119.2,406.0 117.6,406.2 116.0,406.1 114.4,405.9 112.9,405.7 111.3,405.5 109.7,405.4 108.2,405.5 106.6,405.6 105.0,405.8 103.4,406.0 101.9,406.2 100.3,406.2 98.7,406.1 97.2,405.9 95.6,405.7 94.0,405.6 92.4,405.5 90.9,405.6 89.3,405.8 87.7,406.1 86.2,406.3 84.6,406.5 83.0,406.6 81.4,406.7 79.9,406.7 78.3,406.9 76.7,407.0 75.2,407.3 73.6,407.6 72.0,408.0 70.4,408.3 68.9,408.5 67.3,408.8 65.7,408.9 64.2,409.1 62.6,409.4 61.0,409.8 59.4,410.2 57.9,410.7 56.3,411.2 54.7,411.5 53.2,411.9 51.6,412.1 50.0,412.4 48.4,412.7" fill="rgb(23,60,102)" fill-opacity="0.20"/>
<polygon points="48.4,404.0 50.0,403.7 51.6,403.5 53.2,403.2 54.7,402.9 56.3,402.7 57.9,402.5 59.4,402.3 61.0,402.1 62.6,401.9 64.2,401.6 65.7,401.3 67.3,400.9 68.9,400.6 70.4,400.3 72.0,400.0 73.6,399.7 75.2,399.5 76.7,399.3 78.3,399.2 79.9,399.0 81.4,398.8 83.0,398.7 84.6,398.5 86.2,398.3 87.7,398.0 89.3,397.8 90.9,397.5 92.4,397.2 94.0,396.9 95.6,396.6 97.2,396.3 98.7,396.0 100.3,395.7 101.9,395.4 103.4,395.2 105.0,395.1 106.6,394.9 108.2,394.8 109.7,394.8 111.3,394.7 112.9,394.6 114.4,394.4 116.0,394.1 117.6,393.9 119.2,393.5 120.7,393.2 122.3,392.9 123.9,392.5 125.4,392.3 127.0,392.1 128.6,391.9 130.2,391.8 131.7,391.7 133.3,391.5 134.9,391.4 136.4,391.3 138.0,391.2 139.6,391.0 141.1,390.8 142.7,390.6 144.3,390.4 145.9,390.2 147.4,390.0 149.0,389.8 150.6,389.6 152.1,389.4 153.7,389.2 155.3,389.0 156.9,388.9 158.4,388.7 160.0,388.6 161.6,388.5 163.1,388.3 164.7,388.2 166.3,388.0 167.9,387.9 169.4,387.7 171.0,387.6 172.6,387.4 174.1,387.4 175.7,387.3 177.3,387.3 178.9,387.3 180.4,387.3 182.0,387.3 182.0,400.0 180.4,399.9 178.9,399.9 177.3,399.9 175.7,400.0 174.1,400.1 172.6,400.2 171.0,400.3 169.4,400.3 167.9,400.2 166.3,400.1 164.7,400.1 163.1,400.1 161.6,400.2 160.0,400.4 158.4,400.6 156.9,400.8 155.3,400.9 153.7,401.0 152.1,401.0 150.6,401.0 149.0,401.0 147.4,401.1 145.9,401.3 144.3,401.5 142.7,401.7 141.1,401.9 139.6,402.0 138.0,402.1 136.4,402.1 134.9,402.2 133.3,402.3 131.7,402.4 130.2,402.7 128.6,402.9 127.0,403.2 125.4,403.4 123.9,403.5 122.3,403.5 120.7,403.5 119.2,403.6 117.6,403.7 116.0,403.9 114.4,404.1 112.9,404.4 111.3,404.7 109.7,404.9 108.2,405.0 106.6,405.1 105.0,405.2 103.4,405.3 101.9,405.5 100.3,405.8 98.7,406.1 97.2,406.4 95.6,406.6 94.0,406.8 92.4,407.0 90.9,407.1 89.3,407.2 87.7,407.4 86.2,407.7 84.6,408.1 83.0,408.4 81.4,408.8 79.9,409.1 78.3,409.3 76.7,409.5 75.2,409.7 73.6,409.8 72.0,410.1 70.4,410.4 68.9,410.7 67.3,411.1 65.7,411.4 64.2,411.7 62.6,411.9 61.0,412.1 59.4,412.3 57.9,412.6 56.3,412.9 54.7,413.2 53.2,413.5 51.6,413.8 50.0,414.1 48.4,414.4" fill="rgb(247,148,32)" fill-opacity="0.22"/>
<polygon points="48.4,404.0 50.0,403.7 51.6,403.4 53.2,403.1 54.7,402.8 56.3,402.6 57.9,402.4 59.4,402.1 61.0,401.9 62.6,401.5 64.2,401.1 65.7,400.6 67.3,400.1 68.9,399.7 70.4,399.4 72.0,399.1 73.6,398.9 75.2,398.7 76.7,398.4 78.3,398.1 79.9,397.6 81.4,397.2 83.0,396.7 84.6,396.3 86.2,396.0 87.7,395.7 89.3,395.4 90.9,395.2 92.4,394.9 94.0,394.4 95.6,393.9 97.2,393.4 98.7,392.8 100.3,392.2 101.9,391.7 103.4,391.3 105.0,390.9 106.6,390.6 108.2,390.3 109.7,389.8 111.3,389.3 112.9,388.8 114.4,388.2 116.0,387.6 117.6,387.0 119.2,386.6 120.7,386.1 122.3,385.8 123.9,385.3 125.4,384.9 127.0,384.3 128.6,383.7 130.2,383.1 131.7,382.4 133.3,381.9 134.9,381.3 136.4,380.9 138.0,380.5 139.6,380.1 141.1,379.7 142.7,379.2 144.3,378.6 145.9,377.9 147.4,377.2 149.0,376.5 150.6,375.8 152.1,375.2 153.7,374.7 155.3,374.2 156.9,373.6 158.4,373.0 160.0,372.3 161.6,371.6 163.1,370.8 164.7,370.1 166.3,369.4 167.9,368.8 169.4,368.2 171.0,367.7 172.6,367.2 174.1,366.6 175.7,365.9 177.3,365.2 178.9,364.3 180.4,363.5 182.0,362.7 182.0,391.0 180.4,391.3 178.9,391.7 177.3,392.0 175.7,392.3 174.1,392.6 172.6,393.0 171.0,393.4 169.4,393.8 167.9,394.3 166.3,394.7 164.7,395.1 163.1,395.4 161.6,395.8 160.0,396.1 158.4,396.4 156.9,396.7 155.3,397.0 153.7,397.4 152.1,397.9 150.6,398.4 149.0,399.0 147.4,399.6 145.9,400.1 144.3,400.6 142.7,401.1 141.1,401.5 139.6,401.8 138.0,402.1 136.4,402.3 134.9,402.6 133.3,402.9 131.7,403.2 130.2,403.6 128.6,404.0 127.0,404.3 125.4,404.7 123.9,405.1 122.3,405.4 120.7,405.8 119.2,406.0 117.6,406.3 116.0,406.5 114.4,406.7 112.9,406.9 111.3,407.1 109.7,407.2 108.2,407.4 106.6,407.5 105.0,407.6 103.4,407.8 101.9,407.9 100.3,408.1 98.7,408.4 97.2,408.6 95.6,408.9 94.0,409.2 92.4,409.4 90.9,409.5 89.3,409.6 87.7,409.7 86.2,409.6 84.6,409.6 83.0,409.6 81.4,409.7 79.9,409.8 78.3,410.0 76.7,410.3 75.2,410.6 73.6,410.9 72.0,411.2 70.4,411.5 68.9,411.6 67.3,411.8 65.7,411.9 64.2,411.9 62.6,412.0 61.0,412.2 59.4,412.4 57.9,412.6 56.3,412.9 54.7,413.2 53.2,413.6 51.6,413.9 50.0,414.1 48.4,414.4" fill="rgb(231,29,37)" fill-opacity="0.24"/>
<polygon points="48.4,404.0 50.0,403.6 51.6,403.2 53.2,402.8 54.7,402.4 56.3,402.0 57.9,401.5 59.4,401.1 61.0,400.6 62.6,400.1 64.2,399.7 65.7,399.2 67.3,398.8 68.9,398.4 70.4,397.9 72.0,397.5 73.6,397.0 75.2,396.4 76.7,395.9 78.3,395.3 79.9,394.7 81.4,394.1 83.0,393.5 84.6,392.9 86.2,392.4 87.7,391.9 89.3,391.4 90.9,390.9 92.4,390.5 94.0,390.0 95.6,389.4 97.2,388.8 98.7,388.2 100.3,387.5 101.9,386.8 103.4,386.0 105.0,385.3 106.6,384.5 108.2,383.8 109.7,383.1 111.3,382.4 112.9,381.7 114.4,381.1 116.0,380.5 117.6,379.9 119.2,379.3 120.7,378.7 122.3,378.0 123.9,377.2 125.4,376.5 127.0,375.7 128.6,374.9 130.2,374.0 131.7,373.2 133.3,372.4 134.9,371.7 136.4,370.9 138.0,370.2 139.6,369.5 141.1,368.7 142.7,367.9 144.3,367.1 145.9,366.3 147.4,365.4 149.0,364.5 150.6,363.5 152.1,362.6 153.7,361.6 155.3,360.7 156.9,359.8 158.4,358.9 160.0,358.0 161.6,357.2 163.1,356.4 164.7,355.6 166.3,354.7 167.9,353.9 169.4,353.0 171.0,352.0 172.6,351.1 174.1,350.1 175.7,349.1 177.3,348.0 178.9,347.0 180.4,346.0 182.0,345.0 182.0,392.1 180.4,392.6 178.9,393.0 177.3,393.5 175.7,393.9 174.1,394.2 172.6,394.6 171.0,394.9 169.4,395.3 167.9,395.7 166.3,396.1 164.7,396.6 163.1,397.1 161.6,397.7 160.0,398.3 158.4,398.9 156.9,399.4 155.3,400.0 153.7,400.5 152.1,401.0 150.6,401.6 149.0,402.2 147.4,402.9 145.9,403.6 144.3,404.3 142.7,404.9 141.1,405.4 139.6,405.8 138.0,406.1 136.4,406.4 134.9,406.7 133.3,407.1 131.7,407.6 130.2,408.2 128.6,408.8 127.0,409.3 125.4,409.8 123.9,410.1 122.3,410.3 120.7,410.4 119.2,410.5 117.6,410.6 116.0,410.7 114.4,411.0 112.9,411.2 111.3,411.5 109.7,411.7 108.2,411.8 106.6,411.8 105.0,411.8 103.4,411.8 101.9,411.7 100.3,411.8 98.7,411.8 97.2,411.9 95.6,412.1 94.0,412.2 92.4,412.3 90.9,412.3 89.3,412.3 87.7,412.3 86.2,412.2 84.6,412.0 83.0,411.9 81.4,411.8 79.9,411.8 78.3,411.7 76.7,411.8 75.2,411.9 73.6,412.0 72.0,412.2 70.4,412.3 68.9,412.4 67.3,412.5 65.7,412.5 64.2,412.5 62.6,412.5 61.0,412.6 59.4,412.7 57.9,413.0 56.3,413.2 54.7,413.5 53.2,413.8 51.6,414.0 50.0,414.2 48.4,414.4" fill="rgb(149,27,30)" fill-opacity="0.20"/>
<polyline points="19.0,414.6 20.6,413.8 22.1,413.1 23.7,412.5 25.2,411.9 26.8,411.6 28.3,411.3 29.9,410.8 31.4,410.7 33.0,410.6 34.5,410.5 36.1,410.4 37.6,410.0 39.2,409.9 40.7,410.0 42.3,409.7 43.8,409.5 45.4,409.3 46.9,409.1 48.5,409.0 50.0,408.6" fill="none" stroke="rgb(35,35,35)" stroke-width="1.00" stroke-linejoin="round"/>
<polyline points="48.4,408.6 50.0,408.2 51.6,407.7 53.2,407.2 54.7,406.7 56.3,406.3 57.9,405.8 59.4,405.5 61.0,405.2 62.6,404.9 64.2,404.8 65.7,404.8 67.3,404.7 68.9,404.7 70.4,404.6 72.0,404.4 73.6,404.1 75.2,403.9 76.7,403.6 78.3,403.4 79.9,403.3 81.4,403.3 83.0,403.3 84.6,403.3 86.2,403.3 87.7,403.2 89.3,403.1 90.9,403.0 92.4,403.0 94.0,403.0 95.6,403.1 97.2,403.2 98.7,403.3 100.3,403.4 101.9,403.5 103.4,403.5 105.0,403.4 106.6,403.3 108.2,403.3 109.7,403.2 111.3,403.2 112.9,403.2 114.4,403.2 116.0,403.2 117.6,403.1 119.2,403.0 120.7,402.9 122.3,402.8 123.9,402.7 125.4,402.7 127.0,402.7 128.6,402.7 130.2,402.8 131.7,402.8 133.3,402.8 134.9,402.8 136.4,402.8 138.0,402.8 139.6,402.9 141.1,403.1 142.7,403.2 144.3,403.3 145.9,403.4 147.4,403.3 149.0,403.2 150.6,403.1 152.1,402.9 153.7,402.8 155.3,402.8 156.9,402.9 158.4,403.0 160.0,403.3 161.6,403.5 163.1,403.7 164.7,403.8 166.3,403.9 167.9,404.0 169.4,404.1 171.0,404.2 172.6,404.4 174.1,404.5 175.7,404.7 177.3,404.8 178.9,404.9 180.4,404.9 182.0,405.0" fill="none" stroke="rgb(0,173,207)" stroke-width="0.85" stroke-linejoin="round"/>
<polyline points="48.4,408.6 50.0,408.3 51.6,407.9 53.2,407.6 54.7,407.3 56.3,406.9 57.9,406.5 59.4,406.1 61.0,405.7 62.6,405.3 64.2,405.0 65.7,404.7 67.3,404.3 68.9,404.0 70.4,403.7 72.0,403.4 73.6,403.0 75.2,402.7 76.7,402.5 78.3,402.3 79.9,402.1 81.4,402.0 83.0,401.9 84.6,401.8 86.2,401.6 87.7,401.4 89.3,401.2 90.9,401.1 92.4,400.9 94.0,400.9 95.6,400.9 97.2,400.9 98.7,400.9 100.3,401.0 101.9,401.0 103.4,401.0 105.0,400.9 106.6,400.9 108.2,400.9 109.7,400.8 111.3,400.8 112.9,400.8 114.4,400.8 116.0,400.7 117.6,400.6 119.2,400.4 120.7,400.2 122.3,400.0 123.9,399.9 125.4,399.8 127.0,399.8 128.6,399.8 130.2,399.9 131.7,399.9 133.3,400.0 134.9,400.0 136.4,400.0 138.0,400.0 139.6,400.0 141.1,400.1 142.7,400.1 144.3,400.2 145.9,400.2 147.4,400.3 149.0,400.2 150.6,400.1 152.1,400.0 153.7,400.0 155.3,399.9 156.9,399.9 158.4,400.0 160.0,400.1 161.6,400.2 163.1,400.3 164.7,400.4 166.3,400.5 167.9,400.6 169.4,400.6 171.0,400.7 172.6,400.8 174.1,400.9 175.7,401.0 177.3,401.1 178.9,401.2 180.4,401.2 182.0,401.2" fill="none" stroke="rgb(23,60,102)" stroke-width="0.85" stroke-linejoin="round"/>
<polyline points="48.4,408.6 50.0,408.3 51.6,408.0 53.2,407.7 54.7,407.4 56.3,407.1 57.9,406.8 59.4,406.5 61.0,406.1 62.6,405.8 64.2,405.5 65.7,405.1 67.3,404.8 68.9,404.5 70.4,404.2 72.0,403.9 73.6,403.7 75.2,403.6 76.7,403.4 78.3,403.3 79.9,403.1 81.4,402.9 83.0,402.7 84.6,402.4 86.2,402.1 87.7,401.7 89.3,401.3 90.9,400.9 92.4,400.5 94.0,400.1 95.6,399.8 97.2,399.6 98.7,399.4 100.3,399.2 101.9,399.0 103.4,398.8 105.0,398.7 106.6,398.5 108.2,398.3 109.7,398.1 111.3,397.9 112.9,397.7 114.4,397.6 116.0,397.4 117.6,397.2 119.2,396.9 120.7,396.6 122.3,396.3 123.9,396.0 125.4,395.6 127.0,395.3 128.6,395.0 130.2,394.8 131.7,394.6 133.3,394.5 134.9,394.4 136.4,394.3 138.0,394.2 139.6,394.2 141.1,394.1 142.7,393.9 144.3,393.7 145.9,393.5 147.4,393.3 149.0,393.1 150.6,392.9 152.1,392.7 153.7,392.5 155.3,392.3 156.9,392.2 158.4,392.0 160.0,391.9 161.6,391.7 163.1,391.5 164.7,391.4 166.3,391.2 167.9,391.1 169.4,391.1 171.0,391.0 172.6,391.0 174.1,391.0 175.7,391.0 177.3,390.9 178.9,390.9 180.4,390.8 182.0,390.7" fill="none" stroke="rgb(247,148,32)" stroke-width="0.85" stroke-linejoin="round"/>
<polyline points="48.4,408.6 50.0,408.3 51.6,408.0 53.2,407.7 54.7,407.4 56.3,407.1 57.9,406.8 59.4,406.5 61.0,406.2 62.6,405.9 64.2,405.5 65.7,405.2 67.3,404.9 68.9,404.5 70.4,404.2 72.0,403.8 73.6,403.5 75.2,403.2 76.7,402.9 78.3,402.6 79.9,402.3 81.4,402.0 83.0,401.7 84.6,401.3 86.2,401.0 87.7,400.6 89.3,400.2 90.9,399.9 92.4,399.5 94.0,399.2 95.6,398.8 97.2,398.5 98.7,398.2 100.3,397.9 101.9,397.6 103.4,397.3 105.0,396.9 106.6,396.5 108.2,396.0 109.7,395.5 111.3,395.0 112.9,394.5 114.4,394.1 116.0,393.6 117.6,393.3 119.2,392.9 120.7,392.6 122.3,392.3 123.9,392.1 125.4,391.8 127.0,391.5 128.6,391.2 130.2,390.8 131.7,390.4 133.3,390.0 134.9,389.6 136.4,389.3 138.0,388.9 139.6,388.5 141.1,388.2 142.7,387.8 144.3,387.4 145.9,387.0 147.4,386.5 149.0,386.1 150.6,385.6 152.1,385.1 153.7,384.6 155.3,384.1 156.9,383.7 158.4,383.3 160.0,382.9 161.6,382.5 163.1,382.2 164.7,382.0 166.3,381.8 167.9,381.6 169.4,381.5 171.0,381.4 172.6,381.5 174.1,381.3 175.7,380.9 177.3,380.1 178.9,379.1 180.4,378.0 182.0,376.9" fill="none" stroke="rgb(231,29,37)" stroke-width="0.85" stroke-linejoin="round"/>
<polyline points="48.4,408.6 50.0,408.3 51.6,408.0 53.2,407.7 54.7,407.4 56.3,407.2 57.9,407.0 59.4,406.7 61.0,406.3 62.6,405.9 64.2,405.5 65.7,405.0 67.3,404.5 68.9,404.1 70.4,403.8 72.0,403.5 73.6,403.2 75.2,403.0 76.7,402.7 78.3,402.4 79.9,402.1 81.4,401.7 83.0,401.3 84.6,400.9 86.2,400.5 87.7,400.1 89.3,399.7 90.9,399.4 92.4,399.0 94.0,398.7 95.6,398.3 97.2,397.9 98.7,397.4 100.3,397.0 101.9,396.5 103.4,396.1 105.0,395.7 106.6,395.4 108.2,395.0 109.7,394.6 111.3,394.2 112.9,393.8 114.4,393.3 116.0,392.8 117.6,392.2 119.2,391.7 120.7,391.2 122.3,390.7 123.9,390.3 125.4,389.9 127.0,389.6 128.6,389.2 130.2,388.8 131.7,388.3 133.3,387.8 134.9,387.3 136.4,386.8 138.0,386.3 139.6,385.8 141.1,385.3 142.7,384.9 144.3,384.4 145.9,384.0 147.4,383.5 149.0,383.0 150.6,382.4 152.1,381.8 153.7,381.2 155.3,380.6 156.9,380.0 158.4,379.5 160.0,379.0 161.6,378.6 163.1,378.1 164.7,377.7 166.3,377.2 167.9,376.7 169.4,376.1 171.0,375.4 172.6,374.7 174.1,374.0 175.7,373.4 177.3,372.8 178.9,372.3 180.4,371.8 182.0,371.4" fill="none" stroke="rgb(149,27,30)" stroke-width="0.85" stroke-linejoin="round"/>
<rect x="41.0" y="437.05" width="4.6" height="1.5" fill="rgb(35,35,35)" fill-opacity="0.3"/>
<line x1="41.0" y1="437.80" x2="45.6" y2="437.80" stroke="rgb(35,35,35)" stroke-width="0.6"/>
<text class="lg" x="47.2" y="438.85" textLength="47.0" lengthAdjust="spacingAndGlyphs">Hist. Ref. Per., 1995-2014</text>
<rect x="41.0" y="441.65" width="4.6" height="1.5" fill="rgb(23,60,102)" fill-opacity="0.3"/>
<line x1="41.0" y1="442.40" x2="45.6" y2="442.40" stroke="rgb(23,60,102)" stroke-width="0.6"/>
<text class="lg" x="47.2" y="443.45" textLength="16.4" lengthAdjust="spacingAndGlyphs">SSP1-2.6</text>
<rect x="41.0" y="446.25" width="4.6" height="1.5" fill="rgb(231,29,37)" fill-opacity="0.3"/>
<line x1="41.0" y1="447.00" x2="45.6" y2="447.00" stroke="rgb(231,29,37)" stroke-width="0.6"/>
<text class="lg" x="47.2" y="448.05" textLength="16.4" lengthAdjust="spacingAndGlyphs">SSP3-7.0</text>
<rect x="99.5" y="437.05" width="4.6" height="1.5" fill="rgb(0,173,207)" fill-opacity="0.3"/>
<line x1="99.5" y1="437.80" x2="104.1" y2="437.80" stroke="rgb(0,173,207)" stroke-width="0.6"/>
<text class="lg" x="105.7" y="438.85" textLength="16.4" lengthAdjust="spacingAndGlyphs">SSP1-1.9</text>
<rect x="99.5" y="441.65" width="4.6" height="1.5" fill="rgb(247,148,32)" fill-opacity="0.3"/>
<line x1="99.5" y1="442.40" x2="104.1" y2="442.40" stroke="rgb(247,148,32)" stroke-width="0.6"/>
<text class="lg" x="105.7" y="443.45" textLength="16.4" lengthAdjust="spacingAndGlyphs">SSP2-4.5</text>
<rect x="99.5" y="446.25" width="4.6" height="1.5" fill="rgb(149,27,30)" fill-opacity="0.3"/>
<line x1="99.5" y1="447.00" x2="104.1" y2="447.00" stroke="rgb(149,27,30)" stroke-width="0.6"/>
<text class="lg" x="105.7" y="448.05" textLength="16.4" lengthAdjust="spacingAndGlyphs">SSP5-8.5</text>
</g>
<g>
<text class="t" x="261.5" y="322.0">Democratic Republic of Congo</text>
<line class="g" x1="197.7" y1="331.60" x2="363.0" y2="331.60"/>
<text class="yl" x="193.0" y="333.20">34</text>
<line class="g" x1="197.7" y1="346.93" x2="363.0" y2="346.93"/>
<text class="yl" x="193.0" y="348.53">32</text>
<line class="g" x1="197.7" y1="362.27" x2="363.0" y2="362.27"/>
<text class="yl" x="193.0" y="363.87">30</text>
<line class="g" x1="197.7" y1="377.60" x2="363.0" y2="377.60"/>
<text class="yl" x="193.0" y="379.20">28</text>
<line class="g" x1="197.7" y1="392.93" x2="363.0" y2="392.93"/>
<text class="yl" x="193.0" y="394.53">26</text>
<line class="g" x1="197.7" y1="408.27" x2="363.0" y2="408.27"/>
<text class="yl" x="193.0" y="409.87">24</text>
<line class="g" x1="197.7" y1="423.60" x2="363.0" y2="423.60"/>
<text class="yl" x="193.0" y="425.20">22</text>
<text class="xl" x="205.8" y="429.60">2000</text>
<text class="xl" x="236.4" y="429.60">2020</text>
<text class="xl" x="267.1" y="429.60">2040</text>
<text class="xl" x="297.9" y="429.60">2060</text>
<text class="xl" x="328.6" y="429.60">2080</text>
<text class="xl" x="357.8" y="429.60">2100</text>
<polygon points="198.0,405.1 199.6,404.4 201.1,403.8 202.7,403.4 204.2,403.0 205.8,402.6 207.3,402.2 208.9,402.0 210.5,401.8 212.0,401.7 213.6,401.6 215.1,401.3 216.7,401.4 218.2,401.4 219.8,401.0 221.4,401.0 222.9,400.8 224.5,400.6 226.0,400.5 227.6,400.1 229.1,399.9 229.1,405.5 227.6,405.7 226.0,406.1 224.5,406.2 222.9,406.4 221.4,406.6 219.8,406.6 218.2,407.0 216.7,407.0 215.1,406.9 213.6,407.2 212.0,407.3 210.5,407.4 208.9,407.6 207.3,407.8 205.8,408.2 204.2,408.6 202.7,409.0 201.1,409.4 199.6,410.0 198.0,410.7" fill="rgb(30,30,30)" fill-opacity="0.17"/>
<polygon points="227.5,403.2 229.1,402.8 230.7,402.3 232.3,402.0 233.8,401.7 235.4,401.5 237.0,401.4 238.6,401.3 240.2,401.2 241.7,401.1 243.3,400.8 244.9,400.4 246.5,399.9 248.0,399.5 249.6,399.0 251.2,398.7 252.8,398.6 254.3,398.5 255.9,398.5 257.5,398.6 259.1,398.7 260.6,398.7 262.2,398.7 263.8,398.6 265.4,398.5 266.9,398.5 268.5,398.5 270.1,398.5 271.7,398.6 273.2,398.6 274.8,398.6 276.4,398.5 278.0,398.3 279.5,398.0 281.1,397.7 282.7,397.4 284.3,397.2 285.9,397.2 287.4,397.2 289.0,397.4 290.6,397.6 292.2,397.8 293.7,397.9 295.3,397.9 296.9,397.8 298.5,397.6 300.0,397.4 301.6,397.3 303.2,397.1 304.8,397.1 306.3,397.0 307.9,397.0 309.5,397.0 311.1,396.9 312.6,396.8 314.2,396.6 315.8,396.5 317.4,396.5 318.9,396.5 320.5,396.6 322.1,396.7 323.7,396.7 325.3,396.8 326.8,396.7 328.4,396.6 330.0,396.5 331.6,396.3 333.1,396.3 334.7,396.3 336.3,396.4 337.9,396.6 339.4,396.8 341.0,397.0 342.6,397.1 344.2,397.0 345.7,396.9 347.3,396.7 348.9,396.5 350.5,396.4 352.0,396.3 353.6,396.3 355.2,396.4 356.8,396.5 358.3,396.8 359.9,397.0 361.5,397.2 361.5,405.7 359.9,405.4 358.3,405.0 356.8,404.8 355.2,404.6 353.6,404.6 352.0,404.6 350.5,404.6 348.9,404.7 347.3,404.8 345.7,404.7 344.2,404.7 342.6,404.5 341.0,404.4 339.4,404.2 337.9,404.1 336.3,404.0 334.7,404.0 333.1,404.0 331.6,404.0 330.0,404.0 328.4,404.0 326.8,404.0 325.3,403.9 323.7,403.8 322.1,403.7 320.5,403.6 318.9,403.5 317.4,403.4 315.8,403.4 314.2,403.5 312.6,403.6 311.1,403.8 309.5,404.0 307.9,404.1 306.3,404.1 304.8,404.0 303.2,403.8 301.6,403.6 300.0,403.4 298.5,403.2 296.9,403.2 295.3,403.3 293.7,403.4 292.2,403.6 290.6,403.8 289.0,403.9 287.4,403.9 285.9,403.8 284.3,403.6 282.7,403.5 281.1,403.3 279.5,403.2 278.0,403.2 276.4,403.1 274.8,403.1 273.2,403.0 271.7,403.0 270.1,402.9 268.5,402.8 266.9,402.8 265.4,402.8 263.8,402.9 262.2,403.0 260.6,403.1 259.1,403.2 257.5,403.3 255.9,403.3 254.3,403.3 252.8,403.3 251.2,403.5 249.6,403.8 248.0,404.2 246.5,404.7 244.9,405.2 243.3,405.6 241.7,405.9 240.2,406.1 238.6,406.3 237.0,406.6 235.4,406.9 233.8,407.3 232.3,407.8 230.7,408.3 229.1,408.8 227.5,409.2" fill="rgb(0,173,207)" fill-opacity="0.20"/>
<polygon points="227.5,400.2 229.1,399.8 230.7,399.4 232.3,399.0 233.8,398.6 235.4,398.3 237.0,398.0 238.6,397.7 240.2,397.5 241.7,397.3 243.3,397.1 244.9,397.0 246.5,396.7 248.0,396.5 249.6,396.1 251.2,395.7 252.8,395.2 254.3,394.8 255.9,394.4 257.5,394.1 259.1,394.0 260.6,394.0 262.2,394.1 263.8,394.1 265.4,394.1 266.9,394.0 268.5,393.8 270.1,393.5 271.7,393.3 273.2,393.0 274.8,392.9 276.4,392.9 278.0,393.0 279.5,393.1 281.1,393.2 282.7,393.2 284.3,393.0 285.9,392.8 287.4,392.5 289.0,392.2 290.6,392.0 292.2,392.0 293.7,392.1 295.3,392.2 296.9,392.4 298.5,392.5 300.0,392.5 301.6,392.4 303.2,392.2 304.8,392.0 306.3,391.8 307.9,391.7 309.5,391.6 311.1,391.6 312.6,391.6 314.2,391.7 315.8,391.8 317.4,391.8 318.9,391.9 320.5,391.9 322.1,391.9 323.7,391.8 325.3,391.8 326.8,391.6 328.4,391.5 330.0,391.3 331.6,391.3 333.1,391.3 334.7,391.5 336.3,391.7 337.9,391.9 339.4,392.1 341.0,392.2 342.6,392.2 344.2,392.0 345.7,391.7 347.3,391.3 348.9,391.1 350.5,391.1 352.0,391.3 353.6,391.7 355.2,392.1 356.8,392.6 358.3,392.9 359.9,393.0 361.5,392.8 361.5,401.5 359.9,401.5 358.3,401.4 356.8,401.2 355.2,400.9 353.6,400.5 352.0,400.2 350.5,400.0 348.9,400.0 347.3,400.2 345.7,400.5 344.2,400.9 342.6,401.3 341.0,401.5 339.4,401.4 337.9,401.1 336.3,400.6 334.7,400.1 333.1,399.6 331.6,399.3 330.0,399.2 328.4,399.2 326.8,399.4 325.3,399.6 323.7,399.8 322.1,399.9 320.5,399.9 318.9,399.8 317.4,399.6 315.8,399.6 314.2,399.5 312.6,399.6 311.1,399.7 309.5,399.9 307.9,400.0 306.3,400.0 304.8,400.0 303.2,399.9 301.6,399.8 300.0,399.7 298.5,399.6 296.9,399.6 295.3,399.7 293.7,399.9 292.2,400.0 290.6,400.2 289.0,400.4 287.4,400.5 285.9,400.6 284.3,400.6 282.7,400.6 281.1,400.5 279.5,400.3 278.0,400.2 276.4,400.1 274.8,400.0 273.2,400.0 271.7,400.1 270.1,400.4 268.5,400.7 266.9,401.0 265.4,401.2 263.8,401.4 262.2,401.4 260.6,401.3 259.1,401.2 257.5,401.1 255.9,401.2 254.3,401.3 252.8,401.6 251.2,401.9 249.6,402.3 248.0,402.7 246.5,403.0 244.9,403.1 243.3,403.2 241.7,403.3 240.2,403.5 238.6,403.7 237.0,404.1 235.4,404.5 233.8,405.0 232.3,405.3 230.7,405.7 229.1,406.0 227.5,406.2" fill="rgb(23,60,102)" fill-opacity="0.20"/>
<polygon points="227.5,399.0 229.1,398.8 230.7,398.6 232.3,398.3 233.8,398.1 235.4,397.8 237.0,397.5 238.6,397.3 240.2,397.1 241.7,397.0 243.3,397.0 244.9,397.0 246.5,396.9 248.0,396.7 249.6,396.5 251.2,396.1 252.8,395.8 254.3,395.5 255.9,395.1 257.5,394.9 259.1,394.7 260.6,394.5 262.2,394.3 263.8,394.2 265.4,394.0 266.9,393.8 268.5,393.6 270.1,393.4 271.7,393.3 273.2,393.1 274.8,393.0 276.4,393.0 278.0,392.9 279.5,392.7 281.1,392.5 282.7,392.3 284.3,391.9 285.9,391.6 287.4,391.3 289.0,391.0 290.6,390.8 292.2,390.7 293.7,390.6 295.3,390.6 296.9,390.5 298.5,390.4 300.0,390.3 301.6,390.1 303.2,389.9 304.8,389.6 306.3,389.3 307.9,389.1 309.5,389.0 311.1,388.8 312.6,388.8 314.2,388.7 315.8,388.6 317.4,388.4 318.9,388.3 320.5,388.1 322.1,387.9 323.7,387.7 325.3,387.5 326.8,387.4 328.4,387.3 330.0,387.2 331.6,387.0 333.1,386.9 334.7,386.7 336.3,386.5 337.9,386.3 339.4,386.1 341.0,386.0 342.6,385.9 344.2,385.9 345.7,385.9 347.3,386.0 348.9,386.0 350.5,386.0 352.0,385.8 353.6,385.6 355.2,385.4 356.8,385.1 358.3,384.9 359.9,384.7 361.5,384.6 361.5,394.1 359.9,394.1 358.3,394.1 356.8,394.1 355.2,394.1 353.6,394.2 352.0,394.2 350.5,394.3 348.9,394.4 347.3,394.5 345.7,394.6 344.2,394.7 342.6,394.7 341.0,394.7 339.4,394.7 337.9,394.6 336.3,394.6 334.7,394.5 333.1,394.5 331.6,394.5 330.0,394.6 328.4,394.8 326.8,395.0 325.3,395.2 323.7,395.4 322.1,395.5 320.5,395.7 318.9,395.8 317.4,395.8 315.8,395.9 314.2,396.0 312.6,396.1 311.1,396.2 309.5,396.4 307.9,396.6 306.3,396.8 304.8,397.0 303.2,397.1 301.6,397.3 300.0,397.4 298.5,397.5 296.9,397.7 295.3,397.8 293.7,398.0 292.2,398.2 290.6,398.4 289.0,398.6 287.4,398.8 285.9,399.0 284.3,399.2 282.7,399.3 281.1,399.4 279.5,399.6 278.0,399.7 276.4,399.9 274.8,400.1 273.2,400.4 271.7,400.7 270.1,401.0 268.5,401.3 266.9,401.6 265.4,401.8 263.8,402.0 262.2,402.1 260.6,402.2 259.1,402.3 257.5,402.4 255.9,402.5 254.3,402.7 252.8,403.0 251.2,403.3 249.6,403.6 248.0,403.9 246.5,404.2 244.9,404.5 243.3,404.8 241.7,405.1 240.2,405.3 238.6,405.6 237.0,405.9 235.4,406.2 233.8,406.5 232.3,406.8 230.7,407.1 229.1,407.3 227.5,407.6" fill="rgb(247,148,32)" fill-opacity="0.22"/>
<polygon points="227.5,399.0 229.1,398.8 230.7,398.5 232.3,398.3 233.8,398.1 235.4,397.9 237.0,397.7 238.6,397.5 240.2,397.2 241.7,397.0 243.3,396.6 244.9,396.2 246.5,395.8 248.0,395.4 249.6,395.0 251.2,394.6 252.8,394.3 254.3,393.9 255.9,393.6 257.5,393.3 259.1,393.0 260.6,392.7 262.2,392.4 263.8,392.1 265.4,391.7 266.9,391.4 268.5,391.0 270.1,390.7 271.7,390.4 273.2,390.1 274.8,389.8 276.4,389.4 278.0,389.1 279.5,388.7 281.1,388.3 282.7,387.9 284.3,387.4 285.9,387.0 287.4,386.5 289.0,386.0 290.6,385.6 292.2,385.1 293.7,384.7 295.3,384.3 296.9,384.0 298.5,383.6 300.0,383.1 301.6,382.7 303.2,382.2 304.8,381.7 306.3,381.2 307.9,380.6 309.5,380.1 311.1,379.6 312.6,379.1 314.2,378.6 315.8,378.1 317.4,377.7 318.9,377.2 320.5,376.7 322.1,376.2 323.7,375.7 325.3,375.2 326.8,374.6 328.4,374.1 330.0,373.6 331.6,373.1 333.1,372.6 334.7,372.1 336.3,371.7 337.9,371.2 339.4,370.7 341.0,370.1 342.6,369.6 344.2,368.9 345.7,368.2 347.3,367.5 348.9,366.8 350.5,366.1 352.0,365.5 353.6,364.8 355.2,364.2 356.8,363.6 358.3,363.0 359.9,362.4 361.5,361.8 361.5,387.0 359.9,387.0 358.3,387.0 356.8,387.0 355.2,387.1 353.6,387.3 352.0,387.6 350.5,388.0 348.9,388.5 347.3,388.9 345.7,389.2 344.2,389.5 342.6,389.6 341.0,389.6 339.4,389.7 337.9,389.8 336.3,389.9 334.7,390.2 333.1,390.5 331.6,390.9 330.0,391.3 328.4,391.6 326.8,391.8 325.3,392.0 323.7,392.2 322.1,392.3 320.5,392.5 318.9,392.7 317.4,393.0 315.8,393.2 314.2,393.5 312.6,393.8 311.1,394.0 309.5,394.3 307.9,394.5 306.3,394.7 304.8,395.0 303.2,395.2 301.6,395.5 300.0,395.7 298.5,396.0 296.9,396.3 295.3,396.5 293.7,396.7 292.2,396.9 290.6,397.2 289.0,397.4 287.4,397.7 285.9,397.9 284.3,398.2 282.7,398.4 281.1,398.7 279.5,398.9 278.0,399.2 276.4,399.4 274.8,399.7 273.2,400.0 271.7,400.3 270.1,400.6 268.5,400.8 266.9,401.0 265.4,401.2 263.8,401.3 262.2,401.5 260.6,401.8 259.1,402.1 257.5,402.5 255.9,402.9 254.3,403.3 252.8,403.7 251.2,403.9 249.6,404.1 248.0,404.1 246.5,404.2 244.9,404.3 243.3,404.5 241.7,404.9 240.2,405.3 238.6,405.7 237.0,406.1 235.4,406.4 233.8,406.7 232.3,406.9 230.7,407.1 229.1,407.3 227.5,407.6" fill="rgb(231,29,37)" fill-opacity="0.24"/>
<polygon points="227.5,399.0 229.1,398.7 230.7,398.3 232.3,397.9 233.8,397.6 235.4,397.3 237.0,397.0 238.6,396.7 240.2,396.4 241.7,396.0 243.3,395.5 244.9,395.0 246.5,394.5 248.0,394.0 249.6,393.6 251.2,393.3 252.8,393.0 254.3,392.7 255.9,392.4 257.5,392.0 259.1,391.6 260.6,391.1 262.2,390.5 263.8,390.0 265.4,389.5 266.9,389.1 268.5,388.7 270.1,388.4 271.7,388.0 273.2,387.6 274.8,387.1 276.4,386.6 278.0,386.0 279.5,385.4 281.1,384.8 282.7,384.2 284.3,383.6 285.9,383.1 287.4,382.7 289.0,382.2 290.6,381.7 292.2,381.1 293.7,380.5 295.3,379.9 296.9,379.2 298.5,378.6 300.0,378.0 301.6,377.4 303.2,376.8 304.8,376.3 306.3,375.7 307.9,375.0 309.5,374.3 311.1,373.6 312.6,372.9 314.2,372.1 315.8,371.5 317.4,370.9 318.9,370.4 320.5,369.9 322.1,369.4 323.7,368.9 325.3,368.3 326.8,367.5 328.4,366.7 330.0,365.9 331.6,365.0 333.1,364.2 334.7,363.4 336.3,362.8 337.9,362.2 339.4,361.6 341.0,361.0 342.6,360.4 344.2,359.7 345.7,358.9 347.3,358.1 348.9,357.2 350.5,356.3 352.0,355.5 353.6,354.7 355.2,353.8 356.8,353.0 358.3,352.2 359.9,351.3 361.5,350.4 361.5,381.9 359.9,382.2 358.3,382.4 356.8,382.5 355.2,382.7 353.6,382.8 352.0,383.0 350.5,383.2 348.9,383.5 347.3,383.8 345.7,384.1 344.2,384.5 342.6,384.8 341.0,385.2 339.4,385.5 337.9,385.8 336.3,386.1 334.7,386.4 333.1,386.6 331.6,386.8 330.0,386.9 328.4,387.1 326.8,387.3 325.3,387.7 323.7,388.1 322.1,388.6 320.5,389.1 318.9,389.6 317.4,390.0 315.8,390.3 314.2,390.5 312.6,390.6 311.1,390.6 309.5,390.8 307.9,391.0 306.3,391.3 304.8,391.8 303.2,392.3 301.6,392.8 300.0,393.2 298.5,393.6 296.9,393.8 295.3,394.0 293.7,394.1 292.2,394.3 290.6,394.5 289.0,394.7 287.4,395.0 285.9,395.4 284.3,395.8 282.7,396.1 281.1,396.5 279.5,396.8 278.0,397.1 276.4,397.5 274.8,397.8 273.2,398.1 271.7,398.4 270.1,398.7 268.5,399.0 266.9,399.2 265.4,399.5 263.8,399.8 262.2,400.1 260.6,400.5 259.1,401.0 257.5,401.5 255.9,401.9 254.3,402.3 252.8,402.6 251.2,402.9 249.6,403.1 248.0,403.3 246.5,403.5 244.9,403.8 243.3,404.2 241.7,404.6 240.2,405.0 238.6,405.4 237.0,405.7 235.4,406.0 233.8,406.3 232.3,406.6 230.7,406.9 229.1,407.3 227.5,407.6" fill="rgb(149,27,30)" fill-opacity="0.20"/>
<polyline points="198.0,408.1 199.6,407.4 201.1,406.8 202.7,406.4 204.2,406.0 205.8,405.6 207.3,405.2 208.9,405.0 210.5,404.8 212.0,404.7 213.6,404.6 215.1,404.3 216.7,404.4 218.2,404.4 219.8,404.0 221.4,404.0 222.9,403.8 224.5,403.6 226.0,403.5 227.6,403.1 229.1,402.9" fill="none" stroke="rgb(35,35,35)" stroke-width="1.00" stroke-linejoin="round"/>
<polyline points="227.5,403.0 229.1,402.7 230.7,402.4 232.3,402.0 233.8,401.7 235.4,401.4 237.0,401.2 238.6,401.0 240.2,400.9 241.7,400.8 243.3,400.7 244.9,400.6 246.5,400.5 248.0,400.3 249.6,400.1 251.2,399.9 252.8,399.7 254.3,399.6 255.9,399.5 257.5,399.5 259.1,399.5 260.6,399.4 262.2,399.4 263.8,399.4 265.4,399.4 266.9,399.4 268.5,399.5 270.1,399.6 271.7,399.7 273.2,399.8 274.8,399.8 276.4,399.6 278.0,399.5 279.5,399.2 281.1,399.0 282.7,398.9 284.3,398.9 285.9,399.1 287.4,399.3 289.0,399.6 290.6,399.8 292.2,399.9 293.7,399.9 295.3,399.7 296.9,399.4 298.5,399.2 300.0,398.9 301.6,398.8 303.2,398.8 304.8,398.9 306.3,399.1 307.9,399.4 309.5,399.5 311.1,399.5 312.6,399.4 314.2,399.3 315.8,399.1 317.4,398.9 318.9,398.8 320.5,398.9 322.1,399.0 323.7,399.2 325.3,399.3 326.8,399.5 328.4,399.6 330.0,399.5 331.6,399.5 333.1,399.4 334.7,399.4 336.3,399.3 337.9,399.4 339.4,399.4 341.0,399.5 342.6,399.6 344.2,399.7 345.7,399.8 347.3,399.9 348.9,400.0 350.5,400.1 352.0,400.2 353.6,400.3 355.2,400.4 356.8,400.5 358.3,400.6 359.9,400.6 361.5,400.6" fill="none" stroke="rgb(0,173,207)" stroke-width="0.85" stroke-linejoin="round"/>
<polyline points="227.5,403.0 229.1,402.7 230.7,402.4 232.3,402.0 233.8,401.7 235.4,401.3 237.0,400.9 238.6,400.5 240.2,400.2 241.7,400.0 243.3,399.9 244.9,399.8 246.5,399.7 248.0,399.5 249.6,399.1 251.2,398.8 252.8,398.4 254.3,398.0 255.9,397.8 257.5,397.6 259.1,397.6 260.6,397.6 262.2,397.6 263.8,397.6 265.4,397.5 266.9,397.4 268.5,397.3 270.1,397.1 271.7,396.9 273.2,396.7 274.8,396.6 276.4,396.4 278.0,396.3 279.5,396.2 281.1,396.2 282.7,396.2 284.3,396.2 285.9,396.2 287.4,396.3 289.0,396.4 290.6,396.4 292.2,396.4 293.7,396.3 295.3,396.1 296.9,396.0 298.5,395.9 300.0,395.8 301.6,395.8 303.2,395.9 304.8,395.9 306.3,396.0 307.9,396.0 309.5,396.0 311.1,395.9 312.6,395.8 314.2,395.7 315.8,395.7 317.4,395.7 318.9,395.8 320.5,395.9 322.1,395.9 323.7,395.9 325.3,395.8 326.8,395.6 328.4,395.5 330.0,395.4 331.6,395.4 333.1,395.6 334.7,395.9 336.3,396.2 337.9,396.5 339.4,396.6 341.0,396.6 342.6,396.5 344.2,396.3 345.7,396.1 347.3,395.9 348.9,395.9 350.5,396.0 352.0,396.2 353.6,396.4 355.2,396.6 356.8,396.7 358.3,396.8 359.9,396.7 361.5,396.6" fill="none" stroke="rgb(23,60,102)" stroke-width="0.85" stroke-linejoin="round"/>
<polyline points="227.5,403.0 229.1,402.8 230.7,402.5 232.3,402.3 233.8,402.1 235.4,401.9 237.0,401.6 238.6,401.4 240.2,401.1 241.7,400.8 243.3,400.4 244.9,400.2 246.5,399.9 248.0,399.7 249.6,399.6 251.2,399.4 252.8,399.2 254.3,399.1 255.9,398.9 257.5,398.6 259.1,398.4 260.6,398.2 262.2,398.0 263.8,397.8 265.4,397.6 266.9,397.4 268.5,397.2 270.1,397.0 271.7,396.8 273.2,396.5 274.8,396.2 276.4,395.9 278.0,395.7 279.5,395.4 281.1,395.3 282.7,395.1 284.3,395.0 285.9,395.0 287.4,394.9 289.0,394.8 290.6,394.6 292.2,394.4 293.7,394.1 295.3,393.9 296.9,393.6 298.5,393.3 300.0,393.1 301.6,392.9 303.2,392.7 304.8,392.6 306.3,392.4 307.9,392.3 309.5,392.1 311.1,392.0 312.6,391.8 314.2,391.7 315.8,391.5 317.4,391.5 318.9,391.4 320.5,391.4 322.1,391.3 323.7,391.2 325.3,391.1 326.8,390.9 328.4,390.7 330.0,390.5 331.6,390.2 333.1,390.0 334.7,389.8 336.3,389.7 337.9,389.6 339.4,389.5 341.0,389.5 342.6,389.4 344.2,389.4 345.7,389.3 347.3,389.1 348.9,389.0 350.5,388.9 352.0,388.7 353.6,388.7 355.2,388.6 356.8,388.6 358.3,388.6 359.9,388.6 361.5,388.7" fill="none" stroke="rgb(247,148,32)" stroke-width="0.85" stroke-linejoin="round"/>
<polyline points="227.5,403.0 229.1,402.7 230.7,402.4 232.3,402.1 233.8,401.8 235.4,401.6 237.0,401.4 238.6,401.2 240.2,401.0 241.7,400.7 243.3,400.4 244.9,400.0 246.5,399.5 248.0,399.2 249.6,398.9 251.2,398.8 252.8,398.7 254.3,398.6 255.9,398.4 257.5,398.1 259.1,397.7 260.6,397.3 262.2,396.8 263.8,396.4 265.4,396.0 266.9,395.8 268.5,395.6 270.1,395.4 271.7,395.2 273.2,394.9 274.8,394.5 276.4,394.0 278.0,393.6 279.5,393.1 281.1,392.7 282.7,392.4 284.3,392.2 285.9,392.0 287.4,391.8 289.0,391.5 290.6,391.1 292.2,390.7 293.7,390.3 295.3,389.9 296.9,389.5 298.5,389.2 300.0,389.0 301.6,388.8 303.2,388.5 304.8,388.3 306.3,387.9 307.9,387.6 309.5,387.1 311.1,386.7 312.6,386.4 314.2,386.1 315.8,385.8 317.4,385.5 318.9,385.2 320.5,384.9 322.1,384.5 323.7,384.1 325.3,383.6 326.8,383.2 328.4,382.7 330.0,382.4 331.6,382.0 333.1,381.7 334.7,381.4 336.3,381.0 337.9,380.6 339.4,380.3 341.0,379.9 342.6,379.6 344.2,379.4 345.7,379.2 347.3,379.1 348.9,378.9 350.5,378.9 352.0,378.8 353.6,378.5 355.2,378.0 356.8,377.2 358.3,376.3 359.9,375.4 361.5,374.6" fill="none" stroke="rgb(231,29,37)" stroke-width="0.85" stroke-linejoin="round"/>
<polyline points="227.5,403.0 229.1,402.7 230.7,402.4 232.3,402.2 233.8,401.9 235.4,401.6 237.0,401.3 238.6,401.1 240.2,400.9 241.7,400.6 243.3,400.4 244.9,400.2 246.5,399.9 248.0,399.5 249.6,399.2 251.2,398.9 252.8,398.5 254.3,398.2 255.9,397.8 257.5,397.5 259.1,397.2 260.6,396.9 262.2,396.6 263.8,396.3 265.4,395.9 266.9,395.6 268.5,395.2 270.1,394.9 271.7,394.5 273.2,394.1 274.8,393.8 276.4,393.4 278.0,393.1 279.5,392.8 281.1,392.5 282.7,392.2 284.3,391.9 285.9,391.6 287.4,391.3 289.0,390.9 290.6,390.6 292.2,390.2 293.7,389.7 295.3,389.3 296.9,388.8 298.5,388.4 300.0,387.9 301.6,387.5 303.2,387.1 304.8,386.7 306.3,386.3 307.9,386.0 309.5,385.6 311.1,385.2 312.6,384.8 314.2,384.4 315.8,384.0 317.4,383.5 318.9,383.1 320.5,382.6 322.1,382.2 323.7,381.8 325.3,381.4 326.8,381.0 328.4,380.6 330.0,380.2 331.6,379.8 333.1,379.4 334.7,378.9 336.3,378.5 337.9,378.0 339.4,377.4 341.0,376.9 342.6,376.4 344.2,375.9 345.7,375.3 347.3,374.9 348.9,374.4 350.5,373.9 352.0,373.5 353.6,373.0 355.2,372.6 356.8,372.1 358.3,371.6 359.9,371.1 361.5,370.6" fill="none" stroke="rgb(149,27,30)" stroke-width="0.85" stroke-linejoin="round"/>
<rect x="220.0" y="437.05" width="4.6" height="1.5" fill="rgb(35,35,35)" fill-opacity="0.3"/>
<line x1="220.0" y1="437.80" x2="224.6" y2="437.80" stroke="rgb(35,35,35)" stroke-width="0.6"/>
<text class="lg" x="226.2" y="438.85" textLength="47.0" lengthAdjust="spacingAndGlyphs">Hist. Ref. Per., 1995-2014</text>
<rect x="220.0" y="441.65" width="4.6" height="1.5" fill="rgb(23,60,102)" fill-opacity="0.3"/>
<line x1="220.0" y1="442.40" x2="224.6" y2="442.40" stroke="rgb(23,60,102)" stroke-width="0.6"/>
<text class="lg" x="226.2" y="443.45" textLength="16.4" lengthAdjust="spacingAndGlyphs">SSP1-2.6</text>
<rect x="220.0" y="446.25" width="4.6" height="1.5" fill="rgb(231,29,37)" fill-opacity="0.3"/>
<line x1="220.0" y1="447.00" x2="224.6" y2="447.00" stroke="rgb(231,29,37)" stroke-width="0.6"/>
<text class="lg" x="226.2" y="448.05" textLength="16.4" lengthAdjust="spacingAndGlyphs">SSP3-7.0</text>
<rect x="278.5" y="437.05" width="4.6" height="1.5" fill="rgb(0,173,207)" fill-opacity="0.3"/>
<line x1="278.5" y1="437.80" x2="283.1" y2="437.80" stroke="rgb(0,173,207)" stroke-width="0.6"/>
<text class="lg" x="284.7" y="438.85" textLength="16.4" lengthAdjust="spacingAndGlyphs">SSP1-1.9</text>
<rect x="278.5" y="441.65" width="4.6" height="1.5" fill="rgb(247,148,32)" fill-opacity="0.3"/>
<line x1="278.5" y1="442.40" x2="283.1" y2="442.40" stroke="rgb(247,148,32)" stroke-width="0.6"/>
<text class="lg" x="284.7" y="443.45" textLength="16.4" lengthAdjust="spacingAndGlyphs">SSP2-4.5</text>
<rect x="278.5" y="446.25" width="4.6" height="1.5" fill="rgb(149,27,30)" fill-opacity="0.3"/>
<line x1="278.5" y1="447.00" x2="283.1" y2="447.00" stroke="rgb(149,27,30)" stroke-width="0.6"/>
<text class="lg" x="284.7" y="448.05" textLength="16.4" lengthAdjust="spacingAndGlyphs">SSP5-8.5</text>
</g>
<g>
<text class="t" x="457.5" y="322.0">Sao Tome and Principe</text>
<line class="g" x1="377.2" y1="326.20" x2="542.0" y2="326.20"/>
<text class="yl" x="372.5" y="327.80">31</text>
<line class="g" x1="377.2" y1="340.11" x2="542.0" y2="340.11"/>
<text class="yl" x="372.5" y="341.71">30</text>
<line class="g" x1="377.2" y1="354.03" x2="542.0" y2="354.03"/>
<text class="yl" x="372.5" y="355.63">29</text>
<line class="g" x1="377.2" y1="367.94" x2="542.0" y2="367.94"/>
<text class="yl" x="372.5" y="369.54">28</text>
<line class="g" x1="377.2" y1="381.86" x2="542.0" y2="381.86"/>
<text class="yl" x="372.5" y="383.46">27</text>
<line class="g" x1="377.2" y1="395.77" x2="542.0" y2="395.77"/>
<text class="yl" x="372.5" y="397.37">26</text>
<line class="g" x1="377.2" y1="409.69" x2="542.0" y2="409.69"/>
<text class="yl" x="372.5" y="411.29">25</text>
<line class="g" x1="377.2" y1="423.60" x2="542.0" y2="423.60"/>
<text class="yl" x="372.5" y="425.20">24</text>
<text class="xl" x="385.2" y="429.60">2000</text>
<text class="xl" x="415.9" y="429.60">2020</text>
<text class="xl" x="446.6" y="429.60">2040</text>
<text class="xl" x="477.4" y="429.60">2060</text>
<text class="xl" x="508.1" y="429.60">2080</text>
<text class="xl" x="537.2" y="429.60">2100</text>
<polygon points="377.5,404.9 379.1,404.3 380.6,403.3 382.2,402.5 383.7,402.0 385.3,401.4 386.8,401.0 388.4,400.6 389.9,400.2 391.5,400.1 393.0,399.9 394.6,399.8 396.1,399.5 397.7,399.4 399.2,399.4 400.8,399.0 402.3,398.8 403.9,398.5 405.4,398.1 407.0,398.0 408.5,397.6 408.5,405.6 407.0,406.0 405.4,406.1 403.9,406.5 402.3,406.8 400.8,407.0 399.2,407.4 397.7,407.4 396.1,407.5 394.6,407.8 393.0,407.9 391.5,408.1 389.9,408.2 388.4,408.6 386.8,409.0 385.3,409.4 383.7,410.0 382.2,410.5 380.6,411.3 379.1,412.3 377.5,412.9" fill="rgb(30,30,30)" fill-opacity="0.17"/>
<polygon points="406.9,401.9 408.5,401.2 410.1,400.5 411.7,399.8 413.2,399.1 414.8,398.5 416.4,398.0 417.9,397.7 419.5,397.4 421.1,397.1 422.7,396.8 424.2,396.3 425.8,395.8 427.4,395.2 428.9,394.7 430.5,394.3 432.1,394.0 433.7,393.9 435.2,394.0 436.8,394.1 438.4,394.2 439.9,394.2 441.5,394.1 443.1,393.9 444.7,393.7 446.2,393.3 447.8,393.0 449.4,392.8 450.9,392.7 452.5,392.6 454.1,392.7 455.7,392.8 457.2,392.9 458.8,392.9 460.4,392.9 461.9,392.9 463.5,392.8 465.1,392.6 466.7,392.5 468.2,392.3 469.8,392.2 471.4,392.1 472.9,391.9 474.5,391.8 476.1,391.7 477.7,391.6 479.2,391.5 480.8,391.5 482.4,391.6 483.9,391.6 485.5,391.7 487.1,391.6 488.7,391.5 490.2,391.3 491.8,391.1 493.4,390.7 494.9,390.4 496.5,390.2 498.1,390.1 499.6,390.1 501.2,390.4 502.8,390.7 504.4,391.1 505.9,391.4 507.5,391.5 509.1,391.5 510.6,391.3 512.2,390.9 513.8,390.5 515.4,390.2 516.9,390.0 518.5,390.0 520.1,390.2 521.6,390.5 523.2,391.0 524.8,391.4 526.4,391.7 527.9,391.9 529.5,391.9 531.1,391.8 532.6,391.6 534.2,391.4 535.8,391.4 537.4,391.4 538.9,391.5 540.5,391.7 540.5,404.6 538.9,404.7 537.4,404.8 535.8,404.8 534.2,404.7 532.6,404.4 531.1,404.1 529.5,403.8 527.9,403.6 526.4,403.3 524.8,403.1 523.2,403.0 521.6,402.9 520.1,402.8 518.5,402.7 516.9,402.6 515.4,402.7 513.8,402.8 512.2,402.9 510.6,402.9 509.1,402.9 507.5,402.7 505.9,402.4 504.4,402.0 502.8,401.6 501.2,401.2 499.6,401.0 498.1,401.0 496.5,401.3 494.9,401.6 493.4,402.0 491.8,402.3 490.2,402.4 488.7,402.3 487.1,401.9 485.5,401.5 483.9,401.1 482.4,400.9 480.8,401.0 479.2,401.3 477.7,401.7 476.1,402.2 474.5,402.6 472.9,402.8 471.4,402.7 469.8,402.4 468.2,402.0 466.7,401.6 465.1,401.3 463.5,401.2 461.9,401.2 460.4,401.3 458.8,401.4 457.2,401.4 455.7,401.3 454.1,401.1 452.5,400.9 450.9,400.6 449.4,400.5 447.8,400.6 446.2,400.8 444.7,401.0 443.1,401.3 441.5,401.5 439.9,401.5 438.4,401.5 436.8,401.4 435.2,401.3 433.7,401.4 432.1,401.6 430.5,401.9 428.9,402.3 427.4,402.6 425.8,402.9 424.2,403.0 422.7,403.0 421.1,403.1 419.5,403.3 417.9,403.7 416.4,404.3 414.8,405.0 413.2,405.8 411.7,406.7 410.1,407.5 408.5,408.2 406.9,408.9" fill="rgb(0,173,207)" fill-opacity="0.20"/>
<polygon points="406.9,398.1 408.5,397.5 410.1,397.0 411.7,396.5 413.2,396.1 414.8,395.7 416.4,395.3 417.9,394.9 419.5,394.5 421.1,394.0 422.7,393.4 424.2,392.9 425.8,392.5 427.4,392.1 428.9,391.7 430.5,391.5 432.1,391.2 433.7,390.9 435.2,390.6 436.8,390.3 438.4,390.0 439.9,389.7 441.5,389.5 443.1,389.3 444.7,389.1 446.2,389.0 447.8,388.9 449.4,388.8 450.9,388.7 452.5,388.5 454.1,388.3 455.7,388.1 457.2,387.9 458.8,387.7 460.4,387.6 461.9,387.6 463.5,387.6 465.1,387.6 466.7,387.6 468.2,387.6 469.8,387.5 471.4,387.4 472.9,387.3 474.5,387.1 476.1,387.0 477.7,386.9 479.2,386.8 480.8,386.8 482.4,386.8 483.9,386.8 485.5,386.8 487.1,386.7 488.7,386.6 490.2,386.4 491.8,386.2 493.4,386.1 494.9,386.0 496.5,386.0 498.1,386.0 499.6,386.1 501.2,386.3 502.8,386.4 504.4,386.5 505.9,386.6 507.5,386.6 509.1,386.6 510.6,386.6 512.2,386.6 513.8,386.6 515.4,386.6 516.9,386.6 518.5,386.6 520.1,386.6 521.6,386.5 523.2,386.5 524.8,386.4 526.4,386.4 527.9,386.3 529.5,386.3 531.1,386.4 532.6,386.5 534.2,386.6 535.8,386.8 537.4,387.0 538.9,387.1 540.5,387.2 540.5,397.7 538.9,397.8 537.4,397.8 535.8,397.8 534.2,397.7 532.6,397.6 531.1,397.4 529.5,397.3 527.9,397.2 526.4,397.2 524.8,397.2 523.2,397.2 521.6,397.1 520.1,397.1 518.5,397.0 516.9,396.9 515.4,396.9 513.8,396.9 512.2,396.9 510.6,396.9 509.1,396.9 507.5,396.9 505.9,396.8 504.4,396.6 502.8,396.4 501.2,396.2 499.6,396.0 498.1,395.9 496.5,395.9 494.9,396.0 493.4,396.1 491.8,396.2 490.2,396.2 488.7,396.2 487.1,396.1 485.5,395.9 483.9,395.8 482.4,395.8 480.8,395.9 479.2,396.1 477.7,396.4 476.1,396.7 474.5,396.9 472.9,397.0 471.4,397.0 469.8,396.9 468.2,396.7 466.7,396.7 465.1,396.6 463.5,396.7 461.9,396.8 460.4,396.9 458.8,397.0 457.2,397.0 455.7,397.0 454.1,396.9 452.5,396.8 450.9,396.8 449.4,396.8 447.8,397.0 446.2,397.3 444.7,397.6 443.1,397.8 441.5,398.1 439.9,398.2 438.4,398.3 436.8,398.3 435.2,398.5 433.7,398.7 432.1,399.1 430.5,399.5 428.9,400.0 427.4,400.5 425.8,400.9 424.2,401.3 422.7,401.6 421.1,401.9 419.5,402.1 417.9,402.4 416.4,402.8 414.8,403.2 413.2,403.6 411.7,404.0 410.1,404.5 408.5,404.9 406.9,405.4" fill="rgb(23,60,102)" fill-opacity="0.20"/>
<polygon points="406.9,396.6 408.5,396.3 410.1,395.9 411.7,395.6 413.2,395.2 414.8,394.9 416.4,394.5 417.9,394.1 419.5,393.8 421.1,393.5 422.7,393.2 424.2,393.0 425.8,392.7 427.4,392.4 428.9,392.0 430.5,391.6 432.1,391.1 433.7,390.6 435.2,390.1 436.8,389.6 438.4,389.3 439.9,389.0 441.5,388.8 443.1,388.6 444.7,388.4 446.2,388.1 447.8,387.8 449.4,387.5 450.9,387.1 452.5,386.7 454.1,386.3 455.7,385.9 457.2,385.6 458.8,385.3 460.4,385.1 461.9,384.9 463.5,384.7 465.1,384.4 466.7,384.1 468.2,383.7 469.8,383.3 471.4,382.8 472.9,382.4 474.5,382.1 476.1,381.8 477.7,381.6 479.2,381.5 480.8,381.3 482.4,381.2 483.9,381.0 485.5,380.8 487.1,380.5 488.7,380.2 490.2,379.8 491.8,379.4 493.4,379.1 494.9,378.8 496.5,378.6 498.1,378.4 499.6,378.2 501.2,378.0 502.8,377.8 504.4,377.5 505.9,377.1 507.5,376.7 509.1,376.3 510.6,376.0 512.2,375.7 513.8,375.5 515.4,375.3 516.9,375.2 518.5,375.2 520.1,375.1 521.6,375.0 523.2,374.9 524.8,374.7 526.4,374.4 527.9,374.1 529.5,373.9 531.1,373.7 532.6,373.5 534.2,373.4 535.8,373.3 537.4,373.3 538.9,373.3 540.5,373.2 540.5,386.8 538.9,386.8 537.4,386.8 535.8,387.0 534.2,387.1 532.6,387.2 531.1,387.3 529.5,387.4 527.9,387.4 526.4,387.5 524.8,387.5 523.2,387.5 521.6,387.6 520.1,387.6 518.5,387.7 516.9,387.8 515.4,387.9 513.8,388.0 512.2,388.1 510.6,388.3 509.1,388.4 507.5,388.6 505.9,388.8 504.4,388.9 502.8,389.1 501.2,389.2 499.6,389.4 498.1,389.6 496.5,389.8 494.9,390.1 493.4,390.3 491.8,390.5 490.2,390.7 488.7,390.7 487.1,390.8 485.5,390.8 483.9,390.9 482.4,391.0 480.8,391.2 479.2,391.6 477.7,392.0 476.1,392.5 474.5,392.9 472.9,393.3 471.4,393.6 469.8,393.7 468.2,393.9 466.7,393.9 465.1,394.0 463.5,394.2 461.9,394.4 460.4,394.7 458.8,395.1 457.2,395.5 455.7,395.9 454.1,396.3 452.5,396.6 450.9,396.8 449.4,397.1 447.8,397.3 446.2,397.6 444.7,397.9 443.1,398.3 441.5,398.6 439.9,399.0 438.4,399.3 436.8,399.7 435.2,400.0 433.7,400.4 432.1,400.7 430.5,401.1 428.9,401.5 427.4,401.8 425.8,402.2 424.2,402.6 422.7,403.0 421.1,403.4 419.5,403.8 417.9,404.2 416.4,404.6 414.8,405.0 413.2,405.4 411.7,405.7 410.1,406.1 408.5,406.6 406.9,407.0" fill="rgb(247,148,32)" fill-opacity="0.22"/>
<polygon points="406.9,396.6 408.5,396.3 410.1,396.0 411.7,395.6 413.2,395.3 414.8,395.0 416.4,394.6 417.9,394.3 419.5,393.9 421.1,393.5 422.7,393.2 424.2,392.8 425.8,392.4 427.4,392.0 428.9,391.7 430.5,391.3 432.1,390.9 433.7,390.5 435.2,390.0 436.8,389.6 438.4,389.2 439.9,388.7 441.5,388.3 443.1,387.8 444.7,387.4 446.2,386.9 447.8,386.5 449.4,386.0 450.9,385.6 452.5,385.1 454.1,384.6 455.7,384.1 457.2,383.6 458.8,383.1 460.4,382.5 461.9,382.0 463.5,381.5 465.1,381.0 466.7,380.4 468.2,380.0 469.8,379.5 471.4,378.9 472.9,378.4 474.5,377.9 476.1,377.3 477.7,376.7 479.2,376.0 480.8,375.4 482.4,374.7 483.9,374.1 485.5,373.5 487.1,372.9 488.7,372.4 490.2,371.8 491.8,371.3 493.4,370.7 494.9,370.1 496.5,369.5 498.1,368.8 499.6,368.1 501.2,367.4 502.8,366.6 504.4,365.9 505.9,365.2 507.5,364.4 509.1,363.8 510.6,363.1 512.2,362.5 513.8,361.9 515.4,361.2 516.9,360.6 518.5,359.9 520.1,359.2 521.6,358.4 523.2,357.6 524.8,356.8 526.4,356.0 527.9,355.2 529.5,354.4 531.1,353.7 532.6,352.9 534.2,352.1 535.8,351.4 537.4,350.6 538.9,349.8 540.5,349.0 540.5,377.3 538.9,377.6 537.4,377.8 535.8,378.1 534.2,378.3 532.6,378.5 531.1,378.8 529.5,379.1 527.9,379.5 526.4,379.9 524.8,380.3 523.2,380.6 521.6,380.9 520.1,381.2 518.5,381.4 516.9,381.6 515.4,381.9 513.8,382.3 512.2,382.8 510.6,383.2 509.1,383.7 507.5,384.1 505.9,384.5 504.4,384.7 502.8,384.9 501.2,385.2 499.6,385.4 498.1,385.8 496.5,386.2 494.9,386.6 493.4,387.0 491.8,387.4 490.2,387.6 488.7,387.8 487.1,388.0 485.5,388.3 483.9,388.6 482.4,389.0 480.8,389.6 479.2,390.2 477.7,390.8 476.1,391.3 474.5,391.6 472.9,391.8 471.4,391.9 469.8,392.0 468.2,392.2 466.7,392.4 465.1,392.8 463.5,393.3 461.9,393.9 460.4,394.4 458.8,394.8 457.2,395.2 455.7,395.4 454.1,395.7 452.5,395.9 450.9,396.3 449.4,396.7 447.8,397.1 446.2,397.6 444.7,398.1 443.1,398.5 441.5,398.9 439.9,399.2 438.4,399.5 436.8,399.8 435.2,400.1 433.7,400.4 432.1,400.8 430.5,401.2 428.9,401.5 427.4,401.9 425.8,402.3 424.2,402.6 422.7,403.0 421.1,403.5 419.5,403.9 417.9,404.3 416.4,404.8 414.8,405.2 413.2,405.5 411.7,405.9 410.1,406.3 408.5,406.6 406.9,407.0" fill="rgb(231,29,37)" fill-opacity="0.24"/>
<polygon points="406.9,396.6 408.5,396.2 410.1,395.8 411.7,395.4 413.2,395.0 414.8,394.6 416.4,394.1 417.9,393.5 419.5,392.9 421.1,392.3 422.7,391.8 424.2,391.4 425.8,391.0 427.4,390.7 428.9,390.3 430.5,389.8 432.1,389.2 433.7,388.5 435.2,387.7 436.8,386.9 438.4,386.3 439.9,385.7 441.5,385.2 443.1,384.7 444.7,384.3 446.2,383.8 447.8,383.3 449.4,382.7 450.9,382.0 452.5,381.3 454.1,380.6 455.7,380.0 457.2,379.4 458.8,378.8 460.4,378.2 461.9,377.5 463.5,376.7 465.1,375.8 466.7,374.9 468.2,374.0 469.8,373.2 471.4,372.4 472.9,371.8 474.5,371.2 476.1,370.7 477.7,370.1 479.2,369.5 480.8,368.7 482.4,367.9 483.9,366.9 485.5,365.9 487.1,365.0 488.7,364.1 490.2,363.3 491.8,362.6 493.4,362.0 494.9,361.3 496.5,360.5 498.1,359.6 499.6,358.6 501.2,357.5 502.8,356.4 504.4,355.4 505.9,354.4 507.5,353.5 509.1,352.7 510.6,351.9 512.2,351.1 513.8,350.3 515.4,349.4 516.9,348.4 518.5,347.4 520.1,346.4 521.6,345.4 523.2,344.5 524.8,343.6 526.4,342.7 527.9,341.7 529.5,340.6 531.1,339.5 532.6,338.3 534.2,337.0 535.8,335.8 537.4,334.7 538.9,333.6 540.5,332.7 540.5,370.3 538.9,370.9 537.4,371.4 535.8,372.0 534.2,372.5 532.6,373.0 531.1,373.6 529.5,374.1 527.9,374.7 526.4,375.3 524.8,375.9 523.2,376.4 521.6,377.0 520.1,377.5 518.5,378.1 516.9,378.7 515.4,379.2 513.8,379.8 512.2,380.3 510.6,380.8 509.1,381.2 507.5,381.7 505.9,382.3 504.4,382.8 502.8,383.4 501.2,384.1 499.6,384.7 498.1,385.2 496.5,385.7 494.9,386.1 493.4,386.5 491.8,386.9 490.2,387.3 488.7,387.8 487.1,388.3 485.5,388.8 483.9,389.3 482.4,389.8 480.8,390.2 479.2,390.6 477.7,391.0 476.1,391.3 474.5,391.7 472.9,392.2 471.4,392.7 469.8,393.3 468.2,393.9 466.7,394.4 465.1,394.8 463.5,395.2 461.9,395.5 460.4,395.7 458.8,396.0 457.2,396.3 455.7,396.8 454.1,397.3 452.5,397.8 450.9,398.3 449.4,398.8 447.8,399.1 446.2,399.3 444.7,399.5 443.1,399.7 441.5,399.9 439.9,400.2 438.4,400.6 436.8,401.1 435.2,401.6 433.7,402.1 432.1,402.5 430.5,402.9 428.9,403.2 427.4,403.5 425.8,403.7 424.2,403.9 422.7,404.1 421.1,404.4 419.5,404.7 417.9,405.0 416.4,405.3 414.8,405.6 413.2,405.9 411.7,406.2 410.1,406.5 408.5,406.7 406.9,407.0" fill="rgb(149,27,30)" fill-opacity="0.20"/>
<polyline points="377.5,408.9 379.1,408.3 380.6,407.3 382.2,406.5 383.7,406.0 385.3,405.4 386.8,405.0 388.4,404.6 389.9,404.2 391.5,404.1 393.0,403.9 394.6,403.8 396.1,403.5 397.7,403.4 399.2,403.4 400.8,403.0 402.3,402.8 403.9,402.5 405.4,402.1 407.0,402.0 408.5,401.6" fill="none" stroke="rgb(35,35,35)" stroke-width="1.00" stroke-linejoin="round"/>
<polyline points="406.9,401.6 408.5,401.0 410.1,400.4 411.7,399.8 413.2,399.2 414.8,398.6 416.4,398.2 417.9,397.8 419.5,397.5 421.1,397.3 422.7,397.0 424.2,396.7 425.8,396.4 427.4,396.0 428.9,395.7 430.5,395.4 432.1,395.3 433.7,395.3 435.2,395.3 436.8,395.4 438.4,395.5 439.9,395.4 441.5,395.3 443.1,395.1 444.7,394.8 446.2,394.5 447.8,394.4 449.4,394.3 450.9,394.3 452.5,394.4 454.1,394.6 455.7,394.8 457.2,394.9 458.8,395.0 460.4,395.0 461.9,394.9 463.5,394.8 465.1,394.7 466.7,394.7 468.2,394.7 469.8,394.7 471.4,394.7 472.9,394.7 474.5,394.7 476.1,394.6 477.7,394.4 479.2,394.3 480.8,394.1 482.4,394.1 483.9,394.1 485.5,394.2 487.1,394.3 488.7,394.4 490.2,394.5 491.8,394.5 493.4,394.4 494.9,394.3 496.5,394.1 498.1,394.0 499.6,394.0 501.2,394.1 502.8,394.3 504.4,394.5 505.9,394.7 507.5,394.8 509.1,394.9 510.6,394.9 512.2,394.7 513.8,394.6 515.4,394.5 516.9,394.5 518.5,394.6 520.1,394.8 521.6,395.1 523.2,395.4 524.8,395.7 526.4,395.9 527.9,396.1 529.5,396.2 531.1,396.3 532.6,396.3 534.2,396.4 535.8,396.5 537.4,396.7 538.9,396.9 540.5,397.0" fill="none" stroke="rgb(0,173,207)" stroke-width="0.85" stroke-linejoin="round"/>
<polyline points="406.9,401.6 408.5,401.1 410.1,400.6 411.7,400.1 413.2,399.7 414.8,399.3 416.4,398.9 417.9,398.5 419.5,398.1 421.1,397.7 422.7,397.2 424.2,396.7 425.8,396.3 427.4,395.9 428.9,395.6 430.5,395.4 432.1,395.2 433.7,395.0 435.2,394.7 436.8,394.5 438.4,394.2 439.9,393.9 441.5,393.5 443.1,393.2 444.7,393.0 446.2,392.8 447.8,392.8 449.4,392.8 450.9,392.8 452.5,392.8 454.1,392.7 455.7,392.6 457.2,392.5 458.8,392.3 460.4,392.1 461.9,391.9 463.5,391.8 465.1,391.8 466.7,391.8 468.2,391.9 469.8,392.0 471.4,392.0 472.9,392.0 474.5,391.9 476.1,391.8 477.7,391.6 479.2,391.4 480.8,391.3 482.4,391.1 483.9,391.1 485.5,391.1 487.1,391.1 488.7,391.1 490.2,391.2 491.8,391.2 493.4,391.2 494.9,391.2 496.5,391.2 498.1,391.2 499.6,391.2 501.2,391.3 502.8,391.3 504.4,391.4 505.9,391.5 507.5,391.5 509.1,391.5 510.6,391.5 512.2,391.4 513.8,391.4 515.4,391.4 516.9,391.4 518.5,391.5 520.1,391.6 521.6,391.7 523.2,391.8 524.8,391.9 526.4,391.9 527.9,392.0 529.5,391.9 531.1,391.9 532.6,391.9 534.2,392.0 535.8,392.0 537.4,392.2 538.9,392.3 540.5,392.5" fill="none" stroke="rgb(23,60,102)" stroke-width="0.85" stroke-linejoin="round"/>
<polyline points="406.9,401.6 408.5,401.2 410.1,400.8 411.7,400.4 413.2,400.0 414.8,399.6 416.4,399.2 417.9,398.7 419.5,398.3 421.1,397.9 422.7,397.5 424.2,397.2 425.8,396.9 427.4,396.6 428.9,396.2 430.5,395.9 432.1,395.6 433.7,395.3 435.2,394.9 436.8,394.5 438.4,394.1 439.9,393.7 441.5,393.3 443.1,393.0 444.7,392.6 446.2,392.2 447.8,391.9 449.4,391.5 450.9,391.2 452.5,390.8 454.1,390.5 455.7,390.1 457.2,389.8 458.8,389.4 460.4,389.1 461.9,388.8 463.5,388.5 465.1,388.2 466.7,388.0 468.2,387.7 469.8,387.5 471.4,387.2 472.9,387.0 474.5,386.7 476.1,386.4 477.7,386.1 479.2,385.8 480.8,385.5 482.4,385.1 483.9,384.8 485.5,384.5 487.1,384.2 488.7,383.9 490.2,383.7 491.8,383.4 493.4,383.1 494.9,382.9 496.5,382.6 498.1,382.3 499.6,382.1 501.2,381.8 502.8,381.6 504.4,381.4 505.9,381.2 507.5,381.1 509.1,380.9 510.6,380.8 512.2,380.6 513.8,380.4 515.4,380.3 516.9,380.1 518.5,379.9 520.1,379.7 521.6,379.5 523.2,379.3 524.8,379.1 526.4,378.9 527.9,378.7 529.5,378.6 531.1,378.5 532.6,378.4 534.2,378.3 535.8,378.2 537.4,378.1 538.9,378.0 540.5,377.9" fill="none" stroke="rgb(247,148,32)" stroke-width="0.85" stroke-linejoin="round"/>
<polyline points="406.9,401.6 408.5,401.2 410.1,400.8 411.7,400.4 413.2,400.0 414.8,399.6 416.4,399.1 417.9,398.7 419.5,398.4 421.1,398.0 422.7,397.7 424.2,397.4 425.8,397.0 427.4,396.6 428.9,396.2 430.5,395.7 432.1,395.3 433.7,394.8 435.2,394.3 436.8,393.9 438.4,393.4 439.9,393.0 441.5,392.5 443.1,392.0 444.7,391.5 446.2,391.0 447.8,390.6 449.4,390.1 450.9,389.7 452.5,389.3 454.1,388.9 455.7,388.5 457.2,388.1 458.8,387.6 460.4,387.1 461.9,386.5 463.5,386.0 465.1,385.4 466.7,384.9 468.2,384.4 469.8,384.0 471.4,383.6 472.9,383.3 474.5,382.9 476.1,382.5 477.7,382.0 479.2,381.4 480.8,380.8 482.4,380.2 483.9,379.7 485.5,379.2 487.1,378.7 488.7,378.3 490.2,377.9 491.8,377.5 493.4,377.0 494.9,376.6 496.5,376.0 498.1,375.5 499.6,375.0 501.2,374.4 502.8,373.9 504.4,373.4 505.9,372.9 507.5,372.4 509.1,371.8 510.6,371.2 512.2,370.6 513.8,370.0 515.4,369.3 516.9,368.8 518.5,368.3 520.1,368.0 521.6,367.8 523.2,367.7 524.8,367.7 526.4,367.7 527.9,367.6 529.5,367.7 531.1,367.8 532.6,367.6 534.2,366.9 535.8,365.4 537.4,363.6 538.9,361.7 540.5,359.9" fill="none" stroke="rgb(231,29,37)" stroke-width="0.85" stroke-linejoin="round"/>
<polyline points="406.9,401.6 408.5,401.2 410.1,400.7 411.7,400.3 413.2,399.8 414.8,399.4 416.4,398.9 417.9,398.5 419.5,398.1 421.1,397.7 422.7,397.3 424.2,396.8 425.8,396.4 427.4,395.9 428.9,395.4 430.5,394.9 432.1,394.4 433.7,393.9 435.2,393.4 436.8,392.9 438.4,392.4 439.9,392.0 441.5,391.5 443.1,391.0 444.7,390.4 446.2,389.9 447.8,389.3 449.4,388.8 450.9,388.3 452.5,387.8 454.1,387.3 455.7,386.8 457.2,386.4 458.8,385.8 460.4,385.2 461.9,384.6 463.5,383.9 465.1,383.2 466.7,382.5 468.2,381.9 469.8,381.3 471.4,380.7 472.9,380.1 474.5,379.6 476.1,379.0 477.7,378.3 479.2,377.6 480.8,376.9 482.4,376.2 483.9,375.6 485.5,375.0 487.1,374.4 488.7,373.9 490.2,373.4 491.8,372.8 493.4,372.2 494.9,371.5 496.5,370.7 498.1,369.9 499.6,369.2 501.2,368.4 502.8,367.8 504.4,367.2 505.9,366.6 507.5,365.9 509.1,365.3 510.6,364.6 512.2,363.8 513.8,363.0 515.4,362.2 516.9,361.4 518.5,360.7 520.1,360.1 521.6,359.4 523.2,358.8 524.8,358.1 526.4,357.4 527.9,356.6 529.5,355.7 531.1,354.8 532.6,353.9 534.2,353.0 535.8,352.2 537.4,351.4 538.9,350.6 540.5,349.9" fill="none" stroke="rgb(149,27,30)" stroke-width="0.85" stroke-linejoin="round"/>
<rect x="399.5" y="437.05" width="4.6" height="1.5" fill="rgb(35,35,35)" fill-opacity="0.3"/>
<line x1="399.5" y1="437.80" x2="404.1" y2="437.80" stroke="rgb(35,35,35)" stroke-width="0.6"/>
<text class="lg" x="405.7" y="438.85" textLength="47.0" lengthAdjust="spacingAndGlyphs">Hist. Ref. Per., 1995-2014</text>
<rect x="399.5" y="441.65" width="4.6" height="1.5" fill="rgb(23,60,102)" fill-opacity="0.3"/>
<line x1="399.5" y1="442.40" x2="404.1" y2="442.40" stroke="rgb(23,60,102)" stroke-width="0.6"/>
<text class="lg" x="405.7" y="443.45" textLength="16.4" lengthAdjust="spacingAndGlyphs">SSP1-2.6</text>
<rect x="399.5" y="446.25" width="4.6" height="1.5" fill="rgb(231,29,37)" fill-opacity="0.3"/>
<line x1="399.5" y1="447.00" x2="404.1" y2="447.00" stroke="rgb(231,29,37)" stroke-width="0.6"/>
<text class="lg" x="405.7" y="448.05" textLength="16.4" lengthAdjust="spacingAndGlyphs">SSP3-7.0</text>
<rect x="458.0" y="437.05" width="4.6" height="1.5" fill="rgb(0,173,207)" fill-opacity="0.3"/>
<line x1="458.0" y1="437.80" x2="462.6" y2="437.80" stroke="rgb(0,173,207)" stroke-width="0.6"/>
<text class="lg" x="464.2" y="438.85" textLength="16.4" lengthAdjust="spacingAndGlyphs">SSP1-1.9</text>
<rect x="458.0" y="441.65" width="4.6" height="1.5" fill="rgb(247,148,32)" fill-opacity="0.3"/>
<line x1="458.0" y1="442.40" x2="462.6" y2="442.40" stroke="rgb(247,148,32)" stroke-width="0.6"/>
<text class="lg" x="464.2" y="443.45" textLength="16.4" lengthAdjust="spacingAndGlyphs">SSP2-4.5</text>
<rect x="458.0" y="446.25" width="4.6" height="1.5" fill="rgb(149,27,30)" fill-opacity="0.3"/>
<line x1="458.0" y1="447.00" x2="462.6" y2="447.00" stroke="rgb(149,27,30)" stroke-width="0.6"/>
<text class="lg" x="464.2" y="448.05" textLength="16.4" lengthAdjust="spacingAndGlyphs">SSP5-8.5</text>
</g>
</svg></body></html>
